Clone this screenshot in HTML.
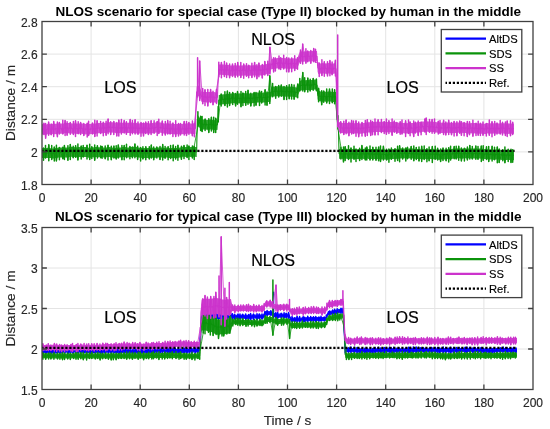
<!DOCTYPE html><html><head><meta charset="utf-8"><style>html,body{margin:0;padding:0;background:#fff;width:550px;height:429px;overflow:hidden}svg{display:block}text{font-family:"Liberation Sans", Arial, Helvetica, sans-serif}.s{stroke-width:0.2px;stroke:#000}.g{stroke-width:0.15px;stroke:#262626}.k{stroke-width:0.15px;stroke:#000}</style></head><body>
<svg width="550" height="429" viewBox="0 0 550 429">
<rect width="550" height="429" fill="#fff"/>
<path d="M91.10 21.50V184.50M140.20 21.50V184.50M189.30 21.50V184.50M238.40 21.50V184.50M287.50 21.50V184.50M336.60 21.50V184.50M385.70 21.50V184.50M434.80 21.50V184.50M483.90 21.50V184.50M42.00 151.90H533.00M42.00 119.30H533.00M42.00 86.70H533.00M42.00 54.10H533.00" stroke="#e4e4e4" stroke-width="1" fill="none"/>
<polygon points="42.0,147.9 42.6,148.0 43.2,148.2 43.8,148.2 44.5,148.1 45.1,148.1 45.7,148.0 46.3,148.0 46.9,148.0 47.5,148.1 48.1,147.9 48.8,148.1 49.4,147.9 50.0,148.1 50.6,148.2 51.2,148.2 51.8,148.4 52.4,148.5 53.0,148.4 53.7,148.5 54.3,148.4 54.9,148.3 55.5,148.1 56.1,148.1 56.7,147.9 57.3,147.8 58.0,147.7 58.6,147.6 59.2,147.6 59.8,147.5 60.4,147.5 61.0,147.5 61.6,147.5 62.3,147.5 62.9,147.5 63.5,147.6 64.1,147.5 64.7,147.6 65.3,147.6 65.9,147.7 66.5,147.5 67.2,147.5 67.8,147.5 68.4,147.6 69.0,147.3 69.6,147.1 70.2,147.1 70.8,146.9 71.5,146.8 72.1,146.9 72.7,146.9 73.3,146.9 73.9,147.1 74.5,147.2 75.1,147.1 75.8,147.3 76.4,147.2 77.0,147.4 77.6,147.4 78.2,147.1 78.8,147.0 79.4,147.1 80.1,147.2 80.7,147.1 81.3,147.0 81.9,147.0 82.5,146.9 83.1,147.0 83.7,147.0 84.3,147.0 85.0,147.1 85.6,147.1 86.2,147.2 86.8,147.1 87.4,147.2 88.0,147.5 88.6,147.7 89.3,147.4 89.9,147.5 90.5,147.7 91.1,147.6 91.7,147.4 92.3,147.3 92.9,147.2 93.6,147.3 94.2,147.6 94.8,147.3 95.4,147.0 96.0,147.0 96.6,147.1 97.2,147.1 97.9,147.4 98.5,147.3 99.1,147.3 99.7,147.3 100.3,147.4 100.9,147.4 101.5,147.2 102.1,147.3 102.8,147.3 103.4,147.5 104.0,147.5 104.6,147.5 105.2,147.6 105.8,147.5 106.4,147.4 107.1,147.2 107.7,147.1 108.3,147.1 108.9,147.1 109.5,147.0 110.1,147.2 110.7,147.3 111.4,147.6 112.0,147.7 112.6,147.6 113.2,147.5 113.8,147.6 114.4,148.1 115.0,148.0 115.7,147.9 116.3,147.9 116.9,147.7 117.5,147.8 118.1,147.8 118.7,147.6 119.3,147.7 119.9,147.5 120.6,147.4 121.2,147.4 121.8,147.4 122.4,147.1 123.0,146.9 123.6,147.0 124.2,146.9 124.9,146.9 125.5,147.1 126.1,147.3 126.7,147.4 127.3,147.5 127.9,147.6 128.5,147.4 129.2,147.3 129.8,147.2 130.4,147.0 131.0,147.0 131.6,147.0 132.2,147.1 132.8,147.1 133.4,146.8 134.1,146.8 134.7,146.8 135.3,147.0 135.9,147.0 136.5,147.0 137.1,147.0 137.7,147.2 138.4,147.4 139.0,147.5 139.6,147.8 140.2,147.8 140.8,147.9 141.4,147.9 142.0,147.9 142.7,148.1 143.3,148.1 143.9,148.3 144.5,147.9 145.1,148.1 145.7,147.9 146.3,147.9 147.0,148.0 147.6,148.0 148.2,148.0 148.8,148.0 149.4,148.0 150.0,147.9 150.6,147.9 151.2,147.8 151.9,147.8 152.5,147.8 153.1,147.8 153.7,147.8 154.3,147.7 154.9,147.9 155.5,147.8 156.2,147.6 156.8,147.5 157.4,147.5 158.0,147.4 158.6,147.4 159.2,147.3 159.8,147.2 160.5,147.6 161.1,147.6 161.7,147.6 162.3,147.6 162.9,147.6 163.5,148.0 164.1,147.9 164.8,147.9 165.4,147.7 166.0,147.6 166.6,147.5 167.2,147.7 167.8,147.9 168.4,147.9 169.0,147.9 169.7,148.0 170.3,148.0 170.9,147.9 171.5,148.1 172.1,148.1 172.7,148.2 173.3,148.2 174.0,148.1 174.6,148.1 175.2,148.1 175.8,148.2 176.4,148.1 177.0,148.1 177.6,148.0 178.3,147.8 178.9,147.9 179.5,147.6 180.1,147.4 180.7,147.2 181.3,147.2 181.9,147.0 182.5,146.7 183.2,146.6 183.8,146.7 184.4,146.8 185.0,146.9 185.6,146.9 186.2,146.9 186.8,146.8 187.5,146.7 188.1,146.7 188.7,146.8 189.3,146.8 189.9,146.9 190.5,147.0 191.1,146.9 191.8,146.9 192.4,146.8 193.0,146.7 193.6,146.8 194.2,146.9 194.8,146.9 195.4,146.9 196.1,147.0 196.7,147.0 197.3,114.2 197.9,115.1 198.5,116.2 199.1,117.1 199.7,118.1 200.3,119.0 201.0,119.0 201.6,119.2 202.2,119.2 202.8,119.3 203.4,119.4 204.0,119.5 204.6,119.4 205.3,119.5 205.9,119.6 206.5,119.8 207.1,119.9 207.7,119.8 208.3,120.0 208.9,119.9 209.6,119.4 210.2,119.5 210.8,119.5 211.4,119.6 212.0,119.7 212.6,119.9 213.2,120.1 213.8,120.0 214.5,120.2 215.1,120.0 215.7,120.2 216.3,120.2 216.9,119.9 217.5,119.9 218.1,110.7 218.8,94.9 219.4,94.9 220.0,94.8 220.6,94.7 221.2,94.8 221.8,94.7 222.4,94.4 223.1,94.1 223.7,94.5 224.3,94.4 224.9,94.3 225.5,94.2 226.1,94.2 226.7,94.0 227.4,93.8 228.0,93.7 228.6,94.0 229.2,93.9 229.8,93.8 230.4,93.6 231.0,93.6 231.6,93.4 232.3,93.1 232.9,93.2 233.5,93.1 234.1,93.3 234.7,93.3 235.3,93.4 235.9,93.9 236.6,93.7 237.2,93.5 237.8,93.5 238.4,93.4 239.0,93.4 239.6,93.3 240.2,93.5 240.9,93.5 241.5,93.7 242.1,93.6 242.7,93.1 243.3,92.9 243.9,92.9 244.5,93.2 245.2,93.1 245.8,93.2 246.4,93.2 247.0,93.3 247.6,93.2 248.2,93.3 248.8,93.3 249.4,93.4 250.1,93.4 250.7,93.3 251.3,93.4 251.9,93.4 252.5,93.3 253.1,93.1 253.7,93.0 254.4,93.0 255.0,92.7 255.6,92.6 256.2,92.7 256.8,92.5 257.4,92.5 258.0,92.6 258.7,92.7 259.3,92.4 259.9,92.3 260.5,92.3 261.1,92.5 261.7,92.7 262.3,92.9 262.9,92.6 263.6,92.5 264.2,92.5 264.8,92.5 265.4,92.6 266.0,92.6 266.6,92.5 267.2,92.2 267.9,92.2 268.5,92.0 269.1,92.0 269.7,92.1 270.3,92.0 270.9,88.5 271.5,86.4 272.2,86.5 272.8,86.6 273.4,86.5 274.0,86.4 274.6,86.6 275.2,86.5 275.8,86.5 276.5,86.4 277.1,86.3 277.7,86.2 278.3,86.3 278.9,86.3 279.5,86.3 280.1,86.1 280.7,86.2 281.4,86.2 282.0,86.5 282.6,86.3 283.2,86.4 283.8,86.5 284.4,86.5 285.0,86.5 285.7,86.7 286.3,86.8 286.9,86.6 287.5,86.8 288.1,86.6 288.7,86.6 289.3,86.7 290.0,86.7 290.6,86.8 291.2,86.7 291.8,86.6 292.4,86.7 293.0,86.8 293.6,86.9 294.3,87.0 294.9,87.0 295.5,87.3 296.1,87.4 296.7,87.4 297.3,87.3 297.9,85.5 298.5,84.0 299.2,82.4 299.8,80.6 300.4,80.7 301.0,80.5 301.6,80.5 302.2,80.2 302.8,80.0 303.5,80.1 304.1,80.0 304.7,80.0 305.3,80.1 305.9,80.4 306.5,80.0 307.1,80.1 307.8,80.1 308.4,80.0 309.0,80.3 309.6,80.0 310.2,80.0 310.8,80.1 311.4,80.0 312.1,79.9 312.7,79.9 313.3,79.8 313.9,79.7 314.5,79.5 315.1,79.5 315.7,79.4 316.3,79.7 317.0,79.8 317.6,89.2 318.2,91.1 318.8,91.1 319.4,91.1 320.0,91.2 320.6,91.4 321.3,91.6 321.9,91.6 322.5,91.7 323.1,91.7 323.7,91.6 324.3,91.5 324.9,91.5 325.6,91.7 326.2,91.7 326.8,91.7 327.4,91.7 328.0,91.6 328.6,91.5 329.2,91.6 329.8,91.6 330.5,91.6 331.1,91.8 331.7,91.8 332.3,91.9 332.9,92.0 333.5,92.0 334.1,92.1 334.8,92.1 335.4,91.9 336.0,91.9 336.6,107.1 337.2,115.0 337.8,115.8 338.4,121.7 339.1,149.0 339.7,148.9 340.3,148.9 340.9,148.8 341.5,148.8 342.1,148.9 342.7,148.9 343.4,148.9 344.0,148.7 344.6,148.6 345.2,148.6 345.8,148.8 346.4,148.8 347.0,148.8 347.6,149.0 348.3,148.9 348.9,148.9 349.5,148.9 350.1,148.8 350.7,148.8 351.3,148.8 351.9,148.9 352.6,148.9 353.2,148.8 353.8,148.8 354.4,148.8 355.0,148.9 355.6,149.1 356.2,149.0 356.9,149.2 357.5,149.3 358.1,149.2 358.7,149.1 359.3,148.9 359.9,149.0 360.5,149.0 361.1,148.9 361.8,148.8 362.4,148.8 363.0,148.8 363.6,148.9 364.2,149.1 364.8,148.9 365.4,148.8 366.1,148.7 366.7,148.6 367.3,148.6 367.9,148.8 368.5,148.9 369.1,148.9 369.7,148.9 370.4,149.0 371.0,149.0 371.6,149.1 372.2,149.2 372.8,149.4 373.4,149.4 374.0,149.1 374.7,149.1 375.3,149.0 375.9,148.8 376.5,148.9 377.1,149.0 377.7,149.2 378.3,149.3 378.9,149.4 379.6,149.2 380.2,149.3 380.8,149.4 381.4,149.4 382.0,149.4 382.6,149.4 383.2,149.3 383.9,149.4 384.5,149.5 385.1,149.7 385.7,149.7 386.3,149.9 386.9,150.0 387.5,149.9 388.2,149.7 388.8,149.6 389.4,149.4 390.0,149.3 390.6,149.2 391.2,149.2 391.8,148.9 392.5,149.0 393.1,149.2 393.7,149.1 394.3,149.4 394.9,149.2 395.5,148.9 396.1,149.0 396.7,148.7 397.4,148.8 398.0,148.7 398.6,148.7 399.2,148.7 399.8,148.5 400.4,148.4 401.0,148.5 401.7,148.3 402.3,148.5 402.9,148.5 403.5,148.4 404.1,148.4 404.7,148.4 405.3,148.3 406.0,148.1 406.6,148.2 407.2,148.3 407.8,148.4 408.4,148.5 409.0,148.5 409.6,148.3 410.2,148.5 410.9,148.7 411.5,148.6 412.1,148.6 412.7,148.6 413.3,148.5 413.9,148.6 414.5,148.9 415.2,148.7 415.8,148.9 416.4,149.0 417.0,149.0 417.6,149.1 418.2,148.9 418.8,149.0 419.5,149.1 420.1,149.1 420.7,149.4 421.3,149.4 421.9,149.4 422.5,149.5 423.1,149.2 423.8,149.1 424.4,148.9 425.0,148.9 425.6,149.0 426.2,149.4 426.8,149.2 427.4,149.2 428.0,149.3 428.7,149.3 429.3,149.3 429.9,149.2 430.5,149.0 431.1,149.2 431.7,149.3 432.3,149.2 433.0,149.3 433.6,149.2 434.2,149.4 434.8,149.3 435.4,149.2 436.0,149.3 436.6,149.4 437.3,149.6 437.9,149.7 438.5,149.8 439.1,150.0 439.7,149.7 440.3,149.7 440.9,149.4 441.6,149.4 442.2,149.7 442.8,149.6 443.4,149.6 444.0,149.6 444.6,149.4 445.2,149.2 445.8,149.4 446.5,149.4 447.1,149.2 447.7,149.2 448.3,149.1 448.9,149.1 449.5,149.3 450.1,149.1 450.8,148.9 451.4,149.1 452.0,148.9 452.6,148.8 453.2,148.6 453.8,148.7 454.4,148.5 455.1,148.5 455.7,148.5 456.3,148.5 456.9,148.4 457.5,148.4 458.1,148.3 458.7,148.4 459.4,148.4 460.0,148.6 460.6,148.6 461.2,148.4 461.8,148.6 462.4,148.8 463.0,148.6 463.6,148.6 464.3,148.4 464.9,148.2 465.5,148.2 466.1,148.5 466.7,148.5 467.3,148.5 467.9,148.4 468.6,148.4 469.2,148.4 469.8,148.3 470.4,148.4 471.0,148.2 471.6,148.5 472.2,148.6 472.9,148.6 473.5,148.6 474.1,148.5 474.7,148.6 475.3,148.6 475.9,148.6 476.5,148.5 477.1,148.6 477.8,148.7 478.4,148.6 479.0,148.6 479.6,148.6 480.2,148.8 480.8,148.8 481.4,148.7 482.1,148.8 482.7,148.8 483.3,149.1 483.9,149.2 484.5,149.1 485.1,149.0 485.7,149.0 486.4,149.1 487.0,149.2 487.6,149.2 488.2,149.5 488.8,149.5 489.4,149.5 490.0,149.7 490.7,149.6 491.3,149.5 491.9,149.4 492.5,149.7 493.1,149.9 493.7,149.7 494.3,149.6 494.9,149.7 495.6,149.6 496.2,149.6 496.8,149.6 497.4,149.6 498.0,149.5 498.6,149.4 499.2,149.4 499.9,149.4 500.5,149.7 501.1,149.9 501.7,149.9 502.3,149.9 502.9,149.9 503.5,150.0 504.2,150.2 504.8,150.0 505.4,150.1 506.0,150.2 506.6,150.1 507.2,149.8 507.8,150.1 508.4,150.1 509.1,150.2 509.7,150.2 510.3,150.2 510.9,150.3 511.5,150.3 512.1,150.0 512.7,150.2 513.4,150.3 514.0,150.4 514.0,160.3 513.4,160.3 512.7,160.1 512.1,160.0 511.5,160.2 510.9,160.3 510.3,160.2 509.7,160.1 509.1,160.1 508.4,160.1 507.8,160.0 507.2,159.7 506.6,160.0 506.0,160.1 505.4,160.0 504.8,160.0 504.2,160.2 503.5,160.0 502.9,159.8 502.3,159.9 501.7,159.9 501.1,159.8 500.5,159.7 499.9,159.4 499.2,159.4 498.6,159.4 498.0,159.5 497.4,159.6 496.8,159.5 496.2,159.6 495.6,159.5 494.9,159.7 494.3,159.6 493.7,159.7 493.1,159.9 492.5,159.6 491.9,159.4 491.3,159.4 490.7,159.5 490.0,159.6 489.4,159.4 488.8,159.5 488.2,159.5 487.6,159.2 487.0,159.2 486.4,159.1 485.7,159.0 485.1,158.9 484.5,159.1 483.9,159.2 483.3,159.0 482.7,158.8 482.1,158.8 481.4,158.6 480.8,158.7 480.2,158.7 479.6,158.6 479.0,158.6 478.4,158.5 477.8,158.7 477.1,158.6 476.5,158.5 475.9,158.5 475.3,158.6 474.7,158.5 474.1,158.5 473.5,158.6 472.9,158.5 472.2,158.5 471.6,158.4 471.0,158.2 470.4,158.3 469.8,158.3 469.2,158.3 468.6,158.3 467.9,158.4 467.3,158.4 466.7,158.5 466.1,158.5 465.5,158.2 464.9,158.2 464.3,158.4 463.6,158.5 463.0,158.6 462.4,158.8 461.8,158.6 461.2,158.4 460.6,158.6 460.0,158.6 459.4,158.3 458.7,158.4 458.1,158.3 457.5,158.4 456.9,158.3 456.3,158.4 455.7,158.5 455.1,158.5 454.4,158.5 453.8,158.7 453.2,158.6 452.6,158.8 452.0,158.9 451.4,159.0 450.8,158.9 450.1,159.1 449.5,159.3 448.9,159.1 448.3,159.0 447.7,159.2 447.1,159.1 446.5,159.4 445.8,159.3 445.2,159.2 444.6,159.4 444.0,159.6 443.4,159.6 442.8,159.6 442.2,159.7 441.6,159.3 440.9,159.3 440.3,159.6 439.7,159.7 439.1,159.9 438.5,159.7 437.9,159.7 437.3,159.5 436.6,159.3 436.0,159.2 435.4,159.2 434.8,159.3 434.2,159.3 433.6,159.2 433.0,159.3 432.3,159.2 431.7,159.3 431.1,159.1 430.5,159.0 429.9,159.2 429.3,159.3 428.7,159.3 428.0,159.3 427.4,159.2 426.8,159.2 426.2,159.4 425.6,159.0 425.0,158.9 424.4,158.9 423.8,159.1 423.1,159.1 422.5,159.4 421.9,159.3 421.3,159.4 420.7,159.3 420.1,159.0 419.5,159.0 418.8,158.9 418.2,158.8 417.6,159.0 417.0,158.9 416.4,158.9 415.8,158.9 415.2,158.7 414.5,158.8 413.9,158.6 413.3,158.5 412.7,158.6 412.1,158.6 411.5,158.6 410.9,158.7 410.2,158.5 409.6,158.3 409.0,158.4 408.4,158.4 407.8,158.3 407.2,158.3 406.6,158.2 406.0,158.0 405.3,158.3 404.7,158.4 404.1,158.3 403.5,158.4 402.9,158.5 402.3,158.5 401.7,158.3 401.0,158.4 400.4,158.4 399.8,158.5 399.2,158.7 398.6,158.7 398.0,158.7 397.4,158.8 396.7,158.7 396.1,159.0 395.5,158.9 394.9,159.2 394.3,159.3 393.7,159.1 393.1,159.1 392.5,159.0 391.8,158.9 391.2,159.1 390.6,159.2 390.0,159.2 389.4,159.4 388.8,159.6 388.2,159.6 387.5,159.8 386.9,160.0 386.3,159.8 385.7,159.6 385.1,159.6 384.5,159.4 383.9,159.4 383.2,159.2 382.6,159.4 382.0,159.3 381.4,159.4 380.8,159.4 380.2,159.2 379.6,159.2 378.9,159.3 378.3,159.2 377.7,159.2 377.1,159.0 376.5,158.9 375.9,158.8 375.3,159.0 374.7,159.1 374.0,159.1 373.4,159.4 372.8,159.3 372.2,159.2 371.6,159.1 371.0,159.0 370.4,158.9 369.7,158.9 369.1,158.9 368.5,158.9 367.9,158.8 367.3,158.6 366.7,158.5 366.1,158.6 365.4,158.7 364.8,158.9 364.2,159.0 363.6,158.9 363.0,158.7 362.4,158.7 361.8,158.7 361.1,158.8 360.5,158.9 359.9,159.0 359.3,158.9 358.7,159.1 358.1,159.1 357.5,159.2 356.9,159.1 356.2,159.0 355.6,159.0 355.0,158.9 354.4,158.7 353.8,158.7 353.2,158.7 352.6,158.8 351.9,158.9 351.3,158.7 350.7,158.7 350.1,158.7 349.5,158.9 348.9,158.9 348.3,158.9 347.6,158.9 347.0,158.7 346.4,158.8 345.8,158.8 345.2,158.6 344.6,158.6 344.0,158.7 343.4,158.9 342.7,158.9 342.1,158.8 341.5,158.7 340.9,158.7 340.3,158.9 339.7,158.8 339.1,158.9 338.4,131.7 337.8,125.7 337.2,124.9 336.6,117.0 336.0,101.8 335.4,101.8 334.8,102.0 334.1,102.0 333.5,102.0 332.9,102.0 332.3,101.9 331.7,101.7 331.1,101.8 330.5,101.6 329.8,101.5 329.2,101.6 328.6,101.5 328.0,101.5 327.4,101.7 326.8,101.6 326.2,101.7 325.6,101.7 324.9,101.4 324.3,101.5 323.7,101.5 323.1,101.6 322.5,101.7 321.9,101.6 321.3,101.6 320.6,101.3 320.0,101.2 319.4,101.0 318.8,101.0 318.2,101.1 317.6,99.1 317.0,89.8 316.3,89.6 315.7,89.4 315.1,89.5 314.5,89.5 313.9,89.7 313.3,89.7 312.7,89.9 312.1,89.8 311.4,89.9 310.8,90.1 310.2,90.0 309.6,90.0 309.0,90.2 308.4,90.0 307.8,90.0 307.1,90.1 306.5,90.0 305.9,90.4 305.3,90.0 304.7,90.0 304.1,90.0 303.5,90.0 302.8,90.0 302.2,90.1 301.6,90.4 301.0,90.5 300.4,90.6 299.8,90.6 299.2,92.4 298.5,94.0 297.9,95.4 297.3,97.2 296.7,97.4 296.1,97.4 295.5,97.3 294.9,97.0 294.3,97.0 293.6,96.8 293.0,96.7 292.4,96.7 291.8,96.6 291.2,96.6 290.6,96.8 290.0,96.7 289.3,96.7 288.7,96.6 288.1,96.6 287.5,96.7 286.9,96.6 286.3,96.7 285.7,96.7 285.0,96.5 284.4,96.5 283.8,96.5 283.2,96.4 282.6,96.2 282.0,96.5 281.4,96.2 280.7,96.2 280.1,96.1 279.5,96.2 278.9,96.3 278.3,96.2 277.7,96.2 277.1,96.2 276.5,96.3 275.8,96.4 275.2,96.4 274.6,96.6 274.0,96.4 273.4,96.4 272.8,96.5 272.2,96.5 271.5,96.4 270.9,98.5 270.3,102.0 269.7,102.1 269.1,102.0 268.5,102.0 267.9,102.1 267.2,102.1 266.6,102.5 266.0,102.5 265.4,102.5 264.8,102.5 264.2,102.5 263.6,102.5 262.9,102.5 262.3,102.8 261.7,102.7 261.1,102.5 260.5,102.2 259.9,102.3 259.3,102.4 258.7,102.6 258.0,102.6 257.4,102.5 256.8,102.5 256.2,102.6 255.6,102.6 255.0,102.7 254.4,102.9 253.7,103.0 253.1,103.1 252.5,103.3 251.9,103.3 251.3,103.4 250.7,103.3 250.1,103.4 249.4,103.4 248.8,103.2 248.2,103.3 247.6,103.2 247.0,103.2 246.4,103.1 245.8,103.2 245.2,103.0 244.5,103.1 243.9,102.9 243.3,102.9 242.7,103.1 242.1,103.6 241.5,103.6 240.9,103.4 240.2,103.4 239.6,103.3 239.0,103.4 238.4,103.3 237.8,103.5 237.2,103.5 236.6,103.7 235.9,103.9 235.3,103.3 234.7,103.3 234.1,103.3 233.5,103.1 232.9,103.1 232.3,103.1 231.6,103.4 231.0,103.5 230.4,103.6 229.8,103.8 229.2,103.8 228.6,104.0 228.0,103.6 227.4,103.7 226.7,103.9 226.1,104.2 225.5,104.2 224.9,104.3 224.3,104.4 223.7,104.5 223.1,104.1 222.4,104.4 221.8,104.6 221.2,104.8 220.6,104.7 220.0,104.8 219.4,104.8 218.8,104.9 218.1,120.6 217.5,129.9 216.9,129.8 216.3,130.2 215.7,130.1 215.1,130.0 214.5,130.1 213.8,130.0 213.2,130.0 212.6,129.8 212.0,129.6 211.4,129.6 210.8,129.5 210.2,129.4 209.6,129.4 208.9,129.9 208.3,129.9 207.7,129.7 207.1,129.8 206.5,129.7 205.9,129.6 205.3,129.5 204.6,129.4 204.0,129.5 203.4,129.4 202.8,129.2 202.2,129.2 201.6,129.2 201.0,129.0 200.3,128.9 199.7,128.0 199.1,127.1 198.5,126.1 197.9,125.1 197.3,124.1 196.7,157.0 196.1,156.9 195.4,156.8 194.8,156.9 194.2,156.9 193.6,156.8 193.0,156.7 192.4,156.7 191.8,156.8 191.1,156.9 190.5,156.9 189.9,156.8 189.3,156.7 188.7,156.8 188.1,156.7 187.5,156.7 186.8,156.8 186.2,156.9 185.6,156.9 185.0,156.8 184.4,156.7 183.8,156.7 183.2,156.6 182.5,156.7 181.9,157.0 181.3,157.2 180.7,157.2 180.1,157.4 179.5,157.5 178.9,157.8 178.3,157.8 177.6,157.9 177.0,158.0 176.4,158.1 175.8,158.2 175.2,158.0 174.6,158.0 174.0,158.1 173.3,158.2 172.7,158.2 172.1,158.1 171.5,158.0 170.9,157.9 170.3,158.0 169.7,158.0 169.0,157.9 168.4,157.9 167.8,157.8 167.2,157.6 166.6,157.5 166.0,157.6 165.4,157.7 164.8,157.8 164.1,157.9 163.5,157.9 162.9,157.6 162.3,157.6 161.7,157.5 161.1,157.5 160.5,157.6 159.8,157.2 159.2,157.3 158.6,157.4 158.0,157.4 157.4,157.4 156.8,157.4 156.2,157.6 155.5,157.8 154.9,157.9 154.3,157.7 153.7,157.8 153.1,157.8 152.5,157.7 151.9,157.7 151.2,157.8 150.6,157.8 150.0,157.9 149.4,158.0 148.8,158.0 148.2,158.0 147.6,158.0 147.0,158.0 146.3,157.9 145.7,157.9 145.1,158.0 144.5,157.9 143.9,158.2 143.3,158.0 142.7,158.0 142.0,157.9 141.4,157.8 140.8,157.9 140.2,157.8 139.6,157.7 139.0,157.5 138.4,157.3 137.7,157.2 137.1,157.0 136.5,157.0 135.9,157.0 135.3,157.0 134.7,156.8 134.1,156.8 133.4,156.8 132.8,157.0 132.2,157.0 131.6,157.0 131.0,156.9 130.4,157.0 129.8,157.1 129.2,157.2 128.5,157.4 127.9,157.5 127.3,157.5 126.7,157.4 126.1,157.2 125.5,157.1 124.9,156.9 124.2,156.8 123.6,156.9 123.0,156.9 122.4,157.1 121.8,157.4 121.2,157.4 120.6,157.3 119.9,157.4 119.3,157.6 118.7,157.6 118.1,157.8 117.5,157.7 116.9,157.7 116.3,157.8 115.7,157.9 115.0,158.0 114.4,158.0 113.8,157.6 113.2,157.4 112.6,157.6 112.0,157.6 111.4,157.6 110.7,157.3 110.1,157.2 109.5,157.0 108.9,157.0 108.3,157.0 107.7,157.0 107.1,157.1 106.4,157.4 105.8,157.5 105.2,157.5 104.6,157.4 104.0,157.5 103.4,157.4 102.8,157.2 102.1,157.3 101.5,157.2 100.9,157.4 100.3,157.3 99.7,157.3 99.1,157.2 98.5,157.2 97.9,157.4 97.2,157.1 96.6,157.0 96.0,156.9 95.4,157.0 94.8,157.3 94.2,157.5 93.6,157.3 92.9,157.2 92.3,157.3 91.7,157.4 91.1,157.5 90.5,157.7 89.9,157.5 89.3,157.4 88.6,157.7 88.0,157.4 87.4,157.2 86.8,157.1 86.2,157.1 85.6,157.1 85.0,157.0 84.3,157.0 83.7,156.9 83.1,156.9 82.5,156.9 81.9,156.9 81.3,156.9 80.7,157.1 80.1,157.2 79.4,157.1 78.8,156.9 78.2,157.1 77.6,157.4 77.0,157.4 76.4,157.2 75.8,157.3 75.1,157.0 74.5,157.1 73.9,157.1 73.3,156.9 72.7,156.9 72.1,156.9 71.5,156.8 70.8,156.8 70.2,157.1 69.6,157.0 69.0,157.3 68.4,157.5 67.8,157.5 67.2,157.4 66.5,157.4 65.9,157.6 65.3,157.6 64.7,157.6 64.1,157.5 63.5,157.6 62.9,157.4 62.3,157.4 61.6,157.5 61.0,157.5 60.4,157.5 59.8,157.4 59.2,157.6 58.6,157.6 58.0,157.7 57.3,157.8 56.7,157.9 56.1,158.0 55.5,158.0 54.9,158.2 54.3,158.4 53.7,158.5 53.0,158.4 52.4,158.5 51.8,158.4 51.2,158.2 50.6,158.1 50.0,158.1 49.4,157.9 48.8,158.0 48.1,157.9 47.5,158.1 46.9,158.0 46.3,157.9 45.7,158.0 45.1,158.1 44.5,158.1 43.8,158.2 43.2,158.1 42.6,157.9 42.0,157.9" fill="#30a330"/><path d="M43.5 148.1V160.3M45.5 145.5V158.1M48.8 144.8V160.7M51.7 145.4V159.4M54.3 147.0V160.9M56.4 145.2V161.0M59.4 147.5V159.8M62.8 147.3V158.8M64.4 145.6V159.6M67.9 145.8V160.3M70.3 144.4V159.4M73.2 146.2V157.7M75.6 145.7V157.2M77.9 144.0V160.1M81.2 146.0V159.0M83.2 145.6V157.1M87.0 145.2V159.0M89.7 144.2V159.4M91.8 146.8V158.4M94.7 145.0V160.2M97.4 145.8V158.0M100.7 146.1V157.8M102.1 146.4V158.3M105.2 146.0V158.7M108.0 145.2V160.0M111.3 146.3V159.7M113.9 146.0V158.0M116.2 145.8V159.1M118.3 144.9V158.0M121.9 145.5V159.7M124.2 145.6V159.7M126.5 144.2V157.7M129.9 146.6V158.8M132.4 146.9V157.8M134.9 143.9V157.8M137.6 146.3V159.6M140.6 147.4V161.1M142.9 146.8V159.0M145.8 146.8V159.7M149.3 146.8V159.0M151.3 145.0V158.0M153.7 146.9V159.8M156.8 147.0V158.0M160.0 146.6V159.6M162.7 144.5V160.1M165.1 146.4V158.2M168.1 146.7V159.8M170.6 145.4V158.6M173.2 145.1V160.7M175.6 146.5V159.1M177.9 145.2V160.2M181.4 146.3V159.3M184.0 145.6V158.6M187.1 144.9V157.5M188.9 146.0V159.5M192.4 145.9V157.9M194.2 146.3V159.5M197.9 111.8V126.6M200.6 116.2V130.4M202.1 116.6V131.6M205.1 119.1V130.6M208.8 118.8V132.4M211.4 117.2V131.1M213.7 117.2V132.4M215.7 118.3V132.4M218.2 106.5V122.0M221.2 94.0V106.1M224.9 91.8V105.5M227.4 91.0V107.0M229.6 92.5V105.5M232.7 92.4V104.5M235.6 93.5V105.9M237.5 91.4V104.3M241.0 91.4V106.7M242.9 93.1V105.5M245.7 91.5V105.3M248.0 90.2V104.2M250.8 93.2V106.0M254.1 92.5V106.0M256.0 92.5V105.2M259.5 90.9V105.4M261.6 91.4V103.0M265.1 89.7V105.0M267.0 92.1V105.2M269.8 75.8V103.6M272.6 83.4V96.8M275.7 86.4V98.2M278.7 85.4V97.1M281.3 84.9V96.3M284.0 86.5V99.6M286.6 85.7V99.4M289.2 84.7V98.8M291.6 84.6V99.1M294.1 85.0V99.2M297.7 84.0V97.7M299.8 78.6V91.0M302.8 72.5V91.0M304.7 77.8V91.7M307.8 78.1V91.9M310.2 79.3V91.0M313.2 78.4V90.2M316.4 78.9V90.8M318.6 88.2V101.7M321.7 90.7V104.7M323.7 91.0V102.3M326.7 89.0V103.0M329.5 89.1V103.4M332.3 89.1V102.7M334.6 89.8V103.7M338.0 115.8V129.0M340.9 147.2V158.9M343.5 147.0V162.0M345.2 146.7V160.4M348.5 145.8V159.4M351.0 147.9V162.0M354.0 146.2V159.3M356.0 149.0V161.4M359.6 148.3V160.5M361.9 145.6V159.6M365.3 148.0V160.0M366.8 146.9V160.1M370.0 145.9V160.1M372.8 147.2V160.1M376.0 147.2V160.2M378.6 147.0V160.7M380.5 146.1V161.6M383.4 146.2V159.9M386.6 149.3V160.1M388.9 149.1V162.3M391.4 148.1V159.3M395.0 148.7V161.3M397.6 146.2V160.6M399.6 145.8V161.8M402.6 148.1V159.1M405.8 147.9V161.1M407.5 147.3V158.7M411.2 146.4V159.2M413.8 146.1V160.7M416.3 147.4V159.5M419.0 146.9V160.9M421.7 146.3V161.6M424.2 146.1V159.4M426.9 148.8V161.8M429.1 147.0V160.7M432.3 146.6V162.4M435.2 146.2V159.2M437.6 148.3V159.9M440.6 149.0V161.6M443.0 148.1V160.4M446.1 148.2V160.7M448.7 147.8V162.1M450.6 146.3V160.1M454.2 146.5V158.8M456.2 146.2V158.9M458.7 146.2V160.2M461.4 148.0V161.0M464.4 148.2V160.9M467.4 147.1V160.0M469.8 145.5V159.1M472.3 146.4V159.0M475.8 145.9V159.3M478.0 146.6V159.3M481.3 146.1V161.6M483.2 145.7V160.3M486.5 146.8V159.5M488.7 146.6V161.6M492.1 146.3V161.0M494.5 147.2V159.7M497.3 146.9V162.8M499.2 149.1V162.5M502.8 149.8V160.7M504.9 147.0V162.8M508.2 149.3V161.6M511.0 149.3V162.5M512.7 149.7V162.3" stroke="#0b930b" stroke-width="1.50" stroke-linecap="round" fill="none"/><polyline points="43.5,148.1 45.5,158.1 48.8,144.8 51.7,159.4 54.3,147.0 56.4,161.0 59.4,147.5 62.8,158.8 64.4,145.6 67.9,160.3 70.3,144.4 73.2,157.7 75.6,145.7 77.9,160.1 81.2,146.0 83.2,157.1 87.0,145.2 89.7,159.4 91.8,146.8 94.7,160.2 97.4,145.8 100.7,157.8 102.1,146.4 105.2,158.7 108.0,145.2 111.3,159.7 113.9,146.0 116.2,159.1 118.3,144.9 121.9,159.7 124.2,145.6 126.5,157.7 129.9,146.6 132.4,157.8 134.9,143.9 137.6,159.6 140.6,147.4 142.9,159.0 145.8,146.8 149.3,159.0 151.3,145.0 153.7,159.8 156.8,147.0 160.0,159.6 162.7,144.5 165.1,158.2 168.1,146.7 170.6,158.6 173.2,145.1 175.6,159.1 177.9,145.2 181.4,159.3 184.0,145.6 187.1,157.5 188.9,146.0 192.4,157.9 194.2,146.3 197.9,126.6 200.6,116.2 202.1,131.6 205.1,119.1 208.8,132.4 211.4,117.2 213.7,132.4 215.7,118.3 218.2,122.0 221.2,94.0 224.9,105.5 227.4,91.0 229.6,105.5 232.7,92.4 235.6,105.9 237.5,91.4 241.0,106.7 242.9,93.1 245.7,105.3 248.0,90.2 250.8,106.0 254.1,92.5 256.0,105.2 259.5,90.9 261.6,103.0 265.1,89.7 267.0,105.2 269.8,75.8 272.6,96.8 275.7,86.4 278.7,97.1 281.3,84.9 284.0,99.6 286.6,85.7 289.2,98.8 291.6,84.6 294.1,99.2 297.7,84.0 299.8,91.0 302.8,72.5 304.7,91.7 307.8,78.1 310.2,91.0 313.2,78.4 316.4,90.8 318.6,88.2 321.7,104.7 323.7,91.0 326.7,103.0 329.5,89.1 332.3,102.7 334.6,89.8 338.0,129.0 340.9,147.2 343.5,162.0 345.2,146.7 348.5,159.4 351.0,147.9 354.0,159.3 356.0,149.0 359.6,160.5 361.9,145.6 365.3,160.0 366.8,146.9 370.0,160.1 372.8,147.2 376.0,160.2 378.6,147.0 380.5,161.6 383.4,146.2 386.6,160.1 388.9,149.1 391.4,159.3 395.0,148.7 397.6,160.6 399.6,145.8 402.6,159.1 405.8,147.9 407.5,158.7 411.2,146.4 413.8,160.7 416.3,147.4 419.0,160.9 421.7,146.3 424.2,159.4 426.9,148.8 429.1,160.7 432.3,146.6 435.2,159.2 437.6,148.3 440.6,161.6 443.0,148.1 446.1,160.7 448.7,147.8 450.6,160.1 454.2,146.5 456.2,158.9 458.7,146.2 461.4,161.0 464.4,148.2 467.4,160.0 469.8,145.5 472.3,159.0 475.8,145.9 478.0,159.3 481.3,146.1 483.2,160.3 486.5,146.8 488.7,161.6 492.1,146.3 494.5,159.7 497.3,146.9 499.2,162.5 502.8,149.8 504.9,162.8 508.2,149.3 511.0,162.5 512.7,149.7" fill="none" stroke="#0b930b" stroke-width="0.80" stroke-linejoin="round"/><polyline points="42.0,152.9 42.6,152.9 43.2,153.1 43.8,153.2 44.5,153.1 45.1,153.1 45.7,153.0 46.3,153.0 46.9,153.0 47.5,153.1 48.1,152.9 48.8,153.0 49.4,152.9 50.0,153.1 50.6,153.2 51.2,153.2 51.8,153.4 52.4,153.5 53.0,153.4 53.7,153.5 54.3,153.4 54.9,153.2 55.5,153.0 56.1,153.0 56.7,152.9 57.3,152.8 58.0,152.7 58.6,152.6 59.2,152.6 59.8,152.4 60.4,152.5 61.0,152.5 61.6,152.5 62.3,152.4 62.9,152.4 63.5,152.6 64.1,152.5 64.7,152.6 65.3,152.6 65.9,152.7 66.5,152.5 67.2,152.4 67.8,152.5 68.4,152.5 69.0,152.3 69.6,152.0 70.2,152.1 70.8,151.9 71.5,151.8 72.1,151.9 72.7,151.9 73.3,151.9 73.9,152.1 74.5,152.1 75.1,152.0 75.8,152.3 76.4,152.2 77.0,152.4 77.6,152.4 78.2,152.1 78.8,151.9 79.4,152.1 80.1,152.2 80.7,152.1 81.3,151.9 81.9,151.9 82.5,151.9 83.1,152.0 83.7,151.9 84.3,152.0 85.0,152.0 85.6,152.1 86.2,152.1 86.8,152.1 87.4,152.2 88.0,152.5 88.6,152.7 89.3,152.4 89.9,152.5 90.5,152.7 91.1,152.6 91.7,152.4 92.3,152.3 92.9,152.2 93.6,152.3 94.2,152.6 94.8,152.3 95.4,152.0 96.0,152.0 96.6,152.0 97.2,152.1 97.9,152.4 98.5,152.3 99.1,152.2 99.7,152.3 100.3,152.3 100.9,152.4 101.5,152.2 102.1,152.3 102.8,152.2 103.4,152.4 104.0,152.5 104.6,152.5 105.2,152.6 105.8,152.5 106.4,152.4 107.1,152.2 107.7,152.0 108.3,152.1 108.9,152.0 109.5,152.0 110.1,152.2 110.7,152.3 111.4,152.6 112.0,152.7 112.6,152.6 113.2,152.4 113.8,152.6 114.4,153.1 115.0,153.0 115.7,152.9 116.3,152.8 116.9,152.7 117.5,152.7 118.1,152.8 118.7,152.6 119.3,152.6 119.9,152.5 120.6,152.3 121.2,152.4 121.8,152.4 122.4,152.1 123.0,151.9 123.6,151.9 124.2,151.9 124.9,151.9 125.5,152.1 126.1,152.3 126.7,152.4 127.3,152.5 127.9,152.5 128.5,152.4 129.2,152.2 129.8,152.2 130.4,152.0 131.0,152.0 131.6,152.0 132.2,152.0 132.8,152.1 133.4,151.8 134.1,151.8 134.7,151.8 135.3,152.0 135.9,152.0 136.5,152.0 137.1,152.0 137.7,152.2 138.4,152.4 139.0,152.5 139.6,152.8 140.2,152.8 140.8,152.9 141.4,152.8 142.0,152.9 142.7,153.0 143.3,153.1 143.9,153.2 144.5,152.9 145.1,153.0 145.7,152.9 146.3,152.9 147.0,153.0 147.6,153.0 148.2,153.0 148.8,153.0 149.4,153.0 150.0,152.9 150.6,152.8 151.2,152.8 151.9,152.8 152.5,152.7 153.1,152.8 153.7,152.8 154.3,152.7 154.9,152.9 155.5,152.8 156.2,152.6 156.8,152.5 157.4,152.5 158.0,152.4 158.6,152.4 159.2,152.3 159.8,152.2 160.5,152.6 161.1,152.6 161.7,152.5 162.3,152.6 162.9,152.6 163.5,152.9 164.1,152.9 164.8,152.8 165.4,152.7 166.0,152.6 166.6,152.5 167.2,152.6 167.8,152.9 168.4,152.9 169.0,152.9 169.7,153.0 170.3,153.0 170.9,152.9 171.5,153.1 172.1,153.1 172.7,153.2 173.3,153.2 174.0,153.1 174.6,153.1 175.2,153.1 175.8,153.2 176.4,153.1 177.0,153.0 177.6,152.9 178.3,152.8 178.9,152.9 179.5,152.6 180.1,152.4 180.7,152.2 181.3,152.2 181.9,152.0 182.5,151.7 183.2,151.6 183.8,151.7 184.4,151.7 185.0,151.9 185.6,151.9 186.2,151.9 186.8,151.8 187.5,151.7 188.1,151.7 188.7,151.8 189.3,151.8 189.9,151.9 190.5,152.0 191.1,151.9 191.8,151.8 192.4,151.8 193.0,151.7 193.6,151.8 194.2,151.9 194.8,151.9 195.4,151.9 196.1,151.9 196.7,152.0 197.3,119.1 197.9,120.1 198.5,121.2 199.1,122.1 199.7,123.1 200.3,123.9 201.0,124.0 201.6,124.2 202.2,124.2 202.8,124.3 203.4,124.4 204.0,124.5 204.6,124.4 205.3,124.5 205.9,124.6 206.5,124.7 207.1,124.8 207.7,124.7 208.3,124.9 208.9,124.9 209.6,124.4 210.2,124.5 210.8,124.5 211.4,124.6 212.0,124.6 212.6,124.8 213.2,125.0 213.8,125.0 214.5,125.1 215.1,125.0 215.7,125.2 216.3,125.2 216.9,124.9 217.5,124.9 218.1,115.7 218.8,99.9 219.4,99.9 220.0,99.8 220.6,99.7 221.2,99.8 221.8,99.7 222.4,99.4 223.1,99.1 223.7,99.5 224.3,99.4 224.9,99.3 225.5,99.2 226.1,99.2 226.7,99.0 227.4,98.7 228.0,98.7 228.6,99.0 229.2,98.8 229.8,98.8 230.4,98.6 231.0,98.6 231.6,98.4 232.3,98.1 232.9,98.1 233.5,98.1 234.1,98.3 234.7,98.3 235.3,98.3 235.9,98.9 236.6,98.7 237.2,98.5 237.8,98.5 238.4,98.4 239.0,98.4 239.6,98.3 240.2,98.5 240.9,98.5 241.5,98.6 242.1,98.6 242.7,98.1 243.3,97.9 243.9,97.9 244.5,98.1 245.2,98.0 245.8,98.2 246.4,98.2 247.0,98.2 247.6,98.2 248.2,98.3 248.8,98.3 249.4,98.4 250.1,98.4 250.7,98.3 251.3,98.4 251.9,98.3 252.5,98.3 253.1,98.1 253.7,98.0 254.4,97.9 255.0,97.7 255.6,97.6 256.2,97.6 256.8,97.5 257.4,97.5 258.0,97.6 258.7,97.7 259.3,97.4 259.9,97.3 260.5,97.3 261.1,97.5 261.7,97.7 262.3,97.8 262.9,97.5 263.6,97.5 264.2,97.5 264.8,97.5 265.4,97.5 266.0,97.5 266.6,97.5 267.2,97.2 267.9,97.1 268.5,97.0 269.1,97.0 269.7,97.1 270.3,97.0 270.9,93.5 271.5,91.4 272.2,91.5 272.8,91.6 273.4,91.4 274.0,91.4 274.6,91.6 275.2,91.5 275.8,91.5 276.5,91.4 277.1,91.2 277.7,91.2 278.3,91.2 278.9,91.3 279.5,91.3 280.1,91.1 280.7,91.2 281.4,91.2 282.0,91.5 282.6,91.3 283.2,91.4 283.8,91.5 284.4,91.5 285.0,91.5 285.7,91.7 286.3,91.8 286.9,91.6 287.5,91.8 288.1,91.6 288.7,91.6 289.3,91.7 290.0,91.7 290.6,91.8 291.2,91.6 291.8,91.6 292.4,91.7 293.0,91.7 293.6,91.8 294.3,92.0 294.9,92.0 295.5,92.3 296.1,92.4 296.7,92.4 297.3,92.3 297.9,90.5 298.5,89.0 299.2,87.4 299.8,85.6 300.4,85.6 301.0,85.5 301.6,85.4 302.2,85.2 302.8,85.0 303.5,85.0 304.1,85.0 304.7,85.0 305.3,85.1 305.9,85.4 306.5,85.0 307.1,85.1 307.8,85.0 308.4,85.0 309.0,85.2 309.6,85.0 310.2,85.0 310.8,85.1 311.4,85.0 312.1,84.9 312.7,84.9 313.3,84.7 313.9,84.7 314.5,84.5 315.1,84.5 315.7,84.4 316.3,84.7 317.0,84.8 317.6,94.2 318.2,96.1 318.8,96.0 319.4,96.1 320.0,96.2 320.6,96.3 321.3,96.6 321.9,96.6 322.5,96.7 323.1,96.7 323.7,96.5 324.3,96.5 324.9,96.5 325.6,96.7 326.2,96.7 326.8,96.7 327.4,96.7 328.0,96.6 328.6,96.5 329.2,96.6 329.8,96.6 330.5,96.6 331.1,96.8 331.7,96.7 332.3,96.9 332.9,97.0 333.5,97.0 334.1,97.1 334.8,97.1 335.4,96.8 336.0,96.8 336.6,112.0 337.2,120.0 337.8,120.8 338.4,126.7 339.1,153.9 339.7,153.8 340.3,153.9 340.9,153.8 341.5,153.7 342.1,153.9 342.7,153.9 343.4,153.9 344.0,153.7 344.6,153.6 345.2,153.6 345.8,153.8 346.4,153.8 347.0,153.7 347.6,154.0 348.3,153.9 348.9,153.9 349.5,153.9 350.1,153.7 350.7,153.7 351.3,153.8 351.9,153.9 352.6,153.9 353.2,153.8 353.8,153.8 354.4,153.7 355.0,153.9 355.6,154.1 356.2,154.0 356.9,154.1 357.5,154.2 358.1,154.1 358.7,154.1 359.3,153.9 359.9,154.0 360.5,154.0 361.1,153.8 361.8,153.7 362.4,153.8 363.0,153.8 363.6,153.9 364.2,154.0 364.8,153.9 365.4,153.8 366.1,153.7 366.7,153.6 367.3,153.6 367.9,153.8 368.5,153.9 369.1,153.9 369.7,153.9 370.4,154.0 371.0,154.0 371.6,154.1 372.2,154.2 372.8,154.3 373.4,154.4 374.0,154.1 374.7,154.1 375.3,154.0 375.9,153.8 376.5,153.9 377.1,154.0 377.7,154.2 378.3,154.2 378.9,154.4 379.6,154.2 380.2,154.3 380.8,154.4 381.4,154.4 382.0,154.4 382.6,154.4 383.2,154.2 383.9,154.4 384.5,154.5 385.1,154.7 385.7,154.6 386.3,154.9 386.9,155.0 387.5,154.8 388.2,154.6 388.8,154.6 389.4,154.4 390.0,154.3 390.6,154.2 391.2,154.1 391.8,153.9 392.5,154.0 393.1,154.1 393.7,154.1 394.3,154.3 394.9,154.2 395.5,153.9 396.1,154.0 396.7,153.7 397.4,153.8 398.0,153.7 398.6,153.7 399.2,153.7 399.8,153.5 400.4,153.4 401.0,153.4 401.7,153.3 402.3,153.5 402.9,153.5 403.5,153.4 404.1,153.3 404.7,153.4 405.3,153.3 406.0,153.1 406.6,153.2 407.2,153.3 407.8,153.3 408.4,153.4 409.0,153.5 409.6,153.3 410.2,153.5 410.9,153.7 411.5,153.6 412.1,153.6 412.7,153.6 413.3,153.5 413.9,153.6 414.5,153.8 415.2,153.7 415.8,153.9 416.4,154.0 417.0,153.9 417.6,154.1 418.2,153.9 418.8,153.9 419.5,154.1 420.1,154.0 420.7,154.3 421.3,154.4 421.9,154.3 422.5,154.5 423.1,154.1 423.8,154.1 424.4,153.9 425.0,153.9 425.6,154.0 426.2,154.4 426.8,154.2 427.4,154.2 428.0,154.3 428.7,154.3 429.3,154.3 429.9,154.2 430.5,154.0 431.1,154.2 431.7,154.3 432.3,154.2 433.0,154.3 433.6,154.2 434.2,154.4 434.8,154.3 435.4,154.2 436.0,154.2 436.6,154.4 437.3,154.6 437.9,154.7 438.5,154.8 439.1,154.9 439.7,154.7 440.3,154.6 440.9,154.3 441.6,154.4 442.2,154.7 442.8,154.6 443.4,154.6 444.0,154.6 444.6,154.4 445.2,154.2 445.8,154.4 446.5,154.4 447.1,154.1 447.7,154.2 448.3,154.0 448.9,154.1 449.5,154.3 450.1,154.1 450.8,153.9 451.4,154.0 452.0,153.9 452.6,153.8 453.2,153.6 453.8,153.7 454.4,153.5 455.1,153.5 455.7,153.5 456.3,153.5 456.9,153.4 457.5,153.4 458.1,153.3 458.7,153.4 459.4,153.4 460.0,153.6 460.6,153.6 461.2,153.4 461.8,153.6 462.4,153.8 463.0,153.6 463.6,153.6 464.3,153.4 464.9,153.2 465.5,153.2 466.1,153.5 466.7,153.5 467.3,153.4 467.9,153.4 468.6,153.4 469.2,153.3 469.8,153.3 470.4,153.4 471.0,153.2 471.6,153.4 472.2,153.5 472.9,153.6 473.5,153.6 474.1,153.5 474.7,153.6 475.3,153.6 475.9,153.5 476.5,153.5 477.1,153.6 477.8,153.7 478.4,153.6 479.0,153.6 479.6,153.6 480.2,153.8 480.8,153.8 481.4,153.6 482.1,153.8 482.7,153.8 483.3,154.0 483.9,154.2 484.5,154.1 485.1,154.0 485.7,154.0 486.4,154.1 487.0,154.2 487.6,154.2 488.2,154.5 488.8,154.5 489.4,154.5 490.0,154.6 490.7,154.5 491.3,154.5 491.9,154.4 492.5,154.7 493.1,154.9 493.7,154.7 494.3,154.6 494.9,154.7 495.6,154.5 496.2,154.6 496.8,154.5 497.4,154.6 498.0,154.5 498.6,154.4 499.2,154.4 499.9,154.4 500.5,154.7 501.1,154.8 501.7,154.9 502.3,154.9 502.9,154.9 503.5,155.0 504.2,155.2 504.8,155.0 505.4,155.1 506.0,155.2 506.6,155.1 507.2,154.8 507.8,155.0 508.4,155.1 509.1,155.1 509.7,155.2 510.3,155.2 510.9,155.3 511.5,155.3 512.1,155.0 512.7,155.1 513.4,155.3 514.0,155.3" fill="none" stroke="#0b930b" stroke-width="1.0" stroke-linejoin="round"/><polygon points="42.0,124.4 42.6,124.1 43.2,124.1 43.8,124.1 44.5,124.0 45.1,124.2 45.7,124.5 46.3,124.5 46.9,124.2 47.5,123.9 48.1,124.0 48.8,124.0 49.4,123.8 50.0,124.1 50.6,124.2 51.2,124.3 51.8,124.0 52.4,123.9 53.0,123.8 53.7,123.9 54.3,124.0 54.9,123.8 55.5,123.8 56.1,123.8 56.7,123.5 57.3,123.4 58.0,123.6 58.6,123.3 59.2,123.3 59.8,123.4 60.4,123.5 61.0,123.4 61.6,123.4 62.3,123.5 62.9,123.5 63.5,123.5 64.1,123.2 64.7,122.8 65.3,122.7 65.9,123.0 66.5,123.0 67.2,122.9 67.8,122.9 68.4,123.0 69.0,123.0 69.6,123.0 70.2,123.0 70.8,123.2 71.5,123.3 72.1,123.5 72.7,123.4 73.3,123.3 73.9,123.5 74.5,123.3 75.1,123.4 75.8,123.5 76.4,123.5 77.0,123.4 77.6,123.5 78.2,123.5 78.8,123.4 79.4,123.4 80.1,123.4 80.7,123.5 81.3,123.4 81.9,123.3 82.5,123.6 83.1,123.7 83.7,123.9 84.3,124.0 85.0,123.8 85.6,124.1 86.2,124.1 86.8,124.0 87.4,124.0 88.0,124.0 88.6,124.0 89.3,124.1 89.9,124.0 90.5,123.9 91.1,123.6 91.7,123.7 92.3,123.6 92.9,123.4 93.6,123.6 94.2,123.8 94.8,123.7 95.4,123.6 96.0,123.3 96.6,123.2 97.2,123.1 97.9,122.9 98.5,122.9 99.1,122.9 99.7,122.9 100.3,122.8 100.9,122.8 101.5,123.0 102.1,122.9 102.8,123.0 103.4,122.9 104.0,122.9 104.6,122.8 105.2,122.8 105.8,122.8 106.4,122.8 107.1,122.4 107.7,122.3 108.3,122.2 108.9,122.1 109.5,122.2 110.1,122.2 110.7,122.1 111.4,122.2 112.0,122.3 112.6,122.3 113.2,122.3 113.8,122.4 114.4,122.4 115.0,122.5 115.7,122.6 116.3,122.8 116.9,122.9 117.5,122.7 118.1,122.6 118.7,122.5 119.3,122.8 119.9,122.8 120.6,122.5 121.2,122.6 121.8,122.7 122.4,122.7 123.0,122.7 123.6,122.6 124.2,122.5 124.9,122.4 125.5,122.4 126.1,122.7 126.7,122.8 127.3,122.7 127.9,122.7 128.5,122.7 129.2,122.8 129.8,122.8 130.4,122.8 131.0,122.6 131.6,122.5 132.2,122.4 132.8,122.6 133.4,122.8 134.1,123.0 134.7,123.1 135.3,123.0 135.9,123.0 136.5,123.1 137.1,123.2 137.7,123.3 138.4,123.2 139.0,123.4 139.6,123.2 140.2,123.3 140.8,123.1 141.4,123.1 142.0,123.0 142.7,123.1 143.3,123.1 143.9,123.2 144.5,123.0 145.1,122.9 145.7,122.9 146.3,123.0 147.0,123.1 147.6,123.1 148.2,123.2 148.8,123.3 149.4,123.3 150.0,123.4 150.6,123.3 151.2,123.3 151.9,123.0 152.5,123.0 153.1,122.9 153.7,122.5 154.3,122.4 154.9,122.4 155.5,122.4 156.2,122.2 156.8,122.3 157.4,122.4 158.0,122.3 158.6,122.3 159.2,122.3 159.8,122.4 160.5,122.5 161.1,122.5 161.7,122.7 162.3,123.0 162.9,123.0 163.5,123.2 164.1,123.4 164.8,123.4 165.4,123.4 166.0,123.3 166.6,123.4 167.2,123.3 167.8,123.4 168.4,123.6 169.0,123.5 169.7,123.6 170.3,123.7 170.9,123.7 171.5,123.6 172.1,123.6 172.7,123.7 173.3,123.9 174.0,123.9 174.6,123.9 175.2,124.0 175.8,124.0 176.4,123.9 177.0,123.9 177.6,124.0 178.3,123.9 178.9,123.9 179.5,124.0 180.1,123.9 180.7,124.0 181.3,123.8 181.9,124.0 182.5,123.8 183.2,123.7 183.8,123.6 184.4,123.6 185.0,123.6 185.6,123.5 186.2,123.6 186.8,123.5 187.5,123.3 188.1,123.3 188.7,123.3 189.3,123.3 189.9,123.3 190.5,123.5 191.1,123.4 191.8,123.7 192.4,123.5 193.0,123.7 193.6,123.6 194.2,123.5 194.8,123.6 195.4,123.7 196.1,96.0 196.7,86.5 197.3,86.3 197.9,86.1 198.5,85.7 199.1,85.5 199.7,87.1 200.3,88.5 201.0,90.0 201.6,91.6 202.2,91.8 202.8,91.7 203.4,91.7 204.0,91.9 204.6,91.8 205.3,91.9 205.9,92.0 206.5,92.1 207.1,92.1 207.7,92.2 208.3,92.1 208.9,92.1 209.6,92.0 210.2,92.0 210.8,91.8 211.4,92.1 212.0,91.9 212.6,92.0 213.2,92.2 213.8,91.9 214.5,92.1 215.1,92.4 215.7,92.4 216.3,92.3 216.9,92.4 217.5,92.3 218.1,74.7 218.8,64.3 219.4,64.5 220.0,64.5 220.6,64.5 221.2,64.4 221.8,64.4 222.4,64.6 223.1,64.5 223.7,64.6 224.3,64.6 224.9,64.8 225.5,64.7 226.1,64.9 226.7,64.9 227.4,64.9 228.0,65.1 228.6,64.9 229.2,65.1 229.8,65.3 230.4,65.4 231.0,65.6 231.6,65.5 232.3,65.5 232.9,65.6 233.5,65.4 234.1,65.2 234.7,65.3 235.3,65.5 235.9,65.3 236.6,65.4 237.2,65.4 237.8,65.4 238.4,65.4 239.0,65.4 239.6,65.4 240.2,65.5 240.9,65.5 241.5,65.4 242.1,65.3 242.7,65.4 243.3,65.4 243.9,65.3 244.5,65.2 245.2,65.3 245.8,65.3 246.4,65.4 247.0,65.3 247.6,65.6 248.2,65.5 248.8,65.5 249.4,65.3 250.1,65.3 250.7,65.5 251.3,65.4 251.9,65.4 252.5,65.2 253.1,65.3 253.7,65.3 254.4,65.2 255.0,65.1 255.6,65.2 256.2,65.4 256.8,65.5 257.4,65.4 258.0,65.5 258.7,65.2 259.3,65.0 259.9,65.3 260.5,65.2 261.1,65.1 261.7,65.1 262.3,65.0 262.9,64.8 263.6,64.7 264.2,64.5 264.8,64.5 265.4,64.3 266.0,64.2 266.6,64.0 267.2,63.7 267.9,63.7 268.5,63.5 269.1,63.4 269.7,63.3 270.3,63.4 270.9,60.4 271.5,58.7 272.2,58.8 272.8,58.7 273.4,58.7 274.0,58.8 274.6,58.6 275.2,58.5 275.8,58.4 276.5,58.3 277.1,57.8 277.7,58.1 278.3,58.0 278.9,57.9 279.5,57.9 280.1,58.1 280.7,58.0 281.4,57.9 282.0,57.8 282.6,58.1 283.2,58.2 283.8,58.1 284.4,58.2 285.0,58.1 285.7,58.2 286.3,58.4 286.9,58.3 287.5,58.5 288.1,58.4 288.7,58.5 289.3,58.5 290.0,58.4 290.6,58.4 291.2,58.3 291.8,58.5 292.4,58.4 293.0,58.5 293.6,58.3 294.3,58.3 294.9,58.2 295.5,58.5 296.1,58.7 296.7,58.6 297.3,58.6 297.9,56.8 298.5,55.1 299.2,53.4 299.8,51.4 300.4,51.4 301.0,51.6 301.6,51.3 302.2,51.4 302.8,51.5 303.5,51.5 304.1,51.5 304.7,51.3 305.3,51.4 305.9,51.5 306.5,51.2 307.1,51.1 307.8,51.3 308.4,51.2 309.0,51.1 309.6,51.2 310.2,51.3 310.8,51.1 311.4,51.0 312.1,51.0 312.7,51.1 313.3,51.1 313.9,51.1 314.5,50.9 315.1,51.0 315.7,51.1 316.3,51.0 317.0,50.8 317.6,61.4 318.2,63.5 318.8,63.6 319.4,63.4 320.0,63.3 320.6,63.4 321.3,63.3 321.9,63.2 322.5,63.1 323.1,63.3 323.7,63.3 324.3,63.1 324.9,63.1 325.6,63.4 326.2,63.6 326.8,63.3 327.4,63.2 328.0,63.3 328.6,63.0 329.2,63.0 329.8,63.1 330.5,63.4 331.1,63.5 331.7,63.6 332.3,63.6 332.9,63.6 333.5,63.4 334.1,63.3 334.8,63.3 335.4,63.2 336.0,63.2 336.6,79.9 337.2,113.6 337.8,116.5 338.4,119.4 339.1,122.2 339.7,122.2 340.3,122.4 340.9,122.6 341.5,122.8 342.1,122.7 342.7,122.9 343.4,122.9 344.0,123.0 344.6,122.9 345.2,122.9 345.8,122.8 346.4,122.9 347.0,123.0 347.6,123.1 348.3,123.0 348.9,123.1 349.5,122.9 350.1,122.8 350.7,122.8 351.3,122.8 351.9,122.8 352.6,123.1 353.2,123.1 353.8,122.9 354.4,123.3 355.0,123.3 355.6,123.2 356.2,123.2 356.9,123.0 357.5,123.0 358.1,123.1 358.7,123.1 359.3,123.2 359.9,123.4 360.5,123.4 361.1,123.3 361.8,123.2 362.4,123.3 363.0,123.1 363.6,122.9 364.2,122.9 364.8,122.8 365.4,122.7 366.1,122.5 366.7,122.4 367.3,122.6 367.9,122.3 368.5,122.2 369.1,122.3 369.7,122.2 370.4,122.1 371.0,122.1 371.6,121.9 372.2,122.0 372.8,122.1 373.4,122.0 374.0,121.9 374.7,122.0 375.3,121.7 375.9,121.7 376.5,121.7 377.1,121.6 377.7,121.6 378.3,121.6 378.9,121.7 379.6,121.7 380.2,121.8 380.8,121.7 381.4,121.8 382.0,121.7 382.6,121.8 383.2,121.8 383.9,121.9 384.5,122.0 385.1,121.9 385.7,122.0 386.3,121.8 386.9,121.9 387.5,122.0 388.2,121.9 388.8,122.0 389.4,122.0 390.0,121.9 390.6,122.0 391.2,122.1 391.8,122.0 392.5,121.9 393.1,121.8 393.7,121.7 394.3,121.8 394.9,122.0 395.5,122.0 396.1,122.3 396.7,122.5 397.4,122.5 398.0,122.5 398.6,122.7 399.2,122.8 399.8,123.0 400.4,122.7 401.0,122.6 401.7,122.5 402.3,122.7 402.9,122.9 403.5,122.9 404.1,122.9 404.7,123.1 405.3,123.3 406.0,123.3 406.6,123.2 407.2,123.2 407.8,123.1 408.4,123.0 409.0,123.1 409.6,122.9 410.2,122.6 410.9,122.7 411.5,122.9 412.1,123.0 412.7,122.9 413.3,123.0 413.9,122.9 414.5,122.9 415.2,122.5 415.8,122.5 416.4,122.5 417.0,122.3 417.6,122.1 418.2,121.8 418.8,121.7 419.5,121.9 420.1,122.0 420.7,122.3 421.3,122.1 421.9,121.6 422.5,121.5 423.1,121.6 423.8,121.4 424.4,121.3 425.0,121.2 425.6,121.2 426.2,121.2 426.8,121.3 427.4,121.4 428.0,121.4 428.7,121.6 429.3,121.6 429.9,121.5 430.5,121.5 431.1,121.5 431.7,121.7 432.3,121.7 433.0,121.7 433.6,121.8 434.2,122.1 434.8,122.1 435.4,122.1 436.0,122.1 436.6,122.2 437.3,122.3 437.9,122.4 438.5,122.4 439.1,122.5 439.7,122.3 440.3,122.5 440.9,122.6 441.6,122.7 442.2,122.8 442.8,122.8 443.4,123.0 444.0,122.9 444.6,122.9 445.2,122.7 445.8,122.6 446.5,122.6 447.1,122.5 447.7,122.5 448.3,122.7 448.9,122.7 449.5,122.5 450.1,122.7 450.8,122.8 451.4,122.7 452.0,122.8 452.6,122.9 453.2,122.7 453.8,122.7 454.4,122.6 455.1,122.7 455.7,122.5 456.3,122.5 456.9,122.5 457.5,122.4 458.1,122.4 458.7,122.4 459.4,122.3 460.0,122.6 460.6,122.4 461.2,122.5 461.8,122.5 462.4,122.5 463.0,122.5 463.6,122.7 464.3,122.7 464.9,122.8 465.5,122.8 466.1,122.7 466.7,122.8 467.3,123.0 467.9,123.3 468.6,123.4 469.2,123.2 469.8,123.0 470.4,123.2 471.0,123.2 471.6,122.9 472.2,122.7 472.9,122.7 473.5,123.0 474.1,123.0 474.7,123.1 475.3,123.2 475.9,123.2 476.5,123.3 477.1,123.4 477.8,123.3 478.4,123.4 479.0,123.4 479.6,123.5 480.2,123.4 480.8,123.4 481.4,123.4 482.1,123.4 482.7,123.4 483.3,123.7 483.9,123.6 484.5,123.7 485.1,123.9 485.7,123.5 486.4,123.4 487.0,122.9 487.6,123.0 488.2,123.2 488.8,123.2 489.4,123.1 490.0,123.1 490.7,123.4 491.3,123.3 491.9,123.4 492.5,123.3 493.1,123.2 493.7,123.3 494.3,123.3 494.9,123.3 495.6,123.3 496.2,123.2 496.8,123.4 497.4,123.3 498.0,123.3 498.6,123.5 499.2,123.4 499.9,123.3 500.5,123.2 501.1,123.3 501.7,123.3 502.3,123.1 502.9,123.3 503.5,123.2 504.2,123.2 504.8,123.3 505.4,123.5 506.0,123.7 506.6,123.5 507.2,123.3 507.8,123.4 508.4,123.6 509.1,123.5 509.7,123.4 510.3,123.5 510.9,123.4 511.5,123.5 512.1,123.4 512.7,123.5 513.4,123.5 514.0,123.5 514.0,133.9 513.4,133.8 512.7,133.9 512.1,133.7 511.5,133.8 510.9,133.7 510.3,133.8 509.7,133.7 509.1,133.8 508.4,134.0 507.8,133.8 507.2,133.7 506.6,133.8 506.0,134.0 505.4,133.8 504.8,133.7 504.2,133.6 503.5,133.5 502.9,133.7 502.3,133.4 501.7,133.6 501.1,133.6 500.5,133.5 499.9,133.6 499.2,133.7 498.6,133.8 498.0,133.7 497.4,133.7 496.8,133.7 496.2,133.5 495.6,133.6 494.9,133.6 494.3,133.6 493.7,133.6 493.1,133.6 492.5,133.6 491.9,133.7 491.3,133.6 490.7,133.7 490.0,133.4 489.4,133.4 488.8,133.5 488.2,133.5 487.6,133.4 487.0,133.2 486.4,133.8 485.7,133.9 485.1,134.2 484.5,134.0 483.9,133.9 483.3,134.0 482.7,133.7 482.1,133.7 481.4,133.7 480.8,133.7 480.2,133.7 479.6,133.8 479.0,133.7 478.4,133.7 477.8,133.6 477.1,133.7 476.5,133.7 475.9,133.6 475.3,133.5 474.7,133.5 474.1,133.3 473.5,133.3 472.9,133.1 472.2,133.0 471.6,133.2 471.0,133.5 470.4,133.5 469.8,133.3 469.2,133.5 468.6,133.7 467.9,133.6 467.3,133.3 466.7,133.2 466.1,133.0 465.5,133.1 464.9,133.1 464.3,133.1 463.6,133.0 463.0,132.9 462.4,132.8 461.8,132.8 461.2,132.8 460.6,132.7 460.0,132.9 459.4,132.6 458.7,132.7 458.1,132.7 457.5,132.7 456.9,132.8 456.3,132.8 455.7,132.9 455.1,133.1 454.4,133.0 453.8,133.0 453.2,133.1 452.6,133.2 452.0,133.1 451.4,133.0 450.8,133.2 450.1,133.0 449.5,132.8 448.9,133.0 448.3,133.0 447.7,132.8 447.1,132.9 446.5,133.0 445.8,132.9 445.2,133.0 444.6,133.2 444.0,133.2 443.4,133.3 442.8,133.2 442.2,133.1 441.6,133.1 440.9,132.9 440.3,132.8 439.7,132.6 439.1,132.8 438.5,132.7 437.9,132.7 437.3,132.7 436.6,132.5 436.0,132.4 435.4,132.4 434.8,132.4 434.2,132.5 433.6,132.1 433.0,132.0 432.3,132.0 431.7,132.0 431.1,131.8 430.5,131.9 429.9,131.8 429.3,131.9 428.7,131.9 428.0,131.7 427.4,131.7 426.8,131.6 426.2,131.5 425.6,131.5 425.0,131.6 424.4,131.6 423.8,131.7 423.1,131.9 422.5,131.8 421.9,131.9 421.3,132.4 420.7,132.7 420.1,132.4 419.5,132.2 418.8,132.0 418.2,132.1 417.6,132.4 417.0,132.6 416.4,132.8 415.8,132.8 415.2,132.8 414.5,133.2 413.9,133.2 413.3,133.4 412.7,133.3 412.1,133.3 411.5,133.3 410.9,133.0 410.2,132.9 409.6,133.3 409.0,133.5 408.4,133.3 407.8,133.5 407.2,133.6 406.6,133.6 406.0,133.6 405.3,133.6 404.7,133.4 404.1,133.2 403.5,133.2 402.9,133.2 402.3,133.0 401.7,132.8 401.0,132.9 400.4,133.1 399.8,133.4 399.2,133.2 398.6,133.0 398.0,132.8 397.4,132.8 396.7,132.9 396.1,132.7 395.5,132.3 394.9,132.3 394.3,132.2 393.7,132.0 393.1,132.1 392.5,132.2 391.8,132.3 391.2,132.4 390.6,132.4 390.0,132.2 389.4,132.3 388.8,132.3 388.2,132.2 387.5,132.3 386.9,132.3 386.3,132.1 385.7,132.3 385.1,132.2 384.5,132.3 383.9,132.2 383.2,132.1 382.6,132.1 382.0,132.0 381.4,132.1 380.8,132.0 380.2,132.1 379.6,132.0 378.9,132.0 378.3,131.9 377.7,131.9 377.1,132.0 376.5,132.1 375.9,132.0 375.3,132.1 374.7,132.3 374.0,132.2 373.4,132.3 372.8,132.5 372.2,132.4 371.6,132.2 371.0,132.4 370.4,132.4 369.7,132.5 369.1,132.6 368.5,132.6 367.9,132.6 367.3,132.9 366.7,132.7 366.1,132.8 365.4,133.0 364.8,133.1 364.2,133.2 363.6,133.3 363.0,133.4 362.4,133.6 361.8,133.5 361.1,133.7 360.5,133.8 359.9,133.7 359.3,133.5 358.7,133.4 358.1,133.4 357.5,133.3 356.9,133.3 356.2,133.5 355.6,133.5 355.0,133.6 354.4,133.6 353.8,133.2 353.2,133.4 352.6,133.4 351.9,133.2 351.3,133.1 350.7,133.1 350.1,133.1 349.5,133.2 348.9,133.4 348.3,133.3 347.6,133.5 347.0,133.4 346.4,133.2 345.8,133.1 345.2,133.2 344.6,133.2 344.0,133.4 343.4,133.3 342.7,133.2 342.1,133.0 341.5,133.1 340.9,132.9 340.3,132.7 339.7,132.6 339.1,132.5 338.4,129.7 337.8,126.8 337.2,123.9 336.6,90.2 336.0,73.6 335.4,73.5 334.8,73.6 334.1,73.7 333.5,73.7 332.9,73.9 332.3,73.9 331.7,74.0 331.1,73.8 330.5,73.8 329.8,73.4 329.2,73.4 328.6,73.4 328.0,73.6 327.4,73.6 326.8,73.7 326.2,73.9 325.6,73.7 324.9,73.5 324.3,73.4 323.7,73.6 323.1,73.6 322.5,73.4 321.9,73.5 321.3,73.6 320.6,73.7 320.0,73.6 319.4,73.8 318.8,73.9 318.2,73.8 317.6,71.7 317.0,61.2 316.3,61.3 315.7,61.5 315.1,61.3 314.5,61.3 313.9,61.4 313.3,61.4 312.7,61.5 312.1,61.3 311.4,61.3 310.8,61.4 310.2,61.6 309.6,61.5 309.0,61.4 308.4,61.5 307.8,61.6 307.1,61.4 306.5,61.5 305.9,61.8 305.3,61.7 304.7,61.6 304.1,61.8 303.5,61.8 302.8,61.8 302.2,61.7 301.6,61.6 301.0,61.9 300.4,61.7 299.8,61.7 299.2,63.8 298.5,65.4 297.9,67.1 297.3,68.9 296.7,68.9 296.1,69.1 295.5,68.8 294.9,68.5 294.3,68.6 293.6,68.6 293.0,68.8 292.4,68.7 291.8,68.8 291.2,68.6 290.6,68.8 290.0,68.7 289.3,68.8 288.7,68.8 288.1,68.7 287.5,68.8 286.9,68.6 286.3,68.8 285.7,68.5 285.0,68.5 284.4,68.5 283.8,68.4 283.2,68.5 282.6,68.4 282.0,68.1 281.4,68.2 280.7,68.4 280.1,68.4 279.5,68.2 278.9,68.2 278.3,68.3 277.7,68.4 277.1,68.2 276.5,68.6 275.8,68.7 275.2,68.8 274.6,69.0 274.0,69.1 273.4,69.0 272.8,69.0 272.2,69.1 271.5,69.0 270.9,70.7 270.3,73.7 269.7,73.6 269.1,73.7 268.5,73.8 267.9,74.0 267.2,74.0 266.6,74.3 266.0,74.5 265.4,74.6 264.8,74.8 264.2,74.8 263.6,75.1 262.9,75.1 262.3,75.3 261.7,75.4 261.1,75.4 260.5,75.6 259.9,75.6 259.3,75.4 258.7,75.5 258.0,75.8 257.4,75.7 256.8,75.8 256.2,75.7 255.6,75.5 255.0,75.5 254.4,75.5 253.7,75.6 253.1,75.6 252.5,75.5 251.9,75.8 251.3,75.7 250.7,75.8 250.1,75.7 249.4,75.7 248.8,75.8 248.2,75.8 247.6,76.0 247.0,75.7 246.4,75.7 245.8,75.6 245.2,75.6 244.5,75.6 243.9,75.7 243.3,75.7 242.7,75.7 242.1,75.6 241.5,75.7 240.9,75.8 240.2,75.8 239.6,75.7 239.0,75.7 238.4,75.7 237.8,75.7 237.2,75.8 236.6,75.7 235.9,75.6 235.3,75.8 234.7,75.6 234.1,75.5 233.5,75.8 232.9,75.9 232.3,75.8 231.6,75.8 231.0,75.9 230.4,75.8 229.8,75.6 229.2,75.4 228.6,75.2 228.0,75.5 227.4,75.2 226.7,75.2 226.1,75.2 225.5,75.1 224.9,75.1 224.3,74.9 223.7,74.9 223.1,74.8 222.4,74.9 221.8,74.7 221.2,74.8 220.6,74.8 220.0,74.8 219.4,74.8 218.8,74.7 218.1,85.1 217.5,102.6 216.9,102.7 216.3,102.6 215.7,102.8 215.1,102.7 214.5,102.4 213.8,102.2 213.2,102.5 212.6,102.3 212.0,102.2 211.4,102.4 210.8,102.2 210.2,102.3 209.6,102.3 208.9,102.5 208.3,102.5 207.7,102.5 207.1,102.4 206.5,102.4 205.9,102.3 205.3,102.2 204.6,102.1 204.0,102.2 203.4,102.0 202.8,102.0 202.2,102.1 201.6,101.9 201.0,100.3 200.3,98.8 199.7,97.4 199.1,95.9 198.5,96.1 197.9,96.4 197.3,96.7 196.7,96.8 196.1,106.4 195.4,134.0 194.8,133.9 194.2,133.8 193.6,133.9 193.0,134.0 192.4,133.8 191.8,134.0 191.1,133.8 190.5,133.8 189.9,133.6 189.3,133.7 188.7,133.6 188.1,133.6 187.5,133.6 186.8,133.8 186.2,133.9 185.6,133.9 185.0,133.9 184.4,133.9 183.8,134.0 183.2,134.0 182.5,134.2 181.9,134.3 181.3,134.2 180.7,134.3 180.1,134.2 179.5,134.3 178.9,134.2 178.3,134.3 177.6,134.3 177.0,134.2 176.4,134.2 175.8,134.4 175.2,134.3 174.6,134.2 174.0,134.3 173.3,134.2 172.7,134.1 172.1,134.0 171.5,134.0 170.9,134.0 170.3,134.0 169.7,133.9 169.0,133.8 168.4,133.9 167.8,133.7 167.2,133.6 166.6,133.7 166.0,133.6 165.4,133.8 164.8,133.7 164.1,133.7 163.5,133.6 162.9,133.3 162.3,133.3 161.7,133.0 161.1,132.8 160.5,132.8 159.8,132.7 159.2,132.7 158.6,132.6 158.0,132.6 157.4,132.7 156.8,132.6 156.2,132.6 155.5,132.7 154.9,132.8 154.3,132.8 153.7,132.8 153.1,133.2 152.5,133.3 151.9,133.4 151.2,133.6 150.6,133.6 150.0,133.8 149.4,133.6 148.8,133.6 148.2,133.5 147.6,133.4 147.0,133.4 146.3,133.3 145.7,133.2 145.1,133.2 144.5,133.3 143.9,133.5 143.3,133.4 142.7,133.4 142.0,133.3 141.4,133.4 140.8,133.4 140.2,133.6 139.6,133.6 139.0,133.7 138.4,133.5 137.7,133.6 137.1,133.6 136.5,133.4 135.9,133.3 135.3,133.3 134.7,133.5 134.1,133.3 133.4,133.1 132.8,132.9 132.2,132.7 131.6,132.9 131.0,132.9 130.4,133.1 129.8,133.1 129.2,133.1 128.5,133.0 127.9,133.1 127.3,133.0 126.7,133.1 126.1,133.0 125.5,132.7 124.9,132.7 124.2,132.8 123.6,132.9 123.0,133.0 122.4,133.0 121.8,133.0 121.2,132.9 120.6,132.8 119.9,133.1 119.3,133.2 118.7,132.9 118.1,132.9 117.5,133.0 116.9,133.2 116.3,133.1 115.7,132.9 115.0,132.8 114.4,132.7 113.8,132.7 113.2,132.6 112.6,132.7 112.0,132.6 111.4,132.5 110.7,132.4 110.1,132.5 109.5,132.5 108.9,132.4 108.3,132.5 107.7,132.7 107.1,132.8 106.4,133.1 105.8,133.1 105.2,133.1 104.6,133.1 104.0,133.2 103.4,133.3 102.8,133.3 102.1,133.2 101.5,133.3 100.9,133.1 100.3,133.1 99.7,133.2 99.1,133.2 98.5,133.2 97.9,133.2 97.2,133.5 96.6,133.5 96.0,133.7 95.4,133.9 94.8,134.0 94.2,134.1 93.6,133.9 92.9,133.8 92.3,133.9 91.7,134.1 91.1,134.0 90.5,134.2 89.9,134.3 89.3,134.4 88.6,134.3 88.0,134.4 87.4,134.3 86.8,134.3 86.2,134.4 85.6,134.4 85.0,134.2 84.3,134.3 83.7,134.2 83.1,134.0 82.5,133.9 81.9,133.7 81.3,133.7 80.7,133.8 80.1,133.7 79.4,133.7 78.8,133.7 78.2,133.8 77.6,133.8 77.0,133.7 76.4,133.9 75.8,133.8 75.1,133.7 74.5,133.6 73.9,133.8 73.3,133.6 72.7,133.7 72.1,133.8 71.5,133.6 70.8,133.6 70.2,133.3 69.6,133.4 69.0,133.3 68.4,133.3 67.8,133.2 67.2,133.2 66.5,133.3 65.9,133.3 65.3,133.0 64.7,133.1 64.1,133.6 63.5,133.8 62.9,133.8 62.3,133.8 61.6,133.7 61.0,133.7 60.4,133.8 59.8,133.7 59.2,133.6 58.6,133.6 58.0,133.9 57.3,133.7 56.7,133.9 56.1,134.1 55.5,134.2 54.9,134.1 54.3,134.4 53.7,134.2 53.0,134.1 52.4,134.2 51.8,134.3 51.2,134.6 50.6,134.5 50.0,134.4 49.4,134.2 48.8,134.3 48.1,134.3 47.5,134.2 46.9,134.6 46.3,134.8 45.7,134.8 45.1,134.6 44.5,134.4 43.8,134.4 43.2,134.4 42.6,134.4 42.0,134.7" fill="#d452d4"/><path d="M43.9 123.3V134.6M45.6 123.5V138.2M48.6 122.0V135.2M51.2 124.0V134.7M53.7 121.5V136.4M57.4 122.1V136.7M59.4 122.6V133.9M62.8 120.2V134.0M65.1 120.4V135.4M67.1 121.7V135.2M70.3 122.6V134.2M73.4 121.6V134.6M75.5 120.8V136.4M78.2 121.7V133.8M80.6 122.4V134.6M83.8 123.5V135.5M87.2 123.2V137.0M88.6 121.3V135.4M92.5 123.0V134.0M94.8 120.3V136.6M97.1 120.7V135.9M100.6 121.4V133.6M103.3 122.3V135.8M106.1 121.2V135.3M108.1 119.0V133.8M110.7 121.7V134.4M113.8 121.5V134.4M116.8 122.6V135.9M118.8 120.1V136.1M121.4 119.4V134.1M124.2 120.6V133.1M126.4 121.7V134.3M130.2 119.5V135.2M132.4 120.4V133.7M135.1 119.7V133.9M138.0 122.0V134.3M141.0 122.6V136.3M143.5 122.9V135.9M145.7 122.0V133.6M148.4 121.8V134.6M151.1 120.7V134.6M154.1 120.8V133.2M157.2 121.4V135.6M158.8 119.2V133.6M162.3 121.0V135.2M165.3 121.4V135.1M167.7 120.5V133.9M170.1 121.3V134.1M172.9 123.0V136.5M175.7 120.8V136.5M178.5 123.4V135.9M180.5 123.4V134.9M184.2 121.4V135.1M186.5 121.5V135.6M188.9 122.5V134.3M192.4 121.1V135.8M194.4 123.2V136.7M197.6 57.7V97.1M199.7 60.9V100.5M202.7 88.6V103.8M205.0 89.8V105.5M207.8 89.5V105.9M210.6 89.6V102.4M213.0 91.3V104.8M216.5 89.4V103.5M218.8 62.3V76.8M221.4 62.4V77.8M224.4 61.4V76.5M226.6 63.0V77.5M229.6 64.1V77.8M232.5 64.1V76.5M235.2 63.5V77.2M237.7 62.4V76.7M240.8 62.6V77.5M243.7 64.0V78.3M246.5 63.7V76.2M248.7 65.3V77.7M251.9 63.2V77.5M254.6 62.4V76.8M256.9 64.8V78.7M258.9 63.0V76.7M262.3 64.5V78.1M264.8 61.6V75.0M267.8 61.2V75.5M269.9 47.3V74.0M273.6 57.7V71.9M275.4 57.9V71.1M279.0 55.9V68.9M280.7 57.8V69.6M283.7 55.3V68.9M286.6 57.6V71.7M288.8 58.0V71.9M291.7 57.9V71.8M294.7 55.8V70.6M297.5 57.8V69.2M300.5 49.9V63.3M302.7 44.0V64.1M305.9 48.8V63.2M307.7 51.1V61.8M310.8 50.4V63.2M313.7 48.5V61.7M315.5 49.3V62.2M319.2 63.1V76.6M321.9 59.8V75.6M324.3 61.8V76.2M327.5 61.8V75.9M329.9 60.6V75.7M332.1 61.9V74.8M335.4 60.3V75.9M337.7 34.9V126.8M340.7 121.7V132.9M343.8 121.2V134.5M346.1 119.9V133.7M348.9 122.2V135.8M351.6 120.6V134.1M353.5 121.0V133.4M356.0 120.8V136.2M358.7 121.9V136.7M362.0 122.4V136.0M365.3 120.4V136.3M367.3 119.7V135.6M370.7 120.5V135.6M372.5 121.6V134.7M375.0 119.1V134.9M378.1 119.8V134.7M381.4 119.4V132.5M384.2 121.6V133.4M386.4 119.1V134.3M388.9 120.7V133.4M392.1 118.9V135.3M394.3 121.0V132.3M396.8 122.5V133.3M400.2 121.8V134.3M402.0 120.1V134.1M405.6 120.8V136.5M408.5 120.1V133.4M410.1 121.9V135.8M413.7 120.9V136.6M415.4 122.3V133.0M418.2 121.0V135.4M421.1 122.0V134.7M424.8 119.1V132.0M426.2 118.1V134.4M429.5 119.5V132.3M432.1 119.6V133.3M434.5 119.0V133.3M438.3 121.2V134.0M440.0 120.5V133.2M443.6 120.2V134.6M445.8 121.9V134.9M448.7 120.3V134.6M451.5 122.4V134.8M454.1 121.4V136.1M456.9 121.8V135.7M459.7 121.0V133.2M461.4 121.8V135.3M464.1 122.5V135.8M467.3 121.4V136.4M469.5 121.8V134.8M472.9 120.2V136.2M476.0 123.2V135.5M478.2 121.2V135.3M480.4 123.2V135.5M483.0 121.9V135.3M486.3 123.4V136.1M489.3 120.0V135.3M492.0 121.7V136.7M494.7 121.6V135.2M497.0 123.1V133.9M500.2 120.5V134.1M502.5 122.3V134.9M505.4 121.9V135.4M507.2 120.9V136.5M510.5 120.7V135.8M512.7 122.2V134.4" stroke="#cc33cc" stroke-width="1.50" stroke-linecap="round" fill="none"/><polyline points="43.9,123.3 45.6,138.2 48.6,122.0 51.2,134.7 53.7,121.5 57.4,136.7 59.4,122.6 62.8,134.0 65.1,120.4 67.1,135.2 70.3,122.6 73.4,134.6 75.5,120.8 78.2,133.8 80.6,122.4 83.8,135.5 87.2,123.2 88.6,135.4 92.5,123.0 94.8,136.6 97.1,120.7 100.6,133.6 103.3,122.3 106.1,135.3 108.1,119.0 110.7,134.4 113.8,121.5 116.8,135.9 118.8,120.1 121.4,134.1 124.2,120.6 126.4,134.3 130.2,119.5 132.4,133.7 135.1,119.7 138.0,134.3 141.0,122.6 143.5,135.9 145.7,122.0 148.4,134.6 151.1,120.7 154.1,133.2 157.2,121.4 158.8,133.6 162.3,121.0 165.3,135.1 167.7,120.5 170.1,134.1 172.9,123.0 175.7,136.5 178.5,123.4 180.5,134.9 184.2,121.4 186.5,135.6 188.9,122.5 192.4,135.8 194.4,123.2 197.6,97.1 199.7,60.9 202.7,103.8 205.0,89.8 207.8,105.9 210.6,89.6 213.0,104.8 216.5,89.4 218.8,76.8 221.4,62.4 224.4,76.5 226.6,63.0 229.6,77.8 232.5,64.1 235.2,77.2 237.7,62.4 240.8,77.5 243.7,64.0 246.5,76.2 248.7,65.3 251.9,77.5 254.6,62.4 256.9,78.7 258.9,63.0 262.3,78.1 264.8,61.6 267.8,75.5 269.9,47.3 273.6,71.9 275.4,57.9 279.0,68.9 280.7,57.8 283.7,68.9 286.6,57.6 288.8,71.9 291.7,57.9 294.7,70.6 297.5,57.8 300.5,63.3 302.7,44.0 305.9,63.2 307.7,51.1 310.8,63.2 313.7,48.5 315.5,62.2 319.2,63.1 321.9,75.6 324.3,61.8 327.5,75.9 329.9,60.6 332.1,74.8 335.4,60.3 337.7,126.8 340.7,121.7 343.8,134.5 346.1,119.9 348.9,135.8 351.6,120.6 353.5,133.4 356.0,120.8 358.7,136.7 362.0,122.4 365.3,136.3 367.3,119.7 370.7,135.6 372.5,121.6 375.0,134.9 378.1,119.8 381.4,132.5 384.2,121.6 386.4,134.3 388.9,120.7 392.1,135.3 394.3,121.0 396.8,133.3 400.2,121.8 402.0,134.1 405.6,120.8 408.5,133.4 410.1,121.9 413.7,136.6 415.4,122.3 418.2,135.4 421.1,122.0 424.8,132.0 426.2,118.1 429.5,132.3 432.1,119.6 434.5,133.3 438.3,121.2 440.0,133.2 443.6,120.2 445.8,134.9 448.7,120.3 451.5,134.8 454.1,121.4 456.9,135.7 459.7,121.0 461.4,135.3 464.1,122.5 467.3,136.4 469.5,121.8 472.9,136.2 476.0,123.2 478.2,135.3 480.4,123.2 483.0,135.3 486.3,123.4 489.3,135.3 492.0,121.7 494.7,135.2 497.0,123.1 500.2,134.1 502.5,122.3 505.4,135.4 507.2,120.9 510.5,135.8 512.7,122.2" fill="none" stroke="#cc33cc" stroke-width="0.80" stroke-linejoin="round"/><polyline points="42.0,129.5 42.6,129.2 43.2,129.3 43.8,129.2 44.5,129.2 45.1,129.4 45.7,129.7 46.3,129.6 46.9,129.4 47.5,129.1 48.1,129.1 48.8,129.1 49.4,129.0 50.0,129.2 50.6,129.3 51.2,129.4 51.8,129.2 52.4,129.1 53.0,129.0 53.7,129.0 54.3,129.2 54.9,128.9 55.5,129.0 56.1,128.9 56.7,128.7 57.3,128.5 58.0,128.7 58.6,128.5 59.2,128.4 59.8,128.5 60.4,128.7 61.0,128.5 61.6,128.6 62.3,128.6 62.9,128.7 63.5,128.6 64.1,128.4 64.7,127.9 65.3,127.8 65.9,128.1 66.5,128.1 67.2,128.0 67.8,128.0 68.4,128.2 69.0,128.1 69.6,128.2 70.2,128.1 70.8,128.4 71.5,128.4 72.1,128.6 72.7,128.6 73.3,128.4 73.9,128.7 74.5,128.4 75.1,128.5 75.8,128.6 76.4,128.7 77.0,128.5 77.6,128.6 78.2,128.6 78.8,128.5 79.4,128.5 80.1,128.5 80.7,128.7 81.3,128.5 81.9,128.5 82.5,128.8 83.1,128.9 83.7,129.0 84.3,129.1 85.0,129.0 85.6,129.3 86.2,129.2 86.8,129.2 87.4,129.2 88.0,129.2 88.6,129.1 89.3,129.3 89.9,129.2 90.5,129.0 91.1,128.8 91.7,128.9 92.3,128.7 92.9,128.6 93.6,128.8 94.2,128.9 94.8,128.9 95.4,128.7 96.0,128.5 96.6,128.4 97.2,128.3 97.9,128.1 98.5,128.1 99.1,128.0 99.7,128.0 100.3,127.9 100.9,128.0 101.5,128.2 102.1,128.1 102.8,128.1 103.4,128.1 104.0,128.1 104.6,127.9 105.2,127.9 105.8,128.0 106.4,127.9 107.1,127.6 107.7,127.5 108.3,127.4 108.9,127.3 109.5,127.4 110.1,127.3 110.7,127.3 111.4,127.4 112.0,127.5 112.6,127.5 113.2,127.5 113.8,127.5 114.4,127.5 115.0,127.6 115.7,127.7 116.3,127.9 116.9,128.0 117.5,127.8 118.1,127.8 118.7,127.7 119.3,128.0 119.9,127.9 120.6,127.7 121.2,127.8 121.8,127.8 122.4,127.8 123.0,127.9 123.6,127.8 124.2,127.7 124.9,127.6 125.5,127.6 126.1,127.8 126.7,127.9 127.3,127.9 127.9,127.9 128.5,127.8 129.2,128.0 129.8,128.0 130.4,127.9 131.0,127.8 131.6,127.7 132.2,127.6 132.8,127.8 133.4,127.9 134.1,128.1 134.7,128.3 135.3,128.2 135.9,128.1 136.5,128.2 137.1,128.4 137.7,128.5 138.4,128.3 139.0,128.5 139.6,128.4 140.2,128.4 140.8,128.2 141.4,128.2 142.0,128.2 142.7,128.2 143.3,128.2 143.9,128.4 144.5,128.2 145.1,128.1 145.7,128.0 146.3,128.1 147.0,128.3 147.6,128.3 148.2,128.4 148.8,128.5 149.4,128.4 150.0,128.6 150.6,128.5 151.2,128.5 151.9,128.2 152.5,128.1 153.1,128.0 153.7,127.7 154.3,127.6 154.9,127.6 155.5,127.5 156.2,127.4 156.8,127.5 157.4,127.6 158.0,127.5 158.6,127.4 159.2,127.5 159.8,127.5 160.5,127.7 161.1,127.7 161.7,127.8 162.3,128.1 162.9,128.1 163.5,128.4 164.1,128.5 164.8,128.5 165.4,128.6 166.0,128.5 166.6,128.5 167.2,128.5 167.8,128.5 168.4,128.7 169.0,128.7 169.7,128.8 170.3,128.8 170.9,128.9 171.5,128.8 172.1,128.8 172.7,128.9 173.3,129.0 174.0,129.1 174.6,129.1 175.2,129.2 175.8,129.2 176.4,129.0 177.0,129.1 177.6,129.1 178.3,129.1 178.9,129.1 179.5,129.1 180.1,129.1 180.7,129.1 181.3,129.0 181.9,129.1 182.5,129.0 183.2,128.8 183.8,128.8 184.4,128.7 185.0,128.7 185.6,128.7 186.2,128.7 186.8,128.7 187.5,128.4 188.1,128.4 188.7,128.4 189.3,128.5 189.9,128.5 190.5,128.6 191.1,128.6 191.8,128.9 192.4,128.6 193.0,128.9 193.6,128.8 194.2,128.7 194.8,128.7 195.4,128.8 196.1,101.2 196.7,91.7 197.3,91.5 197.9,91.2 198.5,90.9 199.1,90.7 199.7,92.2 200.3,93.7 201.0,95.1 201.6,96.7 202.2,96.9 202.8,96.9 203.4,96.8 204.0,97.0 204.6,96.9 205.3,97.1 205.9,97.1 206.5,97.3 207.1,97.2 207.7,97.4 208.3,97.3 208.9,97.3 209.6,97.2 210.2,97.2 210.8,97.0 211.4,97.2 212.0,97.1 212.6,97.2 213.2,97.3 213.8,97.0 214.5,97.3 215.1,97.6 215.7,97.6 216.3,97.5 216.9,97.5 217.5,97.4 218.1,79.9 218.8,69.5 219.4,69.6 220.0,69.6 220.6,69.6 221.2,69.6 221.8,69.6 222.4,69.7 223.1,69.7 223.7,69.8 224.3,69.8 224.9,69.9 225.5,69.9 226.1,70.1 226.7,70.1 227.4,70.1 228.0,70.3 228.6,70.1 229.2,70.3 229.8,70.4 230.4,70.6 231.0,70.7 231.6,70.7 232.3,70.6 232.9,70.7 233.5,70.6 234.1,70.3 234.7,70.4 235.3,70.6 235.9,70.5 236.6,70.5 237.2,70.6 237.8,70.5 238.4,70.6 239.0,70.5 239.6,70.6 240.2,70.7 240.9,70.7 241.5,70.5 242.1,70.4 242.7,70.5 243.3,70.6 243.9,70.5 244.5,70.4 245.2,70.4 245.8,70.4 246.4,70.6 247.0,70.5 247.6,70.8 248.2,70.7 248.8,70.6 249.4,70.5 250.1,70.5 250.7,70.6 251.3,70.6 251.9,70.6 252.5,70.3 253.1,70.5 253.7,70.4 254.4,70.4 255.0,70.3 255.6,70.3 256.2,70.5 256.8,70.6 257.4,70.5 258.0,70.6 258.7,70.4 259.3,70.2 259.9,70.4 260.5,70.4 261.1,70.2 261.7,70.2 262.3,70.1 262.9,69.9 263.6,69.9 264.2,69.7 264.8,69.6 265.4,69.4 266.0,69.3 266.6,69.1 267.2,68.9 267.9,68.8 268.5,68.6 269.1,68.6 269.7,68.5 270.3,68.6 270.9,65.6 271.5,63.9 272.2,64.0 272.8,63.9 273.4,63.8 274.0,63.9 274.6,63.8 275.2,63.7 275.8,63.5 276.5,63.5 277.1,63.0 277.7,63.2 278.3,63.2 278.9,63.0 279.5,63.1 280.1,63.2 280.7,63.2 281.4,63.1 282.0,63.0 282.6,63.3 283.2,63.3 283.8,63.2 284.4,63.3 285.0,63.3 285.7,63.4 286.3,63.6 286.9,63.4 287.5,63.7 288.1,63.6 288.7,63.6 289.3,63.6 290.0,63.5 290.6,63.6 291.2,63.4 291.8,63.6 292.4,63.6 293.0,63.6 293.6,63.4 294.3,63.5 294.9,63.4 295.5,63.6 296.1,63.9 296.7,63.8 297.3,63.8 297.9,62.0 298.5,60.2 299.2,58.6 299.8,56.5 300.4,56.5 301.0,56.7 301.6,56.4 302.2,56.5 302.8,56.7 303.5,56.7 304.1,56.6 304.7,56.5 305.3,56.5 305.9,56.6 306.5,56.4 307.1,56.2 307.8,56.5 308.4,56.3 309.0,56.3 309.6,56.4 310.2,56.4 310.8,56.2 311.4,56.2 312.1,56.2 312.7,56.3 313.3,56.2 313.9,56.3 314.5,56.1 315.1,56.2 315.7,56.3 316.3,56.2 317.0,56.0 317.6,66.6 318.2,68.6 318.8,68.8 319.4,68.6 320.0,68.4 320.6,68.6 321.3,68.5 321.9,68.4 322.5,68.2 323.1,68.4 323.7,68.5 324.3,68.3 324.9,68.3 325.6,68.5 326.2,68.8 326.8,68.5 327.4,68.4 328.0,68.5 328.6,68.2 329.2,68.2 329.8,68.3 330.5,68.6 331.1,68.6 331.7,68.8 332.3,68.7 332.9,68.7 333.5,68.6 334.1,68.5 334.8,68.4 335.4,68.3 336.0,68.4 336.6,85.1 337.2,118.7 337.8,121.6 338.4,124.5 339.1,127.4 339.7,127.4 340.3,127.6 340.9,127.8 341.5,127.9 342.1,127.9 342.7,128.0 343.4,128.1 344.0,128.2 344.6,128.1 345.2,128.0 345.8,128.0 346.4,128.0 347.0,128.2 347.6,128.3 348.3,128.2 348.9,128.3 349.5,128.1 350.1,128.0 350.7,127.9 351.3,128.0 351.9,128.0 352.6,128.3 353.2,128.3 353.8,128.1 354.4,128.5 355.0,128.5 355.6,128.3 356.2,128.3 356.9,128.2 357.5,128.2 358.1,128.2 358.7,128.3 359.3,128.3 359.9,128.5 360.5,128.6 361.1,128.5 361.8,128.4 362.4,128.4 363.0,128.2 363.6,128.1 364.2,128.0 364.8,128.0 365.4,127.8 366.1,127.7 366.7,127.6 367.3,127.8 367.9,127.5 368.5,127.4 369.1,127.4 369.7,127.3 370.4,127.3 371.0,127.2 371.6,127.0 372.2,127.2 372.8,127.3 373.4,127.1 374.0,127.1 374.7,127.2 375.3,126.9 375.9,126.8 376.5,126.9 377.1,126.8 377.7,126.8 378.3,126.8 378.9,126.8 379.6,126.9 380.2,127.0 380.8,126.8 381.4,126.9 382.0,126.8 382.6,127.0 383.2,126.9 383.9,127.1 384.5,127.2 385.1,127.1 385.7,127.1 386.3,127.0 386.9,127.1 387.5,127.1 388.2,127.1 388.8,127.1 389.4,127.1 390.0,127.0 390.6,127.2 391.2,127.2 391.8,127.2 392.5,127.0 393.1,127.0 393.7,126.9 394.3,127.0 394.9,127.2 395.5,127.2 396.1,127.5 396.7,127.7 397.4,127.7 398.0,127.7 398.6,127.9 399.2,128.0 399.8,128.2 400.4,127.9 401.0,127.8 401.7,127.6 402.3,127.9 402.9,128.1 403.5,128.1 404.1,128.1 404.7,128.3 405.3,128.4 406.0,128.5 406.6,128.4 407.2,128.4 407.8,128.3 408.4,128.2 409.0,128.3 409.6,128.1 410.2,127.7 410.9,127.8 411.5,128.1 412.1,128.2 412.7,128.1 413.3,128.2 413.9,128.0 414.5,128.1 415.2,127.7 415.8,127.7 416.4,127.7 417.0,127.5 417.6,127.2 418.2,126.9 418.8,126.8 419.5,127.0 420.1,127.2 420.7,127.5 421.3,127.2 421.9,126.7 422.5,126.7 423.1,126.7 423.8,126.6 424.4,126.4 425.0,126.4 425.6,126.3 426.2,126.3 426.8,126.4 427.4,126.5 428.0,126.5 428.7,126.8 429.3,126.8 429.9,126.6 430.5,126.7 431.1,126.6 431.7,126.8 432.3,126.8 433.0,126.9 433.6,126.9 434.2,127.3 434.8,127.2 435.4,127.3 436.0,127.2 436.6,127.3 437.3,127.5 437.9,127.6 438.5,127.5 439.1,127.6 439.7,127.4 440.3,127.6 440.9,127.8 441.6,127.9 442.2,128.0 442.8,128.0 443.4,128.2 444.0,128.1 444.6,128.0 445.2,127.8 445.8,127.7 446.5,127.8 447.1,127.7 447.7,127.7 448.3,127.9 448.9,127.8 449.5,127.6 450.1,127.8 450.8,128.0 451.4,127.9 452.0,128.0 452.6,128.1 453.2,127.9 453.8,127.9 454.4,127.8 455.1,127.9 455.7,127.7 456.3,127.7 456.9,127.7 457.5,127.5 458.1,127.5 458.7,127.5 459.4,127.5 460.0,127.7 460.6,127.6 461.2,127.7 461.8,127.6 462.4,127.6 463.0,127.7 463.6,127.9 464.3,127.9 464.9,128.0 465.5,127.9 466.1,127.8 466.7,128.0 467.3,128.1 467.9,128.5 468.6,128.5 469.2,128.4 469.8,128.2 470.4,128.3 471.0,128.4 471.6,128.0 472.2,127.9 472.9,127.9 473.5,128.2 474.1,128.1 474.7,128.3 475.3,128.4 475.9,128.4 476.5,128.5 477.1,128.5 477.8,128.5 478.4,128.5 479.0,128.6 479.6,128.6 480.2,128.5 480.8,128.5 481.4,128.5 482.1,128.5 482.7,128.5 483.3,128.8 483.9,128.8 484.5,128.9 485.1,129.1 485.7,128.7 486.4,128.6 487.0,128.0 487.6,128.2 488.2,128.3 488.8,128.4 489.4,128.3 490.0,128.2 490.7,128.5 491.3,128.5 491.9,128.5 492.5,128.5 493.1,128.4 493.7,128.4 494.3,128.4 494.9,128.4 495.6,128.5 496.2,128.3 496.8,128.6 497.4,128.5 498.0,128.5 498.6,128.7 499.2,128.5 499.9,128.5 500.5,128.4 501.1,128.5 501.7,128.4 502.3,128.3 502.9,128.5 503.5,128.3 504.2,128.4 504.8,128.5 505.4,128.7 506.0,128.8 506.6,128.6 507.2,128.5 507.8,128.6 508.4,128.8 509.1,128.7 509.7,128.5 510.3,128.6 510.9,128.5 511.5,128.6 512.1,128.6 512.7,128.7 513.4,128.6 514.0,128.7" fill="none" stroke="#cc33cc" stroke-width="1.0" stroke-linejoin="round"/><line x1="42.00" y1="150.80" x2="514.59" y2="150.80" stroke="#000" stroke-width="2.2" stroke-dasharray="2.2 1.8" stroke-dashoffset="0.7"/>
<rect x="42.00" y="21.50" width="491.00" height="163.00" fill="none" stroke="#404040" stroke-width="1.3"/>
<path d="M91.10 184.50v-4.90M91.10 21.50v4.90M140.20 184.50v-4.90M140.20 21.50v4.90M189.30 184.50v-4.90M189.30 21.50v4.90M238.40 184.50v-4.90M238.40 21.50v4.90M287.50 184.50v-4.90M287.50 21.50v4.90M336.60 184.50v-4.90M336.60 21.50v4.90M385.70 184.50v-4.90M385.70 21.50v4.90M434.80 184.50v-4.90M434.80 21.50v4.90M483.90 184.50v-4.90M483.90 21.50v4.90M42.00 151.90h4.90M533.00 151.90h-4.90M42.00 119.30h4.90M533.00 119.30h-4.90M42.00 86.70h4.90M533.00 86.70h-4.90M42.00 54.10h4.90M533.00 54.10h-4.90" stroke="#404040" stroke-width="1.3" fill="none"/>
<text class="g" x="42.00" y="201.50" font-size="12" text-anchor="middle" fill="#262626">0</text>
<text class="g" x="91.10" y="201.50" font-size="12" text-anchor="middle" fill="#262626">20</text>
<text class="g" x="140.20" y="201.50" font-size="12" text-anchor="middle" fill="#262626">40</text>
<text class="g" x="189.30" y="201.50" font-size="12" text-anchor="middle" fill="#262626">60</text>
<text class="g" x="238.40" y="201.50" font-size="12" text-anchor="middle" fill="#262626">80</text>
<text class="g" x="287.50" y="201.50" font-size="12" text-anchor="middle" fill="#262626">100</text>
<text class="g" x="336.60" y="201.50" font-size="12" text-anchor="middle" fill="#262626">120</text>
<text class="g" x="385.70" y="201.50" font-size="12" text-anchor="middle" fill="#262626">140</text>
<text class="g" x="434.80" y="201.50" font-size="12" text-anchor="middle" fill="#262626">160</text>
<text class="g" x="483.90" y="201.50" font-size="12" text-anchor="middle" fill="#262626">180</text>
<text class="g" x="533.00" y="201.50" font-size="12" text-anchor="middle" fill="#262626">200</text>
<text class="g" x="37.60" y="189.50" font-size="12" text-anchor="end" fill="#262626">1.8</text>
<text class="g" x="37.60" y="156.90" font-size="12" text-anchor="end" fill="#262626">2</text>
<text class="g" x="37.60" y="124.30" font-size="12" text-anchor="end" fill="#262626">2.2</text>
<text class="g" x="37.60" y="91.70" font-size="12" text-anchor="end" fill="#262626">2.4</text>
<text class="g" x="37.60" y="59.10" font-size="12" text-anchor="end" fill="#262626">2.6</text>
<text class="g" x="37.60" y="26.50" font-size="12" text-anchor="end" fill="#262626">2.8</text>
<text class="g" transform="translate(15.3 103.00) rotate(-90)" font-size="13.7" text-anchor="middle" fill="#262626">Distance / m</text>
<text x="288.30" y="15.50" font-size="13.5" font-weight="bold" text-anchor="middle" fill="#000">NLOS scenario for special case (Type II) blocked by human in the middle</text>
<rect x="441.3" y="29.50" width="80.5" height="62.5" fill="#fff" stroke="#404040" stroke-width="1.3"/>
<line x1="445.5" y1="38.70" x2="486" y2="38.70" stroke="#0000ff" stroke-width="2.2"/>
<text class="k" x="489" y="42.90" font-size="11.2" fill="#000">AltDS</text>
<line x1="445.5" y1="53.45" x2="486" y2="53.45" stroke="#0b930b" stroke-width="2.2"/>
<text class="k" x="489" y="57.65" font-size="11.2" fill="#000">SDS</text>
<line x1="445.5" y1="68.20" x2="486" y2="68.20" stroke="#cc33cc" stroke-width="2.2"/>
<text class="k" x="489" y="72.40" font-size="11.2" fill="#000">SS</text>
<line x1="445.5" y1="82.95" x2="486" y2="82.95" stroke="#000" stroke-width="2.2" stroke-dasharray="2.2 1.8" stroke-dashoffset="0.7"/>
<text class="k" x="489" y="87.15" font-size="11.2" fill="#000">Ref.</text>
<path d="M91.10 227.50V389.50M140.20 227.50V389.50M189.30 227.50V389.50M238.40 227.50V389.50M287.50 227.50V389.50M336.60 227.50V389.50M385.70 227.50V389.50M434.80 227.50V389.50M483.90 227.50V389.50M42.00 349.00H533.00M42.00 308.50H533.00M42.00 268.00H533.00" stroke="#e4e4e4" stroke-width="1" fill="none"/>
<polygon points="42.0,349.2 42.6,349.2 43.2,349.2 43.8,349.1 44.5,349.2 45.1,349.2 45.7,349.1 46.3,349.1 46.9,349.2 47.5,349.1 48.1,349.2 48.8,349.2 49.4,349.2 50.0,349.2 50.6,349.2 51.2,349.3 51.8,349.3 52.4,349.3 53.0,349.3 53.7,349.4 54.3,349.3 54.9,349.1 55.5,349.1 56.1,349.1 56.7,349.1 57.3,349.0 58.0,348.9 58.6,348.9 59.2,348.7 59.8,348.8 60.4,348.8 61.0,348.6 61.6,348.6 62.3,348.6 62.9,348.6 63.5,348.6 64.1,348.6 64.7,348.6 65.3,348.7 65.9,348.6 66.5,348.6 67.2,348.6 67.8,348.6 68.4,348.6 69.0,348.6 69.6,348.6 70.2,348.6 70.8,348.6 71.5,348.6 72.1,348.5 72.7,348.5 73.3,348.6 73.9,348.5 74.5,348.5 75.1,348.4 75.8,348.5 76.4,348.5 77.0,348.6 77.6,348.6 78.2,348.6 78.8,348.6 79.4,348.5 80.1,348.6 80.7,348.6 81.3,348.6 81.9,348.8 82.5,348.8 83.1,348.8 83.7,348.7 84.3,348.7 85.0,348.8 85.6,348.7 86.2,348.8 86.8,348.7 87.4,348.8 88.0,348.8 88.6,348.8 89.3,348.8 89.9,348.8 90.5,348.8 91.1,348.8 91.7,348.8 92.3,348.8 92.9,348.9 93.6,348.9 94.2,348.9 94.8,348.9 95.4,348.9 96.0,348.8 96.6,348.8 97.2,348.8 97.9,348.8 98.5,348.8 99.1,348.8 99.7,348.7 100.3,348.7 100.9,348.6 101.5,348.6 102.1,348.7 102.8,348.7 103.4,348.7 104.0,348.7 104.6,348.7 105.2,348.6 105.8,348.6 106.4,348.7 107.1,348.7 107.7,348.6 108.3,348.6 108.9,348.6 109.5,348.5 110.1,348.5 110.7,348.5 111.4,348.5 112.0,348.5 112.6,348.6 113.2,348.6 113.8,348.7 114.4,348.7 115.0,348.7 115.7,348.8 116.3,348.7 116.9,348.8 117.5,348.8 118.1,348.8 118.7,348.9 119.3,348.8 119.9,348.9 120.6,348.9 121.2,348.8 121.8,348.8 122.4,348.8 123.0,348.8 123.6,348.8 124.2,348.9 124.9,348.9 125.5,348.9 126.1,349.0 126.7,349.1 127.3,349.2 127.9,349.2 128.5,349.1 129.2,349.2 129.8,349.2 130.4,349.3 131.0,349.3 131.6,349.4 132.2,349.3 132.8,349.2 133.4,349.3 134.1,349.3 134.7,349.3 135.3,349.3 135.9,349.3 136.5,349.3 137.1,349.4 137.7,349.4 138.4,349.5 139.0,349.4 139.6,349.5 140.2,349.6 140.8,349.6 141.4,349.6 142.0,349.6 142.7,349.5 143.3,349.5 143.9,349.5 144.5,349.5 145.1,349.4 145.7,349.4 146.3,349.3 147.0,349.3 147.6,349.3 148.2,349.3 148.8,349.2 149.4,349.2 150.0,349.1 150.6,348.9 151.2,349.0 151.9,349.1 152.5,348.9 153.1,348.9 153.7,348.8 154.3,348.8 154.9,348.7 155.5,348.7 156.2,348.6 156.8,348.6 157.4,348.5 158.0,348.5 158.6,348.5 159.2,348.5 159.8,348.5 160.5,348.5 161.1,348.4 161.7,348.4 162.3,348.4 162.9,348.4 163.5,348.4 164.1,348.4 164.8,348.5 165.4,348.4 166.0,348.5 166.6,348.6 167.2,348.6 167.8,348.6 168.4,348.6 169.0,348.7 169.7,348.7 170.3,348.7 170.9,348.6 171.5,348.8 172.1,348.8 172.7,348.8 173.3,348.8 174.0,348.9 174.6,348.9 175.2,348.9 175.8,348.9 176.4,349.0 177.0,349.0 177.6,348.9 178.3,348.9 178.9,348.9 179.5,348.9 180.1,349.0 180.7,349.0 181.3,348.9 181.9,348.9 182.5,349.0 183.2,349.0 183.8,348.8 184.4,348.8 185.0,348.7 185.6,348.5 186.2,348.6 186.8,348.6 187.5,348.6 188.1,348.5 188.7,348.5 189.3,348.5 189.9,348.5 190.5,348.4 191.1,348.4 191.8,348.4 192.4,348.5 193.0,348.4 193.6,348.4 194.2,348.4 194.8,348.3 195.4,348.3 196.1,348.3 196.7,348.3 197.3,348.4 197.9,348.3 198.5,348.3 199.1,348.3 199.7,348.4 200.3,339.6 201.0,316.7 201.6,311.9 202.2,311.9 202.8,312.0 203.4,311.9 204.0,312.0 204.6,312.1 205.3,312.1 205.9,312.2 206.5,312.3 207.1,312.3 207.7,312.4 208.3,312.4 208.9,312.4 209.6,312.5 210.2,312.4 210.8,312.5 211.4,312.5 212.0,312.5 212.6,312.5 213.2,312.5 213.8,312.6 214.5,312.6 215.1,312.6 215.7,312.6 216.3,312.6 216.9,312.5 217.5,312.6 218.1,312.5 218.8,312.5 219.4,312.6 220.0,312.7 220.6,312.8 221.2,312.8 221.8,312.8 222.4,312.9 223.1,313.0 223.7,312.9 224.3,312.8 224.9,312.8 225.5,312.7 226.1,312.8 226.7,312.7 227.4,312.7 228.0,312.6 228.6,312.5 229.2,312.7 229.8,312.7 230.4,312.8 231.0,312.8 231.6,313.6 232.3,314.3 232.9,314.4 233.5,314.6 234.1,314.7 234.7,314.7 235.3,314.7 235.9,314.7 236.6,314.7 237.2,314.7 237.8,314.7 238.4,314.7 239.0,314.7 239.6,314.6 240.2,314.7 240.9,314.7 241.5,314.6 242.1,314.6 242.7,314.7 243.3,314.7 243.9,314.6 244.5,314.7 245.2,314.7 245.8,314.7 246.4,314.8 247.0,314.8 247.6,314.8 248.2,314.7 248.8,314.6 249.4,314.5 250.1,314.6 250.7,314.5 251.3,314.5 251.9,314.6 252.5,314.5 253.1,314.5 253.7,314.5 254.4,314.5 255.0,314.4 255.6,314.5 256.2,314.5 256.8,314.6 257.4,314.6 258.0,314.6 258.7,314.6 259.3,314.5 259.9,314.5 260.5,314.5 261.1,314.5 261.7,314.6 262.3,314.5 262.9,314.6 263.6,314.3 264.2,313.2 264.8,312.1 265.4,310.9 266.0,310.9 266.6,311.0 267.2,311.0 267.9,311.0 268.5,311.1 269.1,311.2 269.7,311.1 270.3,311.2 270.9,311.2 271.5,311.2 272.2,311.8 272.8,312.3 273.4,312.9 274.0,313.1 274.6,313.1 275.2,313.2 275.8,313.2 276.5,313.3 277.1,313.4 277.7,313.5 278.3,313.5 278.9,313.6 279.5,313.6 280.1,313.6 280.7,313.5 281.4,313.5 282.0,313.5 282.6,313.5 283.2,313.5 283.8,313.5 284.4,313.6 285.0,313.6 285.7,313.6 286.3,313.5 286.9,313.5 287.5,313.4 288.1,313.4 288.7,313.3 289.3,313.3 290.0,315.5 290.6,317.7 291.2,317.7 291.8,317.7 292.4,317.7 293.0,317.6 293.6,317.6 294.3,317.7 294.9,317.6 295.5,317.5 296.1,317.5 296.7,317.4 297.3,317.4 297.9,317.4 298.5,317.4 299.2,317.4 299.8,317.4 300.4,317.4 301.0,317.4 301.6,317.4 302.2,317.4 302.8,317.4 303.5,317.4 304.1,317.3 304.7,317.3 305.3,317.3 305.9,317.3 306.5,317.2 307.1,317.2 307.8,317.2 308.4,317.2 309.0,317.2 309.6,317.1 310.2,317.1 310.8,317.0 311.4,317.0 312.1,317.0 312.7,316.9 313.3,316.9 313.9,316.9 314.5,317.0 315.1,317.0 315.7,317.0 316.3,317.0 317.0,317.0 317.6,316.9 318.2,316.9 318.8,316.9 319.4,317.0 320.0,317.0 320.6,316.9 321.3,317.0 321.9,317.0 322.5,317.0 323.1,317.0 323.7,317.0 324.3,317.0 324.9,316.9 325.6,316.9 326.2,315.6 326.8,314.1 327.4,312.6 328.0,311.1 328.6,311.0 329.2,310.9 329.8,310.8 330.5,310.8 331.1,310.7 331.7,310.6 332.3,310.4 332.9,310.3 333.5,310.2 334.1,310.1 334.8,309.9 335.4,309.8 336.0,309.7 336.6,309.6 337.2,309.4 337.8,309.3 338.4,309.1 339.1,309.0 339.7,308.9 340.3,308.8 340.9,308.7 341.5,308.6 342.1,308.5 342.7,308.5 343.4,308.4 344.0,323.4 344.6,341.9 345.2,347.7 345.8,347.7 346.4,347.7 347.0,347.8 347.6,347.9 348.3,347.9 348.9,348.0 349.5,347.9 350.1,347.9 350.7,347.9 351.3,347.9 351.9,347.9 352.6,348.0 353.2,348.0 353.8,348.2 354.4,348.2 355.0,348.3 355.6,348.4 356.2,348.4 356.9,348.4 357.5,348.4 358.1,348.5 358.7,348.5 359.3,348.4 359.9,348.5 360.5,348.5 361.1,348.5 361.8,348.5 362.4,348.5 363.0,348.6 363.6,348.5 364.2,348.6 364.8,348.6 365.4,348.6 366.1,348.6 366.7,348.5 367.3,348.5 367.9,348.5 368.5,348.6 369.1,348.7 369.7,348.7 370.4,348.8 371.0,348.8 371.6,348.6 372.2,348.6 372.8,348.5 373.4,348.5 374.0,348.5 374.7,348.4 375.3,348.4 375.9,348.3 376.5,348.3 377.1,348.3 377.7,348.3 378.3,348.4 378.9,348.3 379.6,348.3 380.2,348.4 380.8,348.3 381.4,348.4 382.0,348.3 382.6,348.2 383.2,348.2 383.9,348.2 384.5,348.3 385.1,348.2 385.7,348.2 386.3,348.3 386.9,348.2 387.5,348.2 388.2,348.2 388.8,348.1 389.4,348.1 390.0,348.1 390.6,348.1 391.2,348.1 391.8,348.2 392.5,348.1 393.1,348.2 393.7,348.3 394.3,348.3 394.9,348.3 395.5,348.3 396.1,348.2 396.7,348.2 397.4,348.1 398.0,348.2 398.6,348.2 399.2,348.2 399.8,348.2 400.4,348.3 401.0,348.4 401.7,348.5 402.3,348.4 402.9,348.4 403.5,348.4 404.1,348.4 404.7,348.4 405.3,348.4 406.0,348.4 406.6,348.4 407.2,348.4 407.8,348.3 408.4,348.2 409.0,348.2 409.6,348.2 410.2,348.2 410.9,348.2 411.5,348.2 412.1,348.1 412.7,348.0 413.3,348.0 413.9,348.1 414.5,348.0 415.2,348.0 415.8,348.0 416.4,348.0 417.0,348.0 417.6,347.9 418.2,347.9 418.8,347.8 419.5,347.7 420.1,347.7 420.7,347.8 421.3,348.0 421.9,348.0 422.5,347.9 423.1,348.0 423.8,348.0 424.4,347.9 425.0,347.9 425.6,348.0 426.2,348.0 426.8,348.0 427.4,348.2 428.0,348.3 428.7,348.2 429.3,348.2 429.9,348.3 430.5,348.2 431.1,348.2 431.7,348.2 432.3,348.2 433.0,348.2 433.6,348.2 434.2,348.2 434.8,348.2 435.4,348.1 436.0,348.2 436.6,348.3 437.3,348.3 437.9,348.3 438.5,348.3 439.1,348.3 439.7,348.2 440.3,348.2 440.9,348.1 441.6,348.1 442.2,348.1 442.8,348.1 443.4,348.2 444.0,348.2 444.6,348.1 445.2,348.1 445.8,348.1 446.5,348.0 447.1,348.0 447.7,348.1 448.3,348.2 448.9,348.2 449.5,348.2 450.1,348.3 450.8,348.2 451.4,348.2 452.0,348.2 452.6,348.3 453.2,348.3 453.8,348.3 454.4,348.3 455.1,348.2 455.7,348.2 456.3,348.2 456.9,348.1 457.5,348.2 458.1,348.2 458.7,348.1 459.4,348.1 460.0,348.1 460.6,348.0 461.2,348.0 461.8,348.0 462.4,348.0 463.0,347.9 463.6,347.9 464.3,347.8 464.9,347.8 465.5,347.9 466.1,347.9 466.7,347.9 467.3,347.8 467.9,347.7 468.6,347.7 469.2,347.8 469.8,348.0 470.4,348.1 471.0,348.0 471.6,348.0 472.2,348.0 472.9,348.0 473.5,348.0 474.1,348.1 474.7,348.1 475.3,348.2 475.9,348.2 476.5,348.2 477.1,348.2 477.8,348.3 478.4,348.3 479.0,348.3 479.6,348.4 480.2,348.4 480.8,348.4 481.4,348.4 482.1,348.5 482.7,348.5 483.3,348.6 483.9,348.6 484.5,348.6 485.1,348.5 485.7,348.6 486.4,348.6 487.0,348.6 487.6,348.6 488.2,348.6 488.8,348.5 489.4,348.5 490.0,348.5 490.7,348.5 491.3,348.5 491.9,348.5 492.5,348.5 493.1,348.4 493.7,348.4 494.3,348.3 494.9,348.3 495.6,348.3 496.2,348.3 496.8,348.3 497.4,348.2 498.0,348.2 498.6,348.2 499.2,348.1 499.9,348.1 500.5,348.1 501.1,348.1 501.7,348.0 502.3,348.0 502.9,348.0 503.5,348.0 504.2,348.1 504.8,348.0 505.4,348.0 506.0,348.1 506.6,348.1 507.2,348.2 507.8,348.1 508.4,348.1 509.1,348.1 509.7,348.1 510.3,348.1 510.9,348.1 511.5,348.1 512.1,348.1 512.7,348.1 513.4,348.2 514.0,348.2 514.6,348.3 515.2,348.3 515.8,348.3 516.4,348.4 517.0,348.4 517.0,352.5 516.4,352.5 515.8,352.4 515.2,352.5 514.6,352.4 514.0,352.4 513.4,352.3 512.7,352.2 512.1,352.2 511.5,352.3 510.9,352.3 510.3,352.3 509.7,352.3 509.1,352.3 508.4,352.2 507.8,352.2 507.2,352.3 506.6,352.3 506.0,352.3 505.4,352.2 504.8,352.1 504.2,352.2 503.5,352.2 502.9,352.2 502.3,352.2 501.7,352.2 501.1,352.2 500.5,352.3 499.9,352.3 499.2,352.3 498.6,352.3 498.0,352.4 497.4,352.3 496.8,352.4 496.2,352.4 495.6,352.5 494.9,352.4 494.3,352.4 493.7,352.5 493.1,352.6 492.5,352.7 491.9,352.6 491.3,352.7 490.7,352.7 490.0,352.7 489.4,352.7 488.8,352.7 488.2,352.8 487.6,352.8 487.0,352.8 486.4,352.7 485.7,352.8 485.1,352.7 484.5,352.8 483.9,352.8 483.3,352.8 482.7,352.7 482.1,352.6 481.4,352.6 480.8,352.5 480.2,352.5 479.6,352.5 479.0,352.5 478.4,352.5 477.8,352.4 477.1,352.3 476.5,352.3 475.9,352.4 475.3,352.4 474.7,352.3 474.1,352.3 473.5,352.2 472.9,352.2 472.2,352.1 471.6,352.1 471.0,352.2 470.4,352.2 469.8,352.1 469.2,352.0 468.6,351.9 467.9,351.9 467.3,351.9 466.7,352.0 466.1,352.1 465.5,352.0 464.9,352.0 464.3,352.0 463.6,352.1 463.0,352.1 462.4,352.1 461.8,352.2 461.2,352.2 460.6,352.2 460.0,352.2 459.4,352.2 458.7,352.3 458.1,352.3 457.5,352.3 456.9,352.3 456.3,352.4 455.7,352.4 455.1,352.3 454.4,352.5 453.8,352.5 453.2,352.5 452.6,352.5 452.0,352.4 451.4,352.4 450.8,352.4 450.1,352.4 449.5,352.4 448.9,352.3 448.3,352.4 447.7,352.2 447.1,352.1 446.5,352.2 445.8,352.3 445.2,352.3 444.6,352.2 444.0,352.3 443.4,352.3 442.8,352.2 442.2,352.2 441.6,352.3 440.9,352.3 440.3,352.3 439.7,352.4 439.1,352.5 438.5,352.5 437.9,352.5 437.3,352.5 436.6,352.4 436.0,352.4 435.4,352.3 434.8,352.3 434.2,352.3 433.6,352.3 433.0,352.3 432.3,352.4 431.7,352.3 431.1,352.4 430.5,352.3 429.9,352.4 429.3,352.4 428.7,352.4 428.0,352.4 427.4,352.3 426.8,352.2 426.2,352.2 425.6,352.1 425.0,352.1 424.4,352.1 423.8,352.1 423.1,352.2 422.5,352.1 421.9,352.1 421.3,352.1 420.7,352.0 420.1,351.9 419.5,351.9 418.8,352.0 418.2,352.0 417.6,352.1 417.0,352.1 416.4,352.2 415.8,352.2 415.2,352.2 414.5,352.2 413.9,352.2 413.3,352.2 412.7,352.2 412.1,352.2 411.5,352.4 410.9,352.3 410.2,352.4 409.6,352.4 409.0,352.3 408.4,352.4 407.8,352.5 407.2,352.5 406.6,352.6 406.0,352.6 405.3,352.6 404.7,352.6 404.1,352.6 403.5,352.5 402.9,352.5 402.3,352.5 401.7,352.6 401.0,352.6 400.4,352.5 399.8,352.4 399.2,352.4 398.6,352.4 398.0,352.4 397.4,352.3 396.7,352.4 396.1,352.4 395.5,352.4 394.9,352.4 394.3,352.5 393.7,352.4 393.1,352.4 392.5,352.3 391.8,352.3 391.2,352.3 390.6,352.3 390.0,352.3 389.4,352.3 388.8,352.3 388.2,352.3 387.5,352.4 386.9,352.3 386.3,352.4 385.7,352.4 385.1,352.4 384.5,352.5 383.9,352.4 383.2,352.4 382.6,352.4 382.0,352.4 381.4,352.5 380.8,352.5 380.2,352.5 379.6,352.5 378.9,352.5 378.3,352.5 377.7,352.5 377.1,352.5 376.5,352.5 375.9,352.5 375.3,352.5 374.7,352.5 374.0,352.6 373.4,352.7 372.8,352.7 372.2,352.8 371.6,352.8 371.0,352.9 370.4,352.9 369.7,352.9 369.1,352.9 368.5,352.8 367.9,352.7 367.3,352.7 366.7,352.7 366.1,352.7 365.4,352.8 364.8,352.8 364.2,352.7 363.6,352.7 363.0,352.7 362.4,352.7 361.8,352.7 361.1,352.7 360.5,352.7 359.9,352.6 359.3,352.6 358.7,352.7 358.1,352.6 357.5,352.6 356.9,352.6 356.2,352.6 355.6,352.5 355.0,352.5 354.4,352.4 353.8,352.3 353.2,352.2 352.6,352.2 351.9,352.1 351.3,352.0 350.7,352.1 350.1,352.0 349.5,352.0 348.9,352.2 348.3,352.1 347.6,352.0 347.0,351.9 346.4,351.9 345.8,351.8 345.2,351.8 344.6,346.0 344.0,327.5 343.4,312.6 342.7,312.7 342.1,312.7 341.5,312.8 340.9,312.9 340.3,313.0 339.7,313.1 339.1,313.2 338.4,313.3 337.8,313.4 337.2,313.6 336.6,313.7 336.0,313.8 335.4,314.0 334.8,314.1 334.1,314.2 333.5,314.3 332.9,314.5 332.3,314.6 331.7,314.7 331.1,314.8 330.5,314.9 329.8,315.0 329.2,315.0 328.6,315.1 328.0,315.3 327.4,316.8 326.8,318.3 326.2,319.8 325.6,321.1 324.9,321.0 324.3,321.1 323.7,321.1 323.1,321.2 322.5,321.2 321.9,321.1 321.3,321.1 320.6,321.1 320.0,321.1 319.4,321.1 318.8,321.1 318.2,321.0 317.6,321.1 317.0,321.1 316.3,321.1 315.7,321.2 315.1,321.2 314.5,321.2 313.9,321.1 313.3,321.1 312.7,321.1 312.1,321.1 311.4,321.2 310.8,321.2 310.2,321.3 309.6,321.3 309.0,321.3 308.4,321.4 307.8,321.3 307.1,321.3 306.5,321.4 305.9,321.5 305.3,321.4 304.7,321.4 304.1,321.5 303.5,321.5 302.8,321.6 302.2,321.6 301.6,321.5 301.0,321.5 300.4,321.6 299.8,321.6 299.2,321.6 298.5,321.6 297.9,321.5 297.3,321.6 296.7,321.6 296.1,321.6 295.5,321.7 294.9,321.8 294.3,321.8 293.6,321.8 293.0,321.8 292.4,321.8 291.8,321.8 291.2,321.9 290.6,321.9 290.0,319.7 289.3,317.5 288.7,317.5 288.1,317.5 287.5,317.6 286.9,317.7 286.3,317.7 285.7,317.7 285.0,317.7 284.4,317.7 283.8,317.6 283.2,317.7 282.6,317.7 282.0,317.7 281.4,317.7 280.7,317.7 280.1,317.8 279.5,317.8 278.9,317.8 278.3,317.7 277.7,317.6 277.1,317.6 276.5,317.5 275.8,317.4 275.2,317.3 274.6,317.3 274.0,317.2 273.4,317.0 272.8,316.5 272.2,315.9 271.5,315.4 270.9,315.3 270.3,315.3 269.7,315.3 269.1,315.3 268.5,315.3 267.9,315.2 267.2,315.1 266.6,315.1 266.0,315.1 265.4,315.0 264.8,316.2 264.2,317.4 263.6,318.5 262.9,318.8 262.3,318.7 261.7,318.7 261.1,318.6 260.5,318.6 259.9,318.6 259.3,318.7 258.7,318.8 258.0,318.8 257.4,318.7 256.8,318.7 256.2,318.7 255.6,318.6 255.0,318.6 254.4,318.6 253.7,318.6 253.1,318.7 252.5,318.7 251.9,318.7 251.3,318.7 250.7,318.7 250.1,318.7 249.4,318.7 248.8,318.8 248.2,318.9 247.6,319.0 247.0,318.9 246.4,318.9 245.8,318.9 245.2,318.9 244.5,318.8 243.9,318.8 243.3,318.8 242.7,318.8 242.1,318.8 241.5,318.8 240.9,318.8 240.2,318.8 239.6,318.8 239.0,318.9 238.4,318.9 237.8,318.9 237.2,318.9 236.6,318.9 235.9,318.9 235.3,318.8 234.7,318.9 234.1,318.8 233.5,318.8 232.9,318.6 232.3,318.4 231.6,318.8 231.0,319.1 230.4,319.0 229.8,319.0 229.2,318.9 228.6,318.8 228.0,318.9 227.4,318.9 226.7,318.9 226.1,319.0 225.5,319.0 224.9,319.0 224.3,319.1 223.7,319.2 223.1,319.2 222.4,319.2 221.8,319.1 221.2,319.1 220.6,319.1 220.0,318.9 219.4,318.9 218.8,318.8 218.1,318.7 217.5,318.9 216.9,318.8 216.3,318.8 215.7,318.8 215.1,318.9 214.5,318.9 213.8,318.8 213.2,318.8 212.6,318.7 212.0,318.7 211.4,318.7 210.8,318.7 210.2,318.7 209.6,318.7 208.9,318.7 208.3,318.7 207.7,318.6 207.1,318.5 206.5,318.6 205.9,318.4 205.3,318.3 204.6,318.3 204.0,318.2 203.4,318.2 202.8,318.2 202.2,318.1 201.6,318.1 201.0,322.5 200.3,343.7 199.7,352.5 199.1,352.5 198.5,352.5 197.9,352.5 197.3,352.5 196.7,352.5 196.1,352.4 195.4,352.5 194.8,352.5 194.2,352.5 193.6,352.6 193.0,352.5 192.4,352.6 191.8,352.5 191.1,352.5 190.5,352.6 189.9,352.6 189.3,352.7 188.7,352.6 188.1,352.7 187.5,352.7 186.8,352.8 186.2,352.8 185.6,352.7 185.0,352.8 184.4,353.0 183.8,353.0 183.2,353.1 182.5,353.1 181.9,353.0 181.3,353.1 180.7,353.1 180.1,353.1 179.5,353.0 178.9,353.1 178.3,353.1 177.6,353.1 177.0,353.2 176.4,353.1 175.8,353.1 175.2,353.1 174.6,353.0 174.0,353.1 173.3,353.0 172.7,353.0 172.1,353.0 171.5,352.9 170.9,352.8 170.3,352.8 169.7,352.9 169.0,352.9 168.4,352.8 167.8,352.8 167.2,352.8 166.6,352.8 166.0,352.7 165.4,352.6 164.8,352.6 164.1,352.5 163.5,352.6 162.9,352.5 162.3,352.6 161.7,352.6 161.1,352.6 160.5,352.7 159.8,352.7 159.2,352.6 158.6,352.7 158.0,352.6 157.4,352.7 156.8,352.7 156.2,352.8 155.5,352.8 154.9,352.9 154.3,352.9 153.7,353.0 153.1,353.0 152.5,353.0 151.9,353.2 151.2,353.2 150.6,353.1 150.0,353.2 149.4,353.3 148.8,353.3 148.2,353.4 147.6,353.5 147.0,353.5 146.3,353.5 145.7,353.5 145.1,353.6 144.5,353.6 143.9,353.7 143.3,353.6 142.7,353.7 142.0,353.7 141.4,353.7 140.8,353.7 140.2,353.7 139.6,353.6 139.0,353.6 138.4,353.6 137.7,353.6 137.1,353.5 136.5,353.5 135.9,353.4 135.3,353.5 134.7,353.5 134.1,353.4 133.4,353.4 132.8,353.4 132.2,353.4 131.6,353.5 131.0,353.4 130.4,353.5 129.8,353.4 129.2,353.4 128.5,353.3 127.9,353.3 127.3,353.3 126.7,353.2 126.1,353.1 125.5,353.1 124.9,353.1 124.2,353.0 123.6,353.0 123.0,353.0 122.4,352.9 121.8,352.9 121.2,352.9 120.6,353.1 119.9,353.1 119.3,353.0 118.7,353.0 118.1,352.9 117.5,352.9 116.9,352.9 116.3,352.9 115.7,352.9 115.0,352.9 114.4,352.9 113.8,352.8 113.2,352.8 112.6,352.7 112.0,352.7 111.4,352.7 110.7,352.7 110.1,352.7 109.5,352.7 108.9,352.7 108.3,352.7 107.7,352.7 107.1,352.8 106.4,352.8 105.8,352.8 105.2,352.8 104.6,352.8 104.0,352.8 103.4,352.9 102.8,352.8 102.1,352.8 101.5,352.8 100.9,352.8 100.3,352.9 99.7,352.9 99.1,352.9 98.5,353.0 97.9,352.9 97.2,353.0 96.6,353.0 96.0,353.0 95.4,353.0 94.8,353.0 94.2,353.1 93.6,353.0 92.9,353.1 92.3,353.0 91.7,353.0 91.1,353.0 90.5,353.0 89.9,353.0 89.3,353.0 88.6,353.0 88.0,352.9 87.4,352.9 86.8,352.9 86.2,353.0 85.6,352.9 85.0,353.0 84.3,352.9 83.7,352.9 83.1,352.9 82.5,352.9 81.9,352.9 81.3,352.8 80.7,352.8 80.1,352.8 79.4,352.7 78.8,352.8 78.2,352.8 77.6,352.7 77.0,352.8 76.4,352.6 75.8,352.7 75.1,352.6 74.5,352.7 73.9,352.7 73.3,352.7 72.7,352.7 72.1,352.7 71.5,352.7 70.8,352.7 70.2,352.7 69.6,352.8 69.0,352.8 68.4,352.7 67.8,352.8 67.2,352.7 66.5,352.8 65.9,352.8 65.3,352.8 64.7,352.8 64.1,352.7 63.5,352.7 62.9,352.8 62.3,352.8 61.6,352.8 61.0,352.8 60.4,352.9 59.8,352.9 59.2,352.8 58.6,353.0 58.0,353.0 57.3,353.2 56.7,353.3 56.1,353.3 55.5,353.2 54.9,353.3 54.3,353.4 53.7,353.5 53.0,353.5 52.4,353.5 51.8,353.5 51.2,353.4 50.6,353.4 50.0,353.4 49.4,353.4 48.8,353.3 48.1,353.3 47.5,353.3 46.9,353.4 46.3,353.3 45.7,353.3 45.1,353.3 44.5,353.3 43.8,353.3 43.2,353.4 42.6,353.4 42.0,353.4" fill="#1919ff"/><path d="M43.1 349.2V354.0M46.0 349.1V353.7M48.8 348.2V353.8M51.6 349.1V353.8M54.7 348.7V353.5M57.0 348.7V353.1M60.0 348.4V353.1M62.2 348.3V353.6M64.9 348.4V353.1M68.2 347.6V353.6M70.1 348.1V352.6M72.8 348.3V353.4M75.8 348.4V353.6M77.9 347.7V352.9M80.7 347.8V353.1M83.9 347.8V353.1M86.7 348.1V353.3M89.9 348.5V354.0M91.4 348.7V353.7M94.0 348.6V353.0M97.6 348.8V354.1M100.6 348.5V353.5M102.2 348.4V353.7M105.2 348.6V353.7M108.4 348.5V353.7M111.1 348.5V353.5M114.1 348.4V353.0M116.5 347.7V353.7M119.6 347.8V353.7M121.4 348.8V353.3M124.7 348.3V354.0M127.2 349.3V353.2M129.6 348.5V353.9M132.8 348.6V354.4M135.6 348.8V354.0M138.0 349.2V353.9M140.9 349.1V353.7M143.1 349.6V353.7M146.5 348.6V353.7M148.5 348.4V354.5M151.5 349.1V353.7M154.2 347.6V353.2M156.8 348.5V353.7M160.0 347.5V353.3M162.4 347.3V352.8M165.0 348.1V353.3M167.9 347.7V352.7M170.6 348.1V353.3M172.7 348.6V353.5M175.4 348.2V353.0M178.5 348.6V353.8M180.6 348.9V353.0M184.2 348.0V353.1M186.8 348.5V353.6M189.4 347.5V353.0M191.7 348.3V353.3M195.2 348.1V353.0M197.6 347.5V352.9M200.5 334.1V340.2M203.0 311.4V318.0M205.5 311.2V318.1M207.8 310.8V320.2M210.3 312.1V319.8M213.9 312.3V318.9M216.3 312.6V319.9M218.5 311.4V320.3M221.2 300.4V320.4M224.3 312.8V324.7M227.2 311.5V319.7M230.0 312.4V319.9M232.4 313.8V318.5M234.7 314.2V319.3M238.0 314.1V319.8M240.0 314.1V319.1M242.7 314.3V319.0M245.7 314.0V319.4M248.7 314.5V319.7M250.6 313.6V319.7M253.5 314.1V319.8M257.0 313.7V319.8M259.3 313.9V318.7M262.0 314.1V319.1M264.8 311.7V316.9M267.1 310.5V315.8M270.8 310.8V315.3M273.5 292.3V317.4M275.8 312.7V317.7M277.7 312.6V318.3M281.2 313.3V318.0M284.1 312.7V317.9M286.2 313.2V317.8M288.6 312.4V318.2M292.1 316.8V322.1M294.7 317.7V321.9M297.1 316.4V322.6M299.6 316.5V321.9M303.2 316.7V321.8M304.7 317.2V321.4M307.7 316.3V321.8M310.7 316.4V321.5M313.5 316.8V321.7M315.8 316.4V321.4M318.9 316.9V321.5M321.0 316.2V321.1M324.2 316.9V321.1M326.3 314.9V320.4M329.5 311.0V315.8M332.6 310.1V314.9M334.6 309.3V314.2M337.2 308.8V314.3M341.0 308.3V313.5M343.0 308.3V313.3M345.2 347.7V352.9M348.4 347.7V352.4M350.9 347.1V353.1M354.3 347.2V352.8M357.1 347.4V353.7M359.7 348.5V353.7M362.2 348.5V353.1M364.8 348.3V353.2M366.8 348.0V353.7M370.3 348.9V353.9M372.7 348.6V352.7M375.2 347.5V353.0M378.3 347.2V352.5M380.6 347.9V353.4M384.3 347.4V352.6M386.4 347.5V352.7M389.4 347.3V352.5M391.2 347.8V353.1M393.8 347.3V352.7M396.7 348.2V352.8M399.4 348.0V353.3M402.6 347.7V352.9M405.4 348.2V353.6M408.5 347.3V353.4M410.1 347.3V352.8M413.3 347.1V352.3M416.2 347.1V353.2M418.6 347.2V352.6M420.8 347.8V352.3M423.6 347.7V352.1M426.2 348.2V352.6M429.3 347.9V352.2M431.8 347.5V353.0M435.5 347.4V352.6M437.8 347.6V352.7M439.8 348.0V352.5M443.2 347.1V353.1M445.7 347.6V353.3M448.9 348.1V352.2M450.7 347.2V352.9M453.6 347.6V352.4M456.5 347.5V352.2M459.2 347.5V353.3M461.4 348.2V352.4M465.1 347.3V352.5M466.9 347.1V353.0M470.0 347.3V352.8M472.8 347.9V352.4M475.3 347.7V353.1M477.9 347.5V353.3M481.1 347.4V353.2M483.6 348.5V353.1M486.5 348.0V353.5M489.3 348.6V353.0M492.2 348.4V352.9M494.3 348.0V352.6M496.9 348.4V353.5M500.3 347.8V352.3M503.1 347.1V352.1M505.6 347.8V352.4M507.4 348.1V352.3M511.1 348.2V352.6M513.4 347.6V353.4M516.0 347.9V353.5" stroke="#0000ff" stroke-width="1.50" stroke-linecap="round" fill="none"/><polyline points="43.1,349.2 46.0,353.7 48.8,348.2 51.6,353.8 54.7,348.7 57.0,353.1 60.0,348.4 62.2,353.6 64.9,348.4 68.2,353.6 70.1,348.1 72.8,353.4 75.8,348.4 77.9,352.9 80.7,347.8 83.9,353.1 86.7,348.1 89.9,354.0 91.4,348.7 94.0,353.0 97.6,348.8 100.6,353.5 102.2,348.4 105.2,353.7 108.4,348.5 111.1,353.5 114.1,348.4 116.5,353.7 119.6,347.8 121.4,353.3 124.7,348.3 127.2,353.2 129.6,348.5 132.8,354.4 135.6,348.8 138.0,353.9 140.9,349.1 143.1,353.7 146.5,348.6 148.5,354.5 151.5,349.1 154.2,353.2 156.8,348.5 160.0,353.3 162.4,347.3 165.0,353.3 167.9,347.7 170.6,353.3 172.7,348.6 175.4,353.0 178.5,348.6 180.6,353.0 184.2,348.0 186.8,353.6 189.4,347.5 191.7,353.3 195.2,348.1 197.6,352.9 200.5,334.1 203.0,318.0 205.5,311.2 207.8,320.2 210.3,312.1 213.9,318.9 216.3,312.6 218.5,320.3 221.2,300.4 224.3,324.7 227.2,311.5 230.0,319.9 232.4,313.8 234.7,319.3 238.0,314.1 240.0,319.1 242.7,314.3 245.7,319.4 248.7,314.5 250.6,319.7 253.5,314.1 257.0,319.8 259.3,313.9 262.0,319.1 264.8,311.7 267.1,315.8 270.8,310.8 273.5,317.4 275.8,312.7 277.7,318.3 281.2,313.3 284.1,317.9 286.2,313.2 288.6,318.2 292.1,316.8 294.7,321.9 297.1,316.4 299.6,321.9 303.2,316.7 304.7,321.4 307.7,316.3 310.7,321.5 313.5,316.8 315.8,321.4 318.9,316.9 321.0,321.1 324.2,316.9 326.3,320.4 329.5,311.0 332.6,314.9 334.6,309.3 337.2,314.3 341.0,308.3 343.0,313.3 345.2,347.7 348.4,352.4 350.9,347.1 354.3,352.8 357.1,347.4 359.7,353.7 362.2,348.5 364.8,353.2 366.8,348.0 370.3,353.9 372.7,348.6 375.2,353.0 378.3,347.2 380.6,353.4 384.3,347.4 386.4,352.7 389.4,347.3 391.2,353.1 393.8,347.3 396.7,352.8 399.4,348.0 402.6,352.9 405.4,348.2 408.5,353.4 410.1,347.3 413.3,352.3 416.2,347.1 418.6,352.6 420.8,347.8 423.6,352.1 426.2,348.2 429.3,352.2 431.8,347.5 435.5,352.6 437.8,347.6 439.8,352.5 443.2,347.1 445.7,353.3 448.9,348.1 450.7,352.9 453.6,347.6 456.5,352.2 459.2,347.5 461.4,352.4 465.1,347.3 466.9,353.0 470.0,347.3 472.8,352.4 475.3,347.7 477.9,353.3 481.1,347.4 483.6,353.1 486.5,348.0 489.3,353.0 492.2,348.4 494.3,352.6 496.9,348.4 500.3,352.3 503.1,347.1 505.6,352.4 507.4,348.1 511.1,352.6 513.4,347.6 516.0,353.5" fill="none" stroke="#0000ff" stroke-width="0.80" stroke-linejoin="round"/><polyline points="42.0,351.3 42.6,351.3 43.2,351.3 43.8,351.2 44.5,351.2 45.1,351.2 45.7,351.2 46.3,351.2 46.9,351.3 47.5,351.2 48.1,351.3 48.8,351.2 49.4,351.3 50.0,351.3 50.6,351.3 51.2,351.3 51.8,351.4 52.4,351.4 53.0,351.4 53.7,351.4 54.3,351.4 54.9,351.2 55.5,351.1 56.1,351.2 56.7,351.2 57.3,351.1 58.0,350.9 58.6,350.9 59.2,350.8 59.8,350.8 60.4,350.9 61.0,350.7 61.6,350.7 62.3,350.7 62.9,350.7 63.5,350.7 64.1,350.7 64.7,350.7 65.3,350.7 65.9,350.7 66.5,350.7 67.2,350.7 67.8,350.7 68.4,350.7 69.0,350.7 69.6,350.7 70.2,350.7 70.8,350.7 71.5,350.7 72.1,350.6 72.7,350.6 73.3,350.7 73.9,350.6 74.5,350.6 75.1,350.5 75.8,350.6 76.4,350.6 77.0,350.7 77.6,350.6 78.2,350.7 78.8,350.7 79.4,350.6 80.1,350.7 80.7,350.7 81.3,350.7 81.9,350.8 82.5,350.8 83.1,350.8 83.7,350.8 84.3,350.8 85.0,350.9 85.6,350.8 86.2,350.9 86.8,350.8 87.4,350.8 88.0,350.8 88.6,350.9 89.3,350.9 89.9,350.9 90.5,350.9 91.1,350.9 91.7,350.9 92.3,350.9 92.9,351.0 93.6,351.0 94.2,351.0 94.8,350.9 95.4,351.0 96.0,350.9 96.6,350.9 97.2,350.9 97.9,350.9 98.5,350.9 99.1,350.9 99.7,350.8 100.3,350.8 100.9,350.7 101.5,350.7 102.1,350.7 102.8,350.8 103.4,350.8 104.0,350.7 104.6,350.8 105.2,350.7 105.8,350.7 106.4,350.7 107.1,350.7 107.7,350.7 108.3,350.6 108.9,350.6 109.5,350.6 110.1,350.6 110.7,350.6 111.4,350.6 112.0,350.6 112.6,350.7 113.2,350.7 113.8,350.8 114.4,350.8 115.0,350.8 115.7,350.8 116.3,350.8 116.9,350.8 117.5,350.8 118.1,350.9 118.7,351.0 119.3,350.9 119.9,351.0 120.6,351.0 121.2,350.9 121.8,350.9 122.4,350.8 123.0,350.9 123.6,350.9 124.2,351.0 124.9,351.0 125.5,351.0 126.1,351.1 126.7,351.1 127.3,351.2 127.9,351.2 128.5,351.2 129.2,351.3 129.8,351.3 130.4,351.4 131.0,351.3 131.6,351.4 132.2,351.4 132.8,351.3 133.4,351.4 134.1,351.4 134.7,351.4 135.3,351.4 135.9,351.3 136.5,351.4 137.1,351.5 137.7,351.5 138.4,351.6 139.0,351.5 139.6,351.5 140.2,351.7 140.8,351.7 141.4,351.7 142.0,351.6 142.7,351.6 143.3,351.6 143.9,351.6 144.5,351.5 145.1,351.5 145.7,351.4 146.3,351.4 147.0,351.4 147.6,351.4 148.2,351.3 148.8,351.2 149.4,351.2 150.0,351.1 150.6,351.0 151.2,351.1 151.9,351.1 152.5,351.0 153.1,350.9 153.7,350.9 154.3,350.8 154.9,350.8 155.5,350.8 156.2,350.7 156.8,350.7 157.4,350.6 158.0,350.6 158.6,350.6 159.2,350.5 159.8,350.6 160.5,350.6 161.1,350.5 161.7,350.5 162.3,350.5 162.9,350.5 163.5,350.5 164.1,350.4 164.8,350.5 165.4,350.5 166.0,350.6 166.6,350.7 167.2,350.7 167.8,350.7 168.4,350.7 169.0,350.8 169.7,350.8 170.3,350.7 170.9,350.7 171.5,350.8 172.1,350.9 172.7,350.9 173.3,350.9 174.0,351.0 174.6,351.0 175.2,351.0 175.8,351.0 176.4,351.0 177.0,351.1 177.6,351.0 178.3,351.0 178.9,351.0 179.5,351.0 180.1,351.0 180.7,351.0 181.3,351.0 181.9,351.0 182.5,351.0 183.2,351.0 183.8,350.9 184.4,350.9 185.0,350.7 185.6,350.6 186.2,350.7 186.8,350.7 187.5,350.7 188.1,350.6 188.7,350.6 189.3,350.6 189.9,350.5 190.5,350.5 191.1,350.5 191.8,350.5 192.4,350.5 193.0,350.5 193.6,350.5 194.2,350.4 194.8,350.4 195.4,350.4 196.1,350.3 196.7,350.4 197.3,350.4 197.9,350.4 198.5,350.4 199.1,350.4 199.7,350.4 200.3,341.6 201.0,319.6 201.6,315.0 202.2,315.0 202.8,315.1 203.4,315.1 204.0,315.1 204.6,315.2 205.3,315.2 205.9,315.3 206.5,315.4 207.1,315.4 207.7,315.5 208.3,315.6 208.9,315.5 209.6,315.6 210.2,315.5 210.8,315.6 211.4,315.6 212.0,315.6 212.6,315.6 213.2,315.6 213.8,315.7 214.5,315.8 215.1,315.8 215.7,315.7 216.3,315.7 216.9,315.6 217.5,315.8 218.1,315.6 218.8,315.6 219.4,315.8 220.0,315.8 220.6,316.0 221.2,316.0 221.8,316.0 222.4,316.1 223.1,316.1 223.7,316.0 224.3,315.9 224.9,315.9 225.5,315.9 226.1,315.9 226.7,315.8 227.4,315.8 228.0,315.7 228.6,315.7 229.2,315.8 229.8,315.8 230.4,315.9 231.0,315.9 231.6,316.2 232.3,316.3 232.9,316.5 233.5,316.7 234.1,316.8 234.7,316.8 235.3,316.7 235.9,316.8 236.6,316.8 237.2,316.8 237.8,316.8 238.4,316.8 239.0,316.8 239.6,316.7 240.2,316.7 240.9,316.8 241.5,316.7 242.1,316.7 242.7,316.8 243.3,316.8 243.9,316.7 244.5,316.7 245.2,316.8 245.8,316.8 246.4,316.8 247.0,316.8 247.6,316.9 248.2,316.8 248.8,316.7 249.4,316.6 250.1,316.7 250.7,316.6 251.3,316.6 251.9,316.7 252.5,316.6 253.1,316.6 253.7,316.5 254.4,316.5 255.0,316.5 255.6,316.5 256.2,316.6 256.8,316.7 257.4,316.6 258.0,316.7 258.7,316.7 259.3,316.6 259.9,316.6 260.5,316.6 261.1,316.6 261.7,316.6 262.3,316.6 262.9,316.7 263.6,316.4 264.2,315.3 264.8,314.2 265.4,313.0 266.0,313.0 266.6,313.0 267.2,313.1 267.9,313.1 268.5,313.2 269.1,313.2 269.7,313.2 270.3,313.2 270.9,313.2 271.5,313.3 272.2,313.8 272.8,314.4 273.4,315.0 274.0,315.1 274.6,315.2 275.2,315.3 275.8,315.3 276.5,315.4 277.1,315.5 277.7,315.6 278.3,315.6 278.9,315.7 279.5,315.7 280.1,315.7 280.7,315.6 281.4,315.6 282.0,315.6 282.6,315.6 283.2,315.6 283.8,315.5 284.4,315.6 285.0,315.7 285.7,315.7 286.3,315.6 286.9,315.6 287.5,315.5 288.1,315.5 288.7,315.4 289.3,315.4 290.0,317.6 290.6,319.8 291.2,319.8 291.8,319.8 292.4,319.7 293.0,319.7 293.6,319.7 294.3,319.7 294.9,319.7 295.5,319.6 296.1,319.5 296.7,319.5 297.3,319.5 297.9,319.5 298.5,319.5 299.2,319.5 299.8,319.5 300.4,319.5 301.0,319.5 301.6,319.4 302.2,319.5 302.8,319.5 303.5,319.5 304.1,319.4 304.7,319.3 305.3,319.4 305.9,319.4 306.5,319.3 307.1,319.3 307.8,319.2 308.4,319.3 309.0,319.2 309.6,319.2 310.2,319.2 310.8,319.1 311.4,319.1 312.1,319.0 312.7,319.0 313.3,319.0 313.9,319.0 314.5,319.1 315.1,319.1 315.7,319.1 316.3,319.1 317.0,319.1 317.6,319.0 318.2,319.0 318.8,319.0 319.4,319.1 320.0,319.0 320.6,319.0 321.3,319.0 321.9,319.0 322.5,319.1 323.1,319.1 323.7,319.0 324.3,319.1 324.9,319.0 325.6,319.0 326.2,317.7 326.8,316.2 327.4,314.7 328.0,313.2 328.6,313.1 329.2,312.9 329.8,312.9 330.5,312.8 331.1,312.8 331.7,312.6 332.3,312.5 332.9,312.4 333.5,312.3 334.1,312.2 334.8,312.0 335.4,311.9 336.0,311.7 336.6,311.6 337.2,311.5 337.8,311.3 338.4,311.2 339.1,311.1 339.7,311.0 340.3,310.9 340.9,310.8 341.5,310.7 342.1,310.6 342.7,310.6 343.4,310.5 344.0,325.5 344.6,344.0 345.2,349.7 345.8,349.8 346.4,349.8 347.0,349.9 347.6,350.0 348.3,350.0 348.9,350.1 349.5,349.9 350.1,349.9 350.7,350.0 351.3,350.0 351.9,350.0 352.6,350.1 353.2,350.1 353.8,350.2 354.4,350.3 355.0,350.4 355.6,350.4 356.2,350.5 356.9,350.5 357.5,350.5 358.1,350.5 358.7,350.6 359.3,350.5 359.9,350.5 360.5,350.6 361.1,350.6 361.8,350.6 362.4,350.6 363.0,350.7 363.6,350.6 364.2,350.6 364.8,350.7 365.4,350.7 366.1,350.6 366.7,350.6 367.3,350.6 367.9,350.6 368.5,350.7 369.1,350.8 369.7,350.8 370.4,350.9 371.0,350.9 371.6,350.7 372.2,350.7 372.8,350.6 373.4,350.6 374.0,350.5 374.7,350.5 375.3,350.4 375.9,350.4 376.5,350.4 377.1,350.4 377.7,350.4 378.3,350.4 378.9,350.4 379.6,350.4 380.2,350.4 380.8,350.4 381.4,350.4 382.0,350.4 382.6,350.3 383.2,350.3 383.9,350.3 384.5,350.4 385.1,350.3 385.7,350.3 386.3,350.4 386.9,350.3 387.5,350.3 388.2,350.3 388.8,350.2 389.4,350.2 390.0,350.2 390.6,350.2 391.2,350.2 391.8,350.2 392.5,350.2 393.1,350.3 393.7,350.4 394.3,350.4 394.9,350.4 395.5,350.4 396.1,350.3 396.7,350.3 397.4,350.2 398.0,350.3 398.6,350.3 399.2,350.3 399.8,350.3 400.4,350.4 401.0,350.5 401.7,350.5 402.3,350.5 402.9,350.5 403.5,350.4 404.1,350.5 404.7,350.5 405.3,350.5 406.0,350.5 406.6,350.5 407.2,350.4 407.8,350.4 408.4,350.3 409.0,350.2 409.6,350.3 410.2,350.3 410.9,350.3 411.5,350.3 412.1,350.2 412.7,350.1 413.3,350.1 413.9,350.1 414.5,350.1 415.2,350.1 415.8,350.1 416.4,350.1 417.0,350.1 417.6,350.0 418.2,349.9 418.8,349.9 419.5,349.8 420.1,349.8 420.7,349.9 421.3,350.0 421.9,350.0 422.5,350.0 423.1,350.1 423.8,350.1 424.4,350.0 425.0,350.0 425.6,350.1 426.2,350.1 426.8,350.1 427.4,350.2 428.0,350.3 428.7,350.3 429.3,350.3 429.9,350.3 430.5,350.2 431.1,350.3 431.7,350.3 432.3,350.3 433.0,350.3 433.6,350.2 434.2,350.2 434.8,350.2 435.4,350.2 436.0,350.3 436.6,350.3 437.3,350.4 437.9,350.4 438.5,350.4 439.1,350.4 439.7,350.3 440.3,350.2 440.9,350.2 441.6,350.2 442.2,350.2 442.8,350.2 443.4,350.2 444.0,350.2 444.6,350.2 445.2,350.2 445.8,350.2 446.5,350.1 447.1,350.0 447.7,350.1 448.3,350.3 448.9,350.3 449.5,350.3 450.1,350.3 450.8,350.3 451.4,350.3 452.0,350.3 452.6,350.4 453.2,350.4 453.8,350.4 454.4,350.4 455.1,350.2 455.7,350.3 456.3,350.3 456.9,350.2 457.5,350.3 458.1,350.2 458.7,350.2 459.4,350.2 460.0,350.1 460.6,350.1 461.2,350.1 461.8,350.1 462.4,350.1 463.0,350.0 463.6,350.0 464.3,349.9 464.9,349.9 465.5,350.0 466.1,350.0 466.7,349.9 467.3,349.9 467.9,349.8 468.6,349.8 469.2,349.9 469.8,350.1 470.4,350.1 471.0,350.1 471.6,350.1 472.2,350.1 472.9,350.1 473.5,350.1 474.1,350.2 474.7,350.2 475.3,350.3 475.9,350.3 476.5,350.3 477.1,350.3 477.8,350.3 478.4,350.4 479.0,350.4 479.6,350.5 480.2,350.5 480.8,350.5 481.4,350.5 482.1,350.5 482.7,350.6 483.3,350.7 483.9,350.7 484.5,350.7 485.1,350.6 485.7,350.7 486.4,350.6 487.0,350.7 487.6,350.7 488.2,350.7 488.8,350.6 489.4,350.6 490.0,350.6 490.7,350.6 491.3,350.6 491.9,350.5 492.5,350.6 493.1,350.5 493.7,350.5 494.3,350.4 494.9,350.4 495.6,350.4 496.2,350.4 496.8,350.4 497.4,350.2 498.0,350.3 498.6,350.2 499.2,350.2 499.9,350.2 500.5,350.2 501.1,350.1 501.7,350.1 502.3,350.1 502.9,350.1 503.5,350.1 504.2,350.2 504.8,350.0 505.4,350.1 506.0,350.2 506.6,350.2 507.2,350.2 507.8,350.2 508.4,350.1 509.1,350.2 509.7,350.2 510.3,350.2 510.9,350.2 511.5,350.2 512.1,350.2 512.7,350.1 513.4,350.3 514.0,350.3 514.6,350.3 515.2,350.4 515.8,350.3 516.4,350.5 517.0,350.4" fill="none" stroke="#0000ff" stroke-width="1.0" stroke-linejoin="round"/><polygon points="42.0,353.2 42.6,353.3 43.2,353.2 43.8,353.2 44.5,353.2 45.1,353.2 45.7,353.2 46.3,353.2 46.9,353.3 47.5,353.2 48.1,353.2 48.8,353.2 49.4,353.2 50.0,353.2 50.6,353.4 51.2,353.4 51.8,353.4 52.4,353.4 53.0,353.5 53.7,353.4 54.3,353.5 54.9,353.5 55.5,353.5 56.1,353.5 56.7,353.5 57.3,353.4 58.0,353.4 58.6,353.4 59.2,353.4 59.8,353.3 60.4,353.4 61.0,353.4 61.6,353.4 62.3,353.4 62.9,353.4 63.5,353.4 64.1,353.4 64.7,353.4 65.3,353.4 65.9,353.4 66.5,353.4 67.2,353.4 67.8,353.5 68.4,353.4 69.0,353.4 69.6,353.4 70.2,353.3 70.8,353.4 71.5,353.4 72.1,353.3 72.7,353.3 73.3,353.2 73.9,353.2 74.5,353.2 75.1,353.4 75.8,353.3 76.4,353.3 77.0,353.3 77.6,353.3 78.2,353.2 78.8,353.2 79.4,353.3 80.1,353.2 80.7,353.2 81.3,353.3 81.9,353.3 82.5,353.3 83.1,353.5 83.7,353.5 84.3,353.5 85.0,353.6 85.6,353.5 86.2,353.5 86.8,353.5 87.4,353.4 88.0,353.5 88.6,353.4 89.3,353.4 89.9,353.4 90.5,353.5 91.1,353.5 91.7,353.6 92.3,353.5 92.9,353.5 93.6,353.6 94.2,353.5 94.8,353.5 95.4,353.6 96.0,353.5 96.6,353.5 97.2,353.6 97.9,353.6 98.5,353.5 99.1,353.5 99.7,353.4 100.3,353.5 100.9,353.5 101.5,353.5 102.1,353.5 102.8,353.4 103.4,353.3 104.0,353.4 104.6,353.4 105.2,353.3 105.8,353.3 106.4,353.4 107.1,353.5 107.7,353.6 108.3,353.5 108.9,353.5 109.5,353.5 110.1,353.5 110.7,353.4 111.4,353.5 112.0,353.6 112.6,353.6 113.2,353.4 113.8,353.5 114.4,353.5 115.0,353.5 115.7,353.4 116.3,353.5 116.9,353.4 117.5,353.3 118.1,353.4 118.7,353.3 119.3,353.3 119.9,353.3 120.6,353.3 121.2,353.3 121.8,353.3 122.4,353.4 123.0,353.3 123.6,353.3 124.2,353.4 124.9,353.4 125.5,353.4 126.1,353.3 126.7,353.2 127.3,353.3 127.9,353.3 128.5,353.3 129.2,353.4 129.8,353.4 130.4,353.4 131.0,353.3 131.6,353.3 132.2,353.4 132.8,353.4 133.4,353.3 134.1,353.4 134.7,353.4 135.3,353.3 135.9,353.4 136.5,353.4 137.1,353.2 137.7,353.4 138.4,353.2 139.0,353.3 139.6,353.3 140.2,353.2 140.8,353.2 141.4,353.3 142.0,353.3 142.7,353.3 143.3,353.3 143.9,353.3 144.5,353.2 145.1,353.3 145.7,353.3 146.3,353.3 147.0,353.3 147.6,353.3 148.2,353.1 148.8,353.1 149.4,353.0 150.0,353.0 150.6,352.9 151.2,352.9 151.9,352.9 152.5,353.0 153.1,353.0 153.7,353.0 154.3,353.0 154.9,353.0 155.5,353.1 156.2,353.2 156.8,353.1 157.4,353.1 158.0,353.2 158.6,353.1 159.2,353.0 159.8,353.1 160.5,353.0 161.1,353.0 161.7,353.0 162.3,353.0 162.9,353.0 163.5,353.0 164.1,352.9 164.8,352.9 165.4,352.8 166.0,352.8 166.6,352.8 167.2,352.8 167.8,352.9 168.4,352.9 169.0,353.0 169.7,353.0 170.3,352.9 170.9,352.9 171.5,352.8 172.1,352.8 172.7,352.9 173.3,352.9 174.0,352.9 174.6,352.8 175.2,352.9 175.8,353.0 176.4,353.1 177.0,353.1 177.6,353.1 178.3,353.1 178.9,353.0 179.5,353.1 180.1,353.1 180.7,353.1 181.3,353.2 181.9,353.2 182.5,353.3 183.2,353.3 183.8,353.2 184.4,353.4 185.0,353.3 185.6,353.4 186.2,353.5 186.8,353.4 187.5,353.5 188.1,353.4 188.7,353.5 189.3,353.5 189.9,353.5 190.5,353.4 191.1,353.5 191.8,353.6 192.4,353.7 193.0,353.7 193.6,353.7 194.2,353.6 194.8,353.6 195.4,353.4 196.1,353.3 196.7,353.5 197.3,353.4 197.9,353.5 198.5,353.4 199.1,353.5 199.7,353.5 200.3,345.2 201.0,321.0 201.6,315.5 202.2,315.3 202.8,315.4 203.4,315.3 204.0,315.6 204.6,315.2 205.3,315.3 205.9,315.3 206.5,315.4 207.1,315.7 207.7,316.0 208.3,316.1 208.9,316.4 209.6,316.7 210.2,316.5 210.8,316.5 211.4,316.8 212.0,317.0 212.6,317.2 213.2,317.6 213.8,317.8 214.5,318.5 215.1,318.8 215.7,318.8 216.3,319.1 216.9,319.2 217.5,319.5 218.1,319.5 218.8,319.6 219.4,319.5 220.0,319.2 220.6,319.1 221.2,319.2 221.8,319.2 222.4,319.4 223.1,319.3 223.7,319.5 224.3,319.3 224.9,319.2 225.5,318.8 226.1,318.7 226.7,318.3 227.4,318.5 228.0,318.5 228.6,318.6 229.2,318.0 229.8,317.1 230.4,316.4 231.0,315.7 231.6,318.0 232.3,320.3 232.9,319.8 233.5,319.3 234.1,319.3 234.7,319.3 235.3,319.3 235.9,319.3 236.6,319.4 237.2,319.4 237.8,319.4 238.4,319.5 239.0,319.5 239.6,319.5 240.2,319.5 240.9,319.6 241.5,319.6 242.1,319.7 242.7,319.8 243.3,319.9 243.9,319.9 244.5,320.1 245.2,320.1 245.8,320.0 246.4,320.0 247.0,320.0 247.6,319.9 248.2,320.0 248.8,320.0 249.4,320.0 250.1,320.0 250.7,320.0 251.3,320.1 251.9,320.2 252.5,320.2 253.1,320.3 253.7,320.3 254.4,320.3 255.0,320.3 255.6,320.2 256.2,320.3 256.8,320.4 257.4,320.4 258.0,320.4 258.7,320.4 259.3,320.5 259.9,320.5 260.5,320.5 261.1,320.5 261.7,320.5 262.3,320.5 262.9,320.6 263.6,320.4 264.2,319.3 264.8,318.1 265.4,317.0 266.0,317.0 266.6,317.0 267.2,317.0 267.9,317.0 268.5,317.0 269.1,316.9 269.7,316.9 270.3,316.9 270.9,316.9 271.5,316.8 272.2,317.3 272.8,317.8 273.4,318.2 274.0,318.3 274.6,318.5 275.2,318.7 275.8,318.7 276.5,318.8 277.1,319.0 277.7,319.1 278.3,319.1 278.9,319.0 279.5,319.0 280.1,319.0 280.7,318.8 281.4,318.7 282.0,318.8 282.6,318.7 283.2,318.6 283.8,318.6 284.4,318.6 285.0,318.6 285.7,318.6 286.3,318.6 286.9,318.6 287.5,318.7 288.1,318.7 288.7,318.7 289.3,318.7 290.0,320.7 290.6,322.8 291.2,322.8 291.8,322.7 292.4,322.8 293.0,322.9 293.6,322.9 294.3,322.9 294.9,323.0 295.5,323.0 296.1,322.9 296.7,322.9 297.3,322.7 297.9,322.7 298.5,322.7 299.2,322.7 299.8,322.8 300.4,322.7 301.0,322.6 301.6,322.5 302.2,322.4 302.8,322.4 303.5,322.4 304.1,322.4 304.7,322.3 305.3,322.3 305.9,322.4 306.5,322.3 307.1,322.3 307.8,322.3 308.4,322.4 309.0,322.5 309.6,322.4 310.2,322.5 310.8,322.5 311.4,322.5 312.1,322.4 312.7,322.4 313.3,322.4 313.9,322.4 314.5,322.3 315.1,322.3 315.7,322.2 316.3,322.3 317.0,322.4 317.6,322.4 318.2,322.4 318.8,322.4 319.4,322.3 320.0,322.4 320.6,322.4 321.3,322.3 321.9,322.5 322.5,322.4 323.1,322.3 323.7,322.2 324.3,322.1 324.9,322.0 325.6,322.0 326.2,320.4 326.8,318.9 327.4,317.3 328.0,315.7 328.6,315.6 329.2,315.5 329.8,315.5 330.5,315.4 331.1,315.3 331.7,315.2 332.3,315.1 332.9,315.0 333.5,315.0 334.1,314.9 334.8,314.9 335.4,314.7 336.0,314.6 336.6,314.5 337.2,314.3 337.8,314.2 338.4,314.2 339.1,314.1 339.7,314.0 340.3,313.9 340.9,313.7 341.5,313.6 342.1,313.5 342.7,313.4 343.4,313.4 344.0,319.9 344.6,336.2 345.2,352.5 345.8,352.8 346.4,353.2 347.0,353.3 347.6,353.3 348.3,353.3 348.9,353.3 349.5,353.3 350.1,353.3 350.7,353.2 351.3,353.2 351.9,353.1 352.6,353.0 353.2,353.1 353.8,353.0 354.4,353.2 355.0,353.2 355.6,353.2 356.2,353.0 356.9,353.1 357.5,353.2 358.1,353.1 358.7,353.1 359.3,353.1 359.9,353.0 360.5,353.1 361.1,353.1 361.8,353.0 362.4,353.0 363.0,352.9 363.6,352.8 364.2,352.8 364.8,352.8 365.4,352.9 366.1,352.9 366.7,352.9 367.3,352.9 367.9,352.9 368.5,352.8 369.1,352.9 369.7,352.9 370.4,352.8 371.0,352.8 371.6,352.9 372.2,353.0 372.8,353.0 373.4,352.9 374.0,352.9 374.7,352.9 375.3,353.1 375.9,353.0 376.5,352.9 377.1,353.0 377.7,353.0 378.3,353.0 378.9,353.0 379.6,352.9 380.2,352.9 380.8,352.9 381.4,352.9 382.0,352.9 382.6,352.9 383.2,352.9 383.9,352.9 384.5,352.9 385.1,352.9 385.7,352.8 386.3,352.8 386.9,352.8 387.5,352.8 388.2,352.7 388.8,352.6 389.4,352.8 390.0,352.9 390.6,352.8 391.2,352.7 391.8,352.7 392.5,352.7 393.1,352.7 393.7,352.8 394.3,352.7 394.9,352.7 395.5,352.8 396.1,352.7 396.7,352.7 397.4,352.7 398.0,352.8 398.6,352.9 399.2,352.9 399.8,352.9 400.4,352.9 401.0,353.0 401.7,353.0 402.3,352.9 402.9,352.9 403.5,352.9 404.1,352.8 404.7,352.8 405.3,352.8 406.0,352.8 406.6,352.9 407.2,352.9 407.8,352.9 408.4,352.9 409.0,352.8 409.6,352.8 410.2,352.9 410.9,352.9 411.5,352.8 412.1,352.8 412.7,352.7 413.3,352.8 413.9,352.8 414.5,352.8 415.2,352.8 415.8,352.8 416.4,352.8 417.0,352.8 417.6,352.6 418.2,352.6 418.8,352.6 419.5,352.6 420.1,352.7 420.7,352.6 421.3,352.6 421.9,352.5 422.5,352.5 423.1,352.5 423.8,352.6 424.4,352.6 425.0,352.5 425.6,352.5 426.2,352.5 426.8,352.5 427.4,352.5 428.0,352.5 428.7,352.5 429.3,352.5 429.9,352.5 430.5,352.6 431.1,352.6 431.7,352.7 432.3,352.6 433.0,352.7 433.6,352.6 434.2,352.7 434.8,352.7 435.4,352.8 436.0,352.8 436.6,352.9 437.3,353.0 437.9,352.9 438.5,353.0 439.1,352.9 439.7,353.0 440.3,353.1 440.9,353.2 441.6,353.2 442.2,353.3 442.8,353.3 443.4,353.3 444.0,353.3 444.6,353.3 445.2,353.3 445.8,353.3 446.5,353.3 447.1,353.3 447.7,353.3 448.3,353.3 448.9,353.3 449.5,353.2 450.1,353.3 450.8,353.3 451.4,353.3 452.0,353.3 452.6,353.3 453.2,353.2 453.8,353.2 454.4,353.2 455.1,353.2 455.7,353.2 456.3,353.1 456.9,353.0 457.5,353.1 458.1,353.1 458.7,353.1 459.4,353.0 460.0,353.0 460.6,353.0 461.2,352.9 461.8,352.8 462.4,352.9 463.0,352.8 463.6,352.8 464.3,352.8 464.9,352.7 465.5,352.7 466.1,352.7 466.7,352.7 467.3,352.8 467.9,352.8 468.6,352.8 469.2,352.8 469.8,352.9 470.4,352.9 471.0,352.9 471.6,352.8 472.2,352.9 472.9,352.9 473.5,352.9 474.1,352.9 474.7,353.0 475.3,352.9 475.9,352.9 476.5,352.9 477.1,352.9 477.8,352.9 478.4,353.0 479.0,352.9 479.6,352.9 480.2,352.9 480.8,352.9 481.4,352.9 482.1,352.9 482.7,352.9 483.3,353.0 483.9,353.0 484.5,353.0 485.1,353.0 485.7,353.1 486.4,353.1 487.0,353.1 487.6,353.1 488.2,353.0 488.8,352.9 489.4,352.8 490.0,352.9 490.7,353.1 491.3,353.0 491.9,353.0 492.5,353.0 493.1,353.0 493.7,352.9 494.3,353.0 494.9,353.0 495.6,353.1 496.2,353.0 496.8,352.9 497.4,352.8 498.0,352.8 498.6,352.9 499.2,352.9 499.9,352.9 500.5,352.8 501.1,352.7 501.7,352.8 502.3,352.7 502.9,352.8 503.5,352.8 504.2,352.8 504.8,352.7 505.4,352.7 506.0,352.6 506.6,352.6 507.2,352.6 507.8,352.8 508.4,352.7 509.1,352.6 509.7,352.6 510.3,352.6 510.9,352.7 511.5,352.7 512.1,352.6 512.7,352.6 513.4,352.6 514.0,352.6 514.6,352.6 515.2,352.7 515.8,352.7 516.4,352.7 517.0,352.7 517.0,357.8 516.4,357.7 515.8,357.8 515.2,357.7 514.6,357.6 514.0,357.7 513.4,357.7 512.7,357.7 512.1,357.7 511.5,357.8 510.9,357.7 510.3,357.7 509.7,357.7 509.1,357.7 508.4,357.8 507.8,357.9 507.2,357.7 506.6,357.6 506.0,357.7 505.4,357.7 504.8,357.8 504.2,357.9 503.5,357.9 502.9,357.9 502.3,357.8 501.7,357.9 501.1,357.8 500.5,357.8 499.9,358.0 499.2,358.0 498.6,358.0 498.0,357.9 497.4,357.9 496.8,358.0 496.2,358.1 495.6,358.1 494.9,358.1 494.3,358.1 493.7,358.0 493.1,358.0 492.5,358.1 491.9,358.1 491.3,358.1 490.7,358.1 490.0,358.0 489.4,357.9 488.8,358.0 488.2,358.1 487.6,358.2 487.0,358.2 486.4,358.2 485.7,358.2 485.1,358.1 484.5,358.0 483.9,358.0 483.3,358.0 482.7,358.0 482.1,358.0 481.4,358.0 480.8,358.0 480.2,358.0 479.6,358.0 479.0,358.0 478.4,358.1 477.8,358.0 477.1,358.0 476.5,358.0 475.9,358.0 475.3,358.0 474.7,358.0 474.1,358.0 473.5,358.0 472.9,357.9 472.2,358.0 471.6,357.9 471.0,357.9 470.4,358.0 469.8,357.9 469.2,357.9 468.6,357.8 467.9,357.9 467.3,357.9 466.7,357.8 466.1,357.8 465.5,357.8 464.9,357.8 464.3,357.9 463.6,357.9 463.0,357.9 462.4,357.9 461.8,357.9 461.2,358.0 460.6,358.1 460.0,358.1 459.4,358.1 458.7,358.2 458.1,358.2 457.5,358.1 456.9,358.1 456.3,358.2 455.7,358.2 455.1,358.2 454.4,358.3 453.8,358.3 453.2,358.3 452.6,358.4 452.0,358.3 451.4,358.4 450.8,358.4 450.1,358.4 449.5,358.3 448.9,358.3 448.3,358.4 447.7,358.4 447.1,358.4 446.5,358.4 445.8,358.4 445.2,358.4 444.6,358.4 444.0,358.4 443.4,358.4 442.8,358.4 442.2,358.4 441.6,358.3 440.9,358.2 440.3,358.2 439.7,358.1 439.1,358.0 438.5,358.0 437.9,358.0 437.3,358.1 436.6,358.0 436.0,357.9 435.4,357.8 434.8,357.8 434.2,357.8 433.6,357.7 433.0,357.8 432.3,357.7 431.7,357.8 431.1,357.7 430.5,357.7 429.9,357.6 429.3,357.5 428.7,357.6 428.0,357.6 427.4,357.6 426.8,357.6 426.2,357.5 425.6,357.5 425.0,357.6 424.4,357.7 423.8,357.6 423.1,357.6 422.5,357.6 421.9,357.6 421.3,357.7 420.7,357.7 420.1,357.8 419.5,357.7 418.8,357.7 418.2,357.7 417.6,357.7 417.0,357.8 416.4,357.8 415.8,357.9 415.2,357.9 414.5,357.8 413.9,357.8 413.3,357.9 412.7,357.8 412.1,357.9 411.5,357.9 410.9,357.9 410.2,358.0 409.6,357.9 409.0,357.9 408.4,357.9 407.8,358.0 407.2,358.0 406.6,357.9 406.0,357.8 405.3,357.9 404.7,357.9 404.1,357.9 403.5,357.9 402.9,358.0 402.3,358.0 401.7,358.0 401.0,358.0 400.4,358.0 399.8,358.0 399.2,358.0 398.6,358.0 398.0,357.9 397.4,357.8 396.7,357.7 396.1,357.8 395.5,357.9 394.9,357.8 394.3,357.8 393.7,357.9 393.1,357.8 392.5,357.8 391.8,357.8 391.2,357.8 390.6,357.9 390.0,357.9 389.4,357.8 388.8,357.7 388.2,357.8 387.5,357.9 386.9,357.8 386.3,357.8 385.7,357.9 385.1,358.0 384.5,357.9 383.9,358.0 383.2,358.0 382.6,357.9 382.0,358.0 381.4,358.0 380.8,358.0 380.2,358.0 379.6,358.0 378.9,358.1 378.3,358.1 377.7,358.1 377.1,358.0 376.5,358.0 375.9,358.1 375.3,358.1 374.7,358.0 374.0,357.9 373.4,358.0 372.8,358.0 372.2,358.1 371.6,358.0 371.0,357.9 370.4,357.9 369.7,358.0 369.1,358.0 368.5,357.9 367.9,358.0 367.3,358.0 366.7,358.0 366.1,357.9 365.4,358.0 364.8,357.9 364.2,357.9 363.6,357.9 363.0,358.0 362.4,358.0 361.8,358.1 361.1,358.2 360.5,358.2 359.9,358.1 359.3,358.2 358.7,358.1 358.1,358.2 357.5,358.3 356.9,358.1 356.2,358.1 355.6,358.2 355.0,358.3 354.4,358.2 353.8,358.1 353.2,358.1 352.6,358.1 351.9,358.2 351.3,358.3 350.7,358.2 350.1,358.3 349.5,358.4 348.9,358.4 348.3,358.3 347.6,358.4 347.0,358.3 346.4,358.3 345.8,357.9 345.2,357.6 344.6,341.3 344.0,325.0 343.4,318.5 342.7,318.5 342.1,318.6 341.5,318.7 340.9,318.8 340.3,319.0 339.7,319.1 339.1,319.1 338.4,319.2 337.8,319.3 337.2,319.4 336.6,319.5 336.0,319.7 335.4,319.8 334.8,320.0 334.1,320.0 333.5,320.1 332.9,320.1 332.3,320.2 331.7,320.3 331.1,320.4 330.5,320.5 329.8,320.6 329.2,320.6 328.6,320.7 328.0,320.7 327.4,322.3 326.8,324.0 326.2,325.5 325.6,327.0 324.9,327.1 324.3,327.2 323.7,327.3 323.1,327.3 322.5,327.4 321.9,327.5 321.3,327.4 320.6,327.5 320.0,327.4 319.4,327.4 318.8,327.5 318.2,327.5 317.6,327.5 317.0,327.5 316.3,327.4 315.7,327.3 315.1,327.3 314.5,327.4 313.9,327.5 313.3,327.5 312.7,327.5 312.1,327.5 311.4,327.6 310.8,327.5 310.2,327.6 309.6,327.5 309.0,327.6 308.4,327.5 307.8,327.4 307.1,327.3 306.5,327.4 305.9,327.4 305.3,327.4 304.7,327.4 304.1,327.4 303.5,327.4 302.8,327.5 302.2,327.5 301.6,327.6 301.0,327.7 300.4,327.8 299.8,327.9 299.2,327.8 298.5,327.7 297.9,327.8 297.3,327.8 296.7,327.9 296.1,328.0 295.5,328.1 294.9,328.0 294.3,328.0 293.6,328.0 293.0,328.0 292.4,327.9 291.8,327.8 291.2,327.8 290.6,327.9 290.0,325.8 289.3,323.8 288.7,323.8 288.1,323.8 287.5,323.7 286.9,323.7 286.3,323.7 285.7,323.6 285.0,323.6 284.4,323.6 283.8,323.7 283.2,323.7 282.6,323.7 282.0,323.8 281.4,323.8 280.7,323.8 280.1,324.0 279.5,324.1 278.9,324.1 278.3,324.2 277.7,324.2 277.1,324.0 276.5,323.8 275.8,323.7 275.2,323.7 274.6,323.6 274.0,323.4 273.4,323.3 272.8,322.9 272.2,322.4 271.5,321.9 270.9,321.9 270.3,322.0 269.7,322.0 269.1,322.0 268.5,322.0 267.9,322.1 267.2,322.1 266.6,322.1 266.0,322.1 265.4,322.1 264.8,323.2 264.2,324.3 263.6,325.5 262.9,325.6 262.3,325.6 261.7,325.6 261.1,325.5 260.5,325.6 259.9,325.6 259.3,325.6 258.7,325.5 258.0,325.5 257.4,325.5 256.8,325.4 256.2,325.3 255.6,325.3 255.0,325.4 254.4,325.4 253.7,325.3 253.1,325.3 252.5,325.3 251.9,325.3 251.3,325.2 250.7,325.1 250.1,325.1 249.4,325.0 248.8,325.1 248.2,325.1 247.6,325.0 247.0,325.1 246.4,325.1 245.8,325.1 245.2,325.2 244.5,325.1 243.9,325.0 243.3,324.9 242.7,324.8 242.1,324.7 241.5,324.7 240.9,324.7 240.2,324.6 239.6,324.6 239.0,324.6 238.4,324.5 237.8,324.5 237.2,324.4 236.6,324.5 235.9,324.4 235.3,324.3 234.7,324.3 234.1,324.4 233.5,324.4 232.9,324.9 232.3,325.3 231.6,328.2 231.0,331.0 230.4,331.6 229.8,332.3 229.2,333.2 228.6,333.8 228.0,333.7 227.4,333.7 226.7,333.5 226.1,333.9 225.5,334.0 224.9,334.4 224.3,334.5 223.7,334.7 223.1,334.5 222.4,334.6 221.8,334.4 221.2,334.4 220.6,334.3 220.0,334.4 219.4,334.7 218.8,334.8 218.1,334.7 217.5,334.7 216.9,334.4 216.3,334.3 215.7,334.0 215.1,334.0 214.5,333.7 213.8,333.0 213.2,332.8 212.6,332.4 212.0,332.2 211.4,332.0 210.8,331.7 210.2,331.7 209.6,331.9 208.9,331.6 208.3,331.3 207.7,331.3 207.1,330.9 206.5,330.7 205.9,330.5 205.3,330.5 204.6,330.4 204.0,330.8 203.4,330.5 202.8,330.6 202.2,330.5 201.6,330.7 201.0,333.7 200.3,350.3 199.7,358.5 199.1,358.6 198.5,358.5 197.9,358.6 197.3,358.5 196.7,358.5 196.1,358.4 195.4,358.4 194.8,358.6 194.2,358.6 193.6,358.7 193.0,358.7 192.4,358.7 191.8,358.7 191.1,358.6 190.5,358.5 189.9,358.6 189.3,358.6 188.7,358.5 188.1,358.5 187.5,358.5 186.8,358.5 186.2,358.5 185.6,358.4 185.0,358.4 184.4,358.4 183.8,358.3 183.2,358.4 182.5,358.3 181.9,358.3 181.3,358.3 180.7,358.2 180.1,358.1 179.5,358.2 178.9,358.1 178.3,358.2 177.6,358.2 177.0,358.2 176.4,358.2 175.8,358.1 175.2,358.0 174.6,357.9 174.0,357.9 173.3,358.0 172.7,358.0 172.1,357.9 171.5,357.9 170.9,357.9 170.3,358.0 169.7,358.0 169.0,358.1 168.4,357.9 167.8,357.9 167.2,357.9 166.6,357.9 166.0,357.9 165.4,357.8 164.8,358.0 164.1,358.0 163.5,358.1 162.9,358.1 162.3,358.1 161.7,358.1 161.1,358.1 160.5,358.0 159.8,358.1 159.2,358.1 158.6,358.1 158.0,358.3 157.4,358.2 156.8,358.1 156.2,358.2 155.5,358.1 154.9,358.1 154.3,358.1 153.7,358.0 153.1,358.1 152.5,358.1 151.9,358.0 151.2,358.0 150.6,358.0 150.0,358.0 149.4,358.1 148.8,358.1 148.2,358.2 147.6,358.3 147.0,358.3 146.3,358.4 145.7,358.4 145.1,358.4 144.5,358.3 143.9,358.3 143.3,358.4 142.7,358.3 142.0,358.4 141.4,358.4 140.8,358.3 140.2,358.3 139.6,358.3 139.0,358.3 138.4,358.3 137.7,358.4 137.1,358.3 136.5,358.5 135.9,358.5 135.3,358.4 134.7,358.5 134.1,358.4 133.4,358.4 132.8,358.5 132.2,358.5 131.6,358.4 131.0,358.4 130.4,358.5 129.8,358.4 129.2,358.4 128.5,358.3 127.9,358.4 127.3,358.3 126.7,358.3 126.1,358.4 125.5,358.5 124.9,358.5 124.2,358.4 123.6,358.4 123.0,358.4 122.4,358.4 121.8,358.4 121.2,358.4 120.6,358.4 119.9,358.3 119.3,358.4 118.7,358.4 118.1,358.5 117.5,358.4 116.9,358.5 116.3,358.5 115.7,358.5 115.0,358.6 114.4,358.6 113.8,358.6 113.2,358.5 112.6,358.6 112.0,358.6 111.4,358.6 110.7,358.5 110.1,358.6 109.5,358.6 108.9,358.6 108.3,358.6 107.7,358.7 107.1,358.5 106.4,358.5 105.8,358.3 105.2,358.3 104.6,358.4 104.0,358.4 103.4,358.4 102.8,358.5 102.1,358.5 101.5,358.6 100.9,358.6 100.3,358.6 99.7,358.5 99.1,358.5 98.5,358.6 97.9,358.6 97.2,358.6 96.6,358.6 96.0,358.5 95.4,358.6 94.8,358.6 94.2,358.5 93.6,358.6 92.9,358.6 92.3,358.6 91.7,358.7 91.1,358.6 90.5,358.6 89.9,358.5 89.3,358.5 88.6,358.4 88.0,358.6 87.4,358.5 86.8,358.6 86.2,358.6 85.6,358.6 85.0,358.6 84.3,358.6 83.7,358.6 83.1,358.5 82.5,358.4 81.9,358.4 81.3,358.4 80.7,358.3 80.1,358.3 79.4,358.3 78.8,358.3 78.2,358.3 77.6,358.3 77.0,358.4 76.4,358.4 75.8,358.4 75.1,358.5 74.5,358.3 73.9,358.3 73.3,358.3 72.7,358.3 72.1,358.4 71.5,358.5 70.8,358.4 70.2,358.4 69.6,358.4 69.0,358.4 68.4,358.5 67.8,358.5 67.2,358.5 66.5,358.5 65.9,358.4 65.3,358.5 64.7,358.5 64.1,358.5 63.5,358.5 62.9,358.5 62.3,358.5 61.6,358.5 61.0,358.5 60.4,358.4 59.8,358.4 59.2,358.5 58.6,358.5 58.0,358.5 57.3,358.5 56.7,358.5 56.1,358.5 55.5,358.6 54.9,358.6 54.3,358.6 53.7,358.5 53.0,358.5 52.4,358.5 51.8,358.5 51.2,358.5 50.6,358.4 50.0,358.3 49.4,358.3 48.8,358.3 48.1,358.2 47.5,358.3 46.9,358.3 46.3,358.3 45.7,358.3 45.1,358.3 44.5,358.3 43.8,358.3 43.2,358.3 42.6,358.4 42.0,358.3" fill="#239e23"/><path d="M42.9 352.8V359.3M45.7 353.4V359.2M48.6 353.0V359.0M50.9 353.0V358.9M53.9 352.8V359.3M57.5 353.0V358.9M59.9 353.2V359.3M62.5 352.4V359.7M64.5 353.1V359.5M67.7 353.1V358.9M70.3 353.2V359.6M73.6 353.3V358.6M76.0 352.3V359.2M78.2 352.7V359.2M80.8 352.6V358.8M83.3 352.3V359.7M86.6 352.4V359.9M89.4 352.7V358.5M91.8 352.3V358.5M95.3 352.9V358.9M97.7 352.4V358.5M100.1 352.9V359.9M102.6 353.2V358.7M105.7 352.7V358.4M108.4 353.5V359.3M111.2 353.1V359.9M113.3 353.3V359.7M116.1 353.0V359.7M118.6 353.4V358.5M121.2 352.8V358.6M124.1 352.7V358.4M126.7 351.9V359.2M129.5 352.0V358.8M132.4 352.6V359.3M135.0 352.8V358.3M138.2 352.3V359.3M140.2 352.0V358.3M143.6 352.4V359.7M146.5 353.2V358.6M148.7 352.3V358.7M151.8 352.4V359.1M153.5 351.7V358.8M156.4 352.3V358.1M158.9 351.7V359.4M162.2 353.1V359.0M164.7 352.0V359.0M167.5 352.7V358.5M169.9 352.4V358.1M172.3 351.7V358.8M176.0 351.7V358.4M179.0 352.9V359.2M180.7 352.0V358.5M184.1 353.3V359.2M186.3 353.2V359.2M189.5 353.4V358.6M192.0 352.3V359.6M194.9 353.6V359.9M197.9 352.4V358.5M199.7 352.8V359.3M203.2 312.6V333.0M205.0 315.4V333.8M208.5 314.6V332.3M210.3 314.5V335.0M213.1 316.7V335.6M216.1 316.5V334.5M218.5 319.7V338.5M222.0 319.5V336.0M223.7 317.0V336.0M226.8 317.7V334.1M229.8 313.7V333.3M232.8 319.2V325.9M235.7 318.1V324.4M237.8 318.3V325.3M240.1 318.6V325.7M242.8 318.4V325.5M246.0 319.8V326.3M248.1 319.3V326.0M251.8 320.2V325.9M254.5 319.4V326.7M257.0 319.3V326.1M260.0 319.3V325.6M262.0 319.9V325.7M265.4 315.7V323.2M267.1 316.6V323.2M269.9 316.6V322.4M272.9 280.1V335.2M276.1 317.5V323.9M277.6 319.2V325.3M281.5 318.1V325.2M283.5 318.1V325.0M286.9 318.8V324.2M289.6 319.5V338.5M292.3 321.7V328.0M294.6 321.7V327.9M296.7 322.2V328.6M299.6 322.6V328.2M302.4 321.1V328.1M305.5 321.9V327.3M307.8 322.3V327.4M310.7 321.4V328.1M313.2 321.5V328.1M316.3 321.4V328.3M318.3 322.0V328.4M321.4 322.1V327.8M324.7 321.9V327.6M326.6 318.6V324.6M329.6 315.2V320.6M332.7 314.1V320.5M335.3 313.5V320.5M337.7 313.1V320.7M339.8 314.1V320.0M343.6 315.3V324.7M346.4 353.3V359.4M348.9 353.0V359.6M351.6 352.9V359.5M354.4 352.5V358.3M357.1 353.3V358.5M359.3 353.0V358.4M361.9 351.8V359.1M364.6 353.0V358.4M366.9 352.5V359.2M369.7 352.4V358.7M373.1 353.0V357.9M375.8 352.8V358.3M378.5 352.2V358.5M381.0 352.6V358.0M383.1 352.2V358.6M386.1 351.5V357.7M389.6 352.9V358.1M392.3 351.9V357.6M394.1 352.9V357.8M396.9 352.3V358.7M399.4 352.0V358.6M402.3 351.6V359.3M405.1 352.3V357.9M407.6 352.1V358.1M411.2 352.3V357.8M412.7 352.7V357.9M415.9 352.8V358.1M418.1 351.9V358.1M421.2 351.4V357.9M424.5 352.4V357.7M426.3 351.5V357.9M429.6 351.7V357.5M432.3 352.3V358.8M435.0 351.9V358.5M437.6 353.1V358.6M440.5 352.9V358.7M442.7 352.9V359.1M445.4 352.5V359.8M448.8 353.4V358.7M450.7 353.4V359.1M454.3 352.0V358.4M457.1 352.4V358.5M459.3 351.8V358.0M461.6 351.5V359.1M464.5 352.7V358.7M467.3 352.4V358.9M470.3 351.6V359.0M473.3 353.1V358.0M475.3 351.6V358.8M477.7 351.5V358.0M480.6 351.9V358.8M484.1 352.6V358.1M485.8 352.2V358.2M488.6 353.1V358.0M491.0 352.7V358.7M494.5 353.1V358.1M497.0 352.4V358.3M500.2 351.9V358.4M502.6 352.9V359.2M505.3 351.5V358.7M508.1 352.8V358.5M510.5 352.5V358.7M513.0 352.2V357.5M515.3 352.7V358.1" stroke="#0b930b" stroke-width="1.50" stroke-linecap="round" fill="none"/><polyline points="42.9,352.8 45.7,359.2 48.6,353.0 50.9,358.9 53.9,352.8 57.5,358.9 59.9,353.2 62.5,359.7 64.5,353.1 67.7,358.9 70.3,353.2 73.6,358.6 76.0,352.3 78.2,359.2 80.8,352.6 83.3,359.7 86.6,352.4 89.4,358.5 91.8,352.3 95.3,358.9 97.7,352.4 100.1,359.9 102.6,353.2 105.7,358.4 108.4,353.5 111.2,359.9 113.3,353.3 116.1,359.7 118.6,353.4 121.2,358.6 124.1,352.7 126.7,359.2 129.5,352.0 132.4,359.3 135.0,352.8 138.2,359.3 140.2,352.0 143.6,359.7 146.5,353.2 148.7,358.7 151.8,352.4 153.5,358.8 156.4,352.3 158.9,359.4 162.2,353.1 164.7,359.0 167.5,352.7 169.9,358.1 172.3,351.7 176.0,358.4 179.0,352.9 180.7,358.5 184.1,353.3 186.3,359.2 189.5,353.4 192.0,359.6 194.9,353.6 197.9,358.5 199.7,352.8 203.2,333.0 205.0,315.4 208.5,332.3 210.3,314.5 213.1,335.6 216.1,316.5 218.5,338.5 222.0,319.5 223.7,336.0 226.8,317.7 229.8,333.3 232.8,319.2 235.7,324.4 237.8,318.3 240.1,325.7 242.8,318.4 246.0,326.3 248.1,319.3 251.8,325.9 254.5,319.4 257.0,326.1 260.0,319.3 262.0,325.7 265.4,315.7 267.1,323.2 269.9,316.6 272.9,335.2 276.1,317.5 277.6,325.3 281.5,318.1 283.5,325.0 286.9,318.8 289.6,338.5 292.3,321.7 294.6,327.9 296.7,322.2 299.6,328.2 302.4,321.1 305.5,327.3 307.8,322.3 310.7,328.1 313.2,321.5 316.3,328.3 318.3,322.0 321.4,327.8 324.7,321.9 326.6,324.6 329.6,315.2 332.7,320.5 335.3,313.5 337.7,320.7 339.8,314.1 343.6,324.7 346.4,353.3 348.9,359.6 351.6,352.9 354.4,358.3 357.1,353.3 359.3,358.4 361.9,351.8 364.6,358.4 366.9,352.5 369.7,358.7 373.1,353.0 375.8,358.3 378.5,352.2 381.0,358.0 383.1,352.2 386.1,357.7 389.6,352.9 392.3,357.6 394.1,352.9 396.9,358.7 399.4,352.0 402.3,359.3 405.1,352.3 407.6,358.1 411.2,352.3 412.7,357.9 415.9,352.8 418.1,358.1 421.2,351.4 424.5,357.7 426.3,351.5 429.6,357.5 432.3,352.3 435.0,358.5 437.6,353.1 440.5,358.7 442.7,352.9 445.4,359.8 448.8,353.4 450.7,359.1 454.3,352.0 457.1,358.5 459.3,351.8 461.6,359.1 464.5,352.7 467.3,358.9 470.3,351.6 473.3,358.0 475.3,351.6 477.7,358.0 480.6,351.9 484.1,358.1 485.8,352.2 488.6,358.0 491.0,352.7 494.5,358.1 497.0,352.4 500.2,358.4 502.6,352.9 505.3,358.7 508.1,352.8 510.5,358.7 513.0,352.2 515.3,358.1" fill="none" stroke="#0b930b" stroke-width="0.80" stroke-linejoin="round"/><polyline points="42.0,355.8 42.6,355.8 43.2,355.8 43.8,355.8 44.5,355.8 45.1,355.8 45.7,355.8 46.3,355.7 46.9,355.8 47.5,355.7 48.1,355.7 48.8,355.7 49.4,355.8 50.0,355.8 50.6,355.9 51.2,356.0 51.8,356.0 52.4,356.0 53.0,356.0 53.7,356.0 54.3,356.0 54.9,356.1 55.5,356.0 56.1,356.0 56.7,356.0 57.3,356.0 58.0,356.0 58.6,355.9 59.2,355.9 59.8,355.9 60.4,355.9 61.0,355.9 61.6,355.9 62.3,355.9 62.9,355.9 63.5,355.9 64.1,356.0 64.7,355.9 65.3,356.0 65.9,355.9 66.5,356.0 67.2,356.0 67.8,356.0 68.4,356.0 69.0,355.9 69.6,355.9 70.2,355.9 70.8,355.9 71.5,355.9 72.1,355.9 72.7,355.8 73.3,355.8 73.9,355.8 74.5,355.7 75.1,355.9 75.8,355.8 76.4,355.8 77.0,355.8 77.6,355.8 78.2,355.7 78.8,355.7 79.4,355.8 80.1,355.8 80.7,355.8 81.3,355.8 81.9,355.8 82.5,355.9 83.1,356.0 83.7,356.0 84.3,356.1 85.0,356.1 85.6,356.1 86.2,356.1 86.8,356.1 87.4,356.0 88.0,356.0 88.6,355.9 89.3,356.0 89.9,356.0 90.5,356.0 91.1,356.0 91.7,356.1 92.3,356.1 92.9,356.0 93.6,356.1 94.2,356.0 94.8,356.0 95.4,356.1 96.0,356.0 96.6,356.1 97.2,356.1 97.9,356.1 98.5,356.1 99.1,356.0 99.7,356.0 100.3,356.0 100.9,356.0 101.5,356.0 102.1,356.0 102.8,355.9 103.4,355.9 104.0,355.9 104.6,355.9 105.2,355.8 105.8,355.8 106.4,355.9 107.1,356.0 107.7,356.1 108.3,356.1 108.9,356.0 109.5,356.0 110.1,356.0 110.7,356.0 111.4,356.1 112.0,356.1 112.6,356.1 113.2,356.0 113.8,356.0 114.4,356.1 115.0,356.0 115.7,356.0 116.3,356.0 116.9,355.9 117.5,355.8 118.1,355.9 118.7,355.9 119.3,355.9 119.9,355.8 120.6,355.8 121.2,355.8 121.8,355.9 122.4,355.9 123.0,355.8 123.6,355.8 124.2,355.9 124.9,355.9 125.5,355.9 126.1,355.8 126.7,355.7 127.3,355.8 127.9,355.9 128.5,355.8 129.2,355.9 129.8,355.9 130.4,355.9 131.0,355.8 131.6,355.9 132.2,356.0 132.8,355.9 133.4,355.9 134.1,355.9 134.7,356.0 135.3,355.8 135.9,355.9 136.5,356.0 137.1,355.8 137.7,355.9 138.4,355.8 139.0,355.8 139.6,355.8 140.2,355.7 140.8,355.7 141.4,355.8 142.0,355.8 142.7,355.8 143.3,355.8 143.9,355.8 144.5,355.8 145.1,355.8 145.7,355.9 146.3,355.9 147.0,355.8 147.6,355.8 148.2,355.6 148.8,355.6 149.4,355.5 150.0,355.5 150.6,355.5 151.2,355.5 151.9,355.5 152.5,355.6 153.1,355.6 153.7,355.5 154.3,355.6 154.9,355.6 155.5,355.6 156.2,355.7 156.8,355.6 157.4,355.7 158.0,355.7 158.6,355.6 159.2,355.6 159.8,355.6 160.5,355.5 161.1,355.5 161.7,355.6 162.3,355.5 162.9,355.5 163.5,355.5 164.1,355.5 164.8,355.4 165.4,355.3 166.0,355.4 166.6,355.4 167.2,355.4 167.8,355.4 168.4,355.4 169.0,355.6 169.7,355.5 170.3,355.4 170.9,355.4 171.5,355.4 172.1,355.4 172.7,355.4 173.3,355.4 174.0,355.4 174.6,355.4 175.2,355.4 175.8,355.5 176.4,355.6 177.0,355.6 177.6,355.6 178.3,355.7 178.9,355.6 179.5,355.6 180.1,355.6 180.7,355.6 181.3,355.7 181.9,355.7 182.5,355.8 183.2,355.9 183.8,355.8 184.4,355.9 185.0,355.8 185.6,355.9 186.2,356.0 186.8,356.0 187.5,356.0 188.1,356.0 188.7,356.0 189.3,356.0 189.9,356.0 190.5,356.0 191.1,356.1 191.8,356.2 192.4,356.2 193.0,356.2 193.6,356.2 194.2,356.1 194.8,356.1 195.4,355.9 196.1,355.9 196.7,356.0 197.3,355.9 197.9,356.0 198.5,356.0 199.1,356.0 199.7,356.0 200.3,347.8 201.0,327.4 201.6,323.1 202.2,322.9 202.8,323.0 203.4,322.9 204.0,323.2 204.6,322.8 205.3,322.9 205.9,322.9 206.5,323.0 207.1,323.3 207.7,323.7 208.3,323.7 208.9,324.0 209.6,324.3 210.2,324.1 210.8,324.1 211.4,324.4 212.0,324.6 212.6,324.8 213.2,325.2 213.8,325.4 214.5,326.1 215.1,326.4 215.7,326.4 216.3,326.7 216.9,326.8 217.5,327.1 218.1,327.1 218.8,327.2 219.4,327.1 220.0,326.8 220.6,326.7 221.2,326.8 221.8,326.8 222.4,327.0 223.1,326.9 223.7,327.1 224.3,326.9 224.9,326.8 225.5,326.4 226.1,326.3 226.7,325.9 227.4,326.1 228.0,326.1 228.6,326.2 229.2,325.6 229.8,324.7 230.4,324.0 231.0,323.3 231.6,323.1 232.3,322.8 232.9,322.3 233.5,321.8 234.1,321.8 234.7,321.8 235.3,321.8 235.9,321.9 236.6,321.9 237.2,321.9 237.8,321.9 238.4,322.0 239.0,322.0 239.6,322.1 240.2,322.1 240.9,322.2 241.5,322.1 242.1,322.2 242.7,322.3 243.3,322.4 243.9,322.5 244.5,322.6 245.2,322.6 245.8,322.6 246.4,322.6 247.0,322.5 247.6,322.5 248.2,322.5 248.8,322.6 249.4,322.5 250.1,322.5 250.7,322.5 251.3,322.6 251.9,322.7 252.5,322.7 253.1,322.8 253.7,322.8 254.4,322.8 255.0,322.8 255.6,322.8 256.2,322.8 256.8,322.9 257.4,322.9 258.0,323.0 258.7,322.9 259.3,323.0 259.9,323.0 260.5,323.1 261.1,323.0 261.7,323.0 262.3,323.1 262.9,323.1 263.6,323.0 264.2,321.8 264.8,320.7 265.4,319.5 266.0,319.5 266.6,319.6 267.2,319.5 267.9,319.5 268.5,319.5 269.1,319.5 269.7,319.5 270.3,319.4 270.9,319.4 271.5,319.4 272.2,319.8 272.8,320.4 273.4,320.7 274.0,320.9 274.6,321.1 275.2,321.2 275.8,321.2 276.5,321.3 277.1,321.5 277.7,321.6 278.3,321.7 278.9,321.6 279.5,321.5 280.1,321.5 280.7,321.3 281.4,321.3 282.0,321.3 282.6,321.2 283.2,321.2 283.8,321.1 284.4,321.1 285.0,321.1 285.7,321.1 286.3,321.1 286.9,321.2 287.5,321.2 288.1,321.2 288.7,321.3 289.3,321.2 290.0,323.2 290.6,325.4 291.2,325.3 291.8,325.3 292.4,325.4 293.0,325.5 293.6,325.5 294.3,325.5 294.9,325.5 295.5,325.5 296.1,325.4 296.7,325.4 297.3,325.3 297.9,325.2 298.5,325.2 299.2,325.3 299.8,325.3 300.4,325.2 301.0,325.2 301.6,325.0 302.2,325.0 302.8,324.9 303.5,324.9 304.1,324.9 304.7,324.9 305.3,324.8 305.9,324.9 306.5,324.9 307.1,324.8 307.8,324.8 308.4,324.9 309.0,325.1 309.6,325.0 310.2,325.0 310.8,325.0 311.4,325.0 312.1,325.0 312.7,325.0 313.3,325.0 313.9,324.9 314.5,324.8 315.1,324.8 315.7,324.8 316.3,324.9 317.0,324.9 317.6,325.0 318.2,324.9 318.8,325.0 319.4,324.9 320.0,324.9 320.6,324.9 321.3,324.9 321.9,325.0 322.5,324.9 323.1,324.8 323.7,324.7 324.3,324.7 324.9,324.6 325.6,324.5 326.2,322.9 326.8,321.4 327.4,319.8 328.0,318.2 328.6,318.1 329.2,318.1 329.8,318.1 330.5,318.0 331.1,317.8 331.7,317.8 332.3,317.6 332.9,317.5 333.5,317.5 334.1,317.5 334.8,317.4 335.4,317.2 336.0,317.1 336.6,317.0 337.2,316.9 337.8,316.8 338.4,316.7 339.1,316.6 339.7,316.6 340.3,316.4 340.9,316.3 341.5,316.1 342.1,316.1 342.7,316.0 343.4,316.0 344.0,322.4 344.6,338.8 345.2,355.0 345.8,355.4 346.4,355.8 347.0,355.8 347.6,355.8 348.3,355.8 348.9,355.8 349.5,355.8 350.1,355.8 350.7,355.7 351.3,355.7 351.9,355.7 352.6,355.5 353.2,355.6 353.8,355.6 354.4,355.7 355.0,355.8 355.6,355.7 356.2,355.5 356.9,355.6 357.5,355.7 358.1,355.6 358.7,355.6 359.3,355.7 359.9,355.6 360.5,355.7 361.1,355.6 361.8,355.6 362.4,355.5 363.0,355.4 363.6,355.4 364.2,355.3 364.8,355.3 365.4,355.4 366.1,355.4 366.7,355.4 367.3,355.4 367.9,355.4 368.5,355.3 369.1,355.4 369.7,355.5 370.4,355.4 371.0,355.4 371.6,355.5 372.2,355.5 372.8,355.5 373.4,355.4 374.0,355.4 374.7,355.4 375.3,355.6 375.9,355.6 376.5,355.5 377.1,355.5 377.7,355.6 378.3,355.5 378.9,355.5 379.6,355.4 380.2,355.5 380.8,355.5 381.4,355.4 382.0,355.4 382.6,355.4 383.2,355.4 383.9,355.5 384.5,355.4 385.1,355.4 385.7,355.3 386.3,355.3 386.9,355.3 387.5,355.3 388.2,355.2 388.8,355.2 389.4,355.3 390.0,355.4 390.6,355.3 391.2,355.2 391.8,355.3 392.5,355.3 393.1,355.2 393.7,355.3 394.3,355.2 394.9,355.3 395.5,355.3 396.1,355.3 396.7,355.2 397.4,355.3 398.0,355.3 398.6,355.4 399.2,355.5 399.8,355.5 400.4,355.5 401.0,355.5 401.7,355.5 402.3,355.5 402.9,355.4 403.5,355.4 404.1,355.3 404.7,355.4 405.3,355.3 406.0,355.3 406.6,355.4 407.2,355.4 407.8,355.5 408.4,355.4 409.0,355.4 409.6,355.4 410.2,355.4 410.9,355.4 411.5,355.4 412.1,355.3 412.7,355.2 413.3,355.4 413.9,355.3 414.5,355.3 415.2,355.3 415.8,355.3 416.4,355.3 417.0,355.3 417.6,355.1 418.2,355.1 418.8,355.2 419.5,355.2 420.1,355.2 420.7,355.2 421.3,355.1 421.9,355.1 422.5,355.0 423.1,355.0 423.8,355.1 424.4,355.1 425.0,355.1 425.6,355.0 426.2,355.0 426.8,355.1 427.4,355.1 428.0,355.1 428.7,355.0 429.3,355.0 429.9,355.1 430.5,355.2 431.1,355.1 431.7,355.2 432.3,355.2 433.0,355.2 433.6,355.2 434.2,355.2 434.8,355.3 435.4,355.3 436.0,355.3 436.6,355.5 437.3,355.5 437.9,355.5 438.5,355.5 439.1,355.4 439.7,355.6 440.3,355.6 440.9,355.7 441.6,355.7 442.2,355.9 442.8,355.9 443.4,355.8 444.0,355.9 444.6,355.9 445.2,355.9 445.8,355.8 446.5,355.8 447.1,355.8 447.7,355.8 448.3,355.8 448.9,355.8 449.5,355.8 450.1,355.8 450.8,355.9 451.4,355.8 452.0,355.8 452.6,355.8 453.2,355.8 453.8,355.7 454.4,355.7 455.1,355.7 455.7,355.7 456.3,355.7 456.9,355.6 457.5,355.6 458.1,355.6 458.7,355.6 459.4,355.5 460.0,355.6 460.6,355.6 461.2,355.5 461.8,355.3 462.4,355.4 463.0,355.4 463.6,355.4 464.3,355.3 464.9,355.3 465.5,355.2 466.1,355.3 466.7,355.2 467.3,355.3 467.9,355.3 468.6,355.3 469.2,355.4 469.8,355.4 470.4,355.4 471.0,355.4 471.6,355.4 472.2,355.4 472.9,355.4 473.5,355.4 474.1,355.4 474.7,355.5 475.3,355.4 475.9,355.5 476.5,355.4 477.1,355.5 477.8,355.4 478.4,355.5 479.0,355.5 479.6,355.4 480.2,355.4 480.8,355.5 481.4,355.4 482.1,355.5 482.7,355.4 483.3,355.5 483.9,355.5 484.5,355.5 485.1,355.5 485.7,355.6 486.4,355.6 487.0,355.6 487.6,355.6 488.2,355.6 488.8,355.4 489.4,355.3 490.0,355.4 490.7,355.6 491.3,355.6 491.9,355.5 492.5,355.6 493.1,355.5 493.7,355.5 494.3,355.5 494.9,355.5 495.6,355.6 496.2,355.5 496.8,355.4 497.4,355.4 498.0,355.3 498.6,355.4 499.2,355.4 499.9,355.4 500.5,355.3 501.1,355.3 501.7,355.4 502.3,355.3 502.9,355.4 503.5,355.4 504.2,355.3 504.8,355.2 505.4,355.2 506.0,355.1 506.6,355.1 507.2,355.2 507.8,355.3 508.4,355.3 509.1,355.2 509.7,355.1 510.3,355.2 510.9,355.2 511.5,355.2 512.1,355.2 512.7,355.2 513.4,355.2 514.0,355.1 514.6,355.1 515.2,355.2 515.8,355.2 516.4,355.2 517.0,355.2" fill="none" stroke="#0b930b" stroke-width="1.0" stroke-linejoin="round"/><polygon points="42.0,345.2 42.6,345.1 43.2,345.1 43.8,345.1 44.5,345.1 45.1,345.0 45.7,344.9 46.3,345.0 46.9,345.0 47.5,344.9 48.1,344.8 48.8,344.8 49.4,344.9 50.0,344.9 50.6,344.9 51.2,344.9 51.8,344.9 52.4,344.7 53.0,344.7 53.7,344.7 54.3,344.7 54.9,344.6 55.5,344.6 56.1,344.6 56.7,344.6 57.3,344.7 58.0,344.7 58.6,345.0 59.2,345.0 59.8,345.0 60.4,344.9 61.0,345.1 61.6,345.1 62.3,345.1 62.9,345.1 63.5,345.1 64.1,345.1 64.7,345.2 65.3,345.0 65.9,345.0 66.5,345.1 67.2,345.0 67.8,345.1 68.4,345.1 69.0,345.0 69.6,345.0 70.2,345.0 70.8,344.9 71.5,345.0 72.1,345.0 72.7,344.9 73.3,345.0 73.9,345.0 74.5,345.0 75.1,345.0 75.8,344.9 76.4,344.8 77.0,344.8 77.6,344.7 78.2,344.7 78.8,344.7 79.4,344.7 80.1,344.7 80.7,344.5 81.3,344.5 81.9,344.6 82.5,344.6 83.1,344.6 83.7,344.6 84.3,344.7 85.0,344.8 85.6,344.8 86.2,345.0 86.8,344.9 87.4,344.9 88.0,344.9 88.6,344.9 89.3,344.8 89.9,344.9 90.5,344.9 91.1,344.8 91.7,344.8 92.3,344.7 92.9,344.6 93.6,344.6 94.2,344.6 94.8,344.6 95.4,344.8 96.0,344.7 96.6,344.6 97.2,344.6 97.9,344.6 98.5,344.7 99.1,344.7 99.7,344.8 100.3,344.8 100.9,344.7 101.5,344.6 102.1,344.5 102.8,344.3 103.4,344.3 104.0,344.3 104.6,344.1 105.2,344.0 105.8,344.1 106.4,344.0 107.1,344.1 107.7,344.2 108.3,344.1 108.9,344.0 109.5,344.0 110.1,344.0 110.7,344.1 111.4,344.1 112.0,344.2 112.6,344.2 113.2,344.1 113.8,344.0 114.4,343.9 115.0,343.9 115.7,343.9 116.3,344.0 116.9,343.8 117.5,343.7 118.1,343.7 118.7,343.7 119.3,343.6 119.9,343.5 120.6,343.6 121.2,343.5 121.8,343.6 122.4,343.6 123.0,343.5 123.6,343.5 124.2,343.5 124.9,343.4 125.5,343.5 126.1,343.3 126.7,343.3 127.3,343.5 127.9,343.5 128.5,343.5 129.2,343.5 129.8,343.5 130.4,343.4 131.0,343.4 131.6,343.4 132.2,343.4 132.8,343.4 133.4,343.5 134.1,343.6 134.7,343.4 135.3,343.3 135.9,343.4 136.5,343.5 137.1,343.6 137.7,343.6 138.4,343.6 139.0,343.6 139.6,343.7 140.2,343.7 140.8,343.6 141.4,343.6 142.0,343.7 142.7,343.8 143.3,343.8 143.9,343.8 144.5,343.8 145.1,343.9 145.7,343.6 146.3,343.5 147.0,343.5 147.6,343.4 148.2,343.4 148.8,343.4 149.4,343.3 150.0,343.3 150.6,343.3 151.2,343.4 151.9,343.4 152.5,343.2 153.1,343.1 153.7,343.1 154.3,343.0 154.9,343.0 155.5,343.0 156.2,342.9 156.8,342.9 157.4,343.0 158.0,343.1 158.6,343.0 159.2,343.0 159.8,343.1 160.5,343.1 161.1,343.0 161.7,342.7 162.3,342.7 162.9,342.7 163.5,342.7 164.1,342.6 164.8,342.7 165.4,342.6 166.0,342.6 166.6,342.5 167.2,342.4 167.8,342.3 168.4,342.4 169.0,342.4 169.7,342.2 170.3,342.1 170.9,342.0 171.5,341.9 172.1,341.9 172.7,341.8 173.3,342.0 174.0,341.9 174.6,341.7 175.2,341.6 175.8,341.6 176.4,341.5 177.0,341.5 177.6,341.6 178.3,341.5 178.9,341.4 179.5,341.3 180.1,341.4 180.7,341.5 181.3,341.5 181.9,341.3 182.5,341.3 183.2,341.3 183.8,341.4 184.4,341.4 185.0,341.5 185.6,341.5 186.2,341.6 186.8,341.6 187.5,341.7 188.1,341.6 188.7,341.8 189.3,341.7 189.9,341.7 190.5,341.8 191.1,341.8 191.8,342.0 192.4,341.9 193.0,341.9 193.6,341.9 194.2,341.9 194.8,342.0 195.4,342.0 196.1,341.9 196.7,341.9 197.3,341.9 197.9,341.9 198.5,341.9 199.1,341.9 199.7,341.7 200.3,332.4 201.0,305.1 201.6,299.6 202.2,299.3 202.8,299.1 203.4,299.0 204.0,298.8 204.6,299.1 205.3,298.9 205.9,298.7 206.5,298.5 207.1,298.6 207.7,298.7 208.3,298.8 208.9,298.7 209.6,298.7 210.2,298.9 210.8,298.8 211.4,298.8 212.0,298.5 212.6,298.6 213.2,298.6 213.8,298.1 214.5,298.1 215.1,298.1 215.7,298.2 216.3,297.8 216.9,298.0 217.5,298.3 218.1,298.3 218.8,298.6 219.4,298.5 220.0,298.8 220.6,298.5 221.2,299.1 221.8,299.3 222.4,299.4 223.1,299.6 223.7,299.4 224.3,299.7 224.9,299.6 225.5,299.9 226.1,299.7 226.7,299.4 227.4,299.2 228.0,299.1 228.6,299.4 229.2,299.3 229.8,299.1 230.4,299.0 231.0,299.2 231.6,302.2 232.3,305.0 232.9,305.6 233.5,305.9 234.1,305.9 234.7,306.0 235.3,306.1 235.9,306.1 236.6,305.9 237.2,305.8 237.8,305.8 238.4,305.9 239.0,305.8 239.6,305.9 240.2,305.8 240.9,305.7 241.5,305.7 242.1,305.7 242.7,305.7 243.3,305.6 243.9,305.7 244.5,305.6 245.2,305.6 245.8,305.6 246.4,305.7 247.0,305.7 247.6,305.7 248.2,305.7 248.8,305.7 249.4,305.8 250.1,305.9 250.7,305.8 251.3,305.9 251.9,305.9 252.5,305.9 253.1,305.9 253.7,305.9 254.4,306.0 255.0,306.0 255.6,306.1 256.2,306.0 256.8,306.0 257.4,305.9 258.0,305.9 258.7,305.9 259.3,305.9 259.9,305.9 260.5,306.1 261.1,306.1 261.7,306.1 262.3,306.1 262.9,306.2 263.6,305.9 264.2,304.3 264.8,302.8 265.4,301.3 266.0,301.3 266.6,301.3 267.2,301.2 267.9,301.3 268.5,301.3 269.1,301.3 269.7,301.3 270.3,301.2 270.9,301.2 271.5,301.3 272.2,302.0 272.8,302.7 273.4,303.4 274.0,303.8 274.6,303.9 275.2,304.1 275.8,304.3 276.5,304.5 277.1,304.6 277.7,304.8 278.3,304.8 278.9,304.8 279.5,304.6 280.1,304.7 280.7,304.7 281.4,304.6 282.0,304.6 282.6,304.5 283.2,304.5 283.8,304.5 284.4,304.5 285.0,304.4 285.7,304.5 286.3,304.5 286.9,304.5 287.5,304.6 288.1,304.5 288.7,304.5 289.3,304.6 290.0,306.9 290.6,309.1 291.2,309.0 291.8,309.2 292.4,309.2 293.0,309.1 293.6,309.0 294.3,309.0 294.9,309.1 295.5,309.0 296.1,308.9 296.7,308.8 297.3,308.7 297.9,308.6 298.5,308.5 299.2,308.5 299.8,308.5 300.4,308.5 301.0,308.4 301.6,308.6 302.2,308.5 302.8,308.5 303.5,308.4 304.1,308.4 304.7,308.3 305.3,308.3 305.9,308.2 306.5,308.1 307.1,308.1 307.8,308.0 308.4,308.0 309.0,308.0 309.6,307.9 310.2,307.9 310.8,307.8 311.4,307.7 312.1,307.7 312.7,307.6 313.3,307.7 313.9,307.7 314.5,307.7 315.1,307.7 315.7,307.9 316.3,308.0 317.0,308.0 317.6,308.1 318.2,308.1 318.8,308.1 319.4,308.2 320.0,308.2 320.6,308.2 321.3,308.3 321.9,308.2 322.5,308.2 323.1,308.2 323.7,308.2 324.3,308.2 324.9,308.2 325.6,308.3 326.2,306.6 326.8,304.9 327.4,303.3 328.0,301.8 328.6,301.8 329.2,301.8 329.8,301.8 330.5,301.7 331.1,301.6 331.7,301.5 332.3,301.4 332.9,301.2 333.5,301.1 334.1,301.0 334.8,300.9 335.4,300.7 336.0,300.7 336.6,300.5 337.2,300.4 337.8,300.3 338.4,300.2 339.1,300.2 339.7,299.9 340.3,299.8 340.9,299.6 341.5,299.4 342.1,299.1 342.7,298.8 343.4,298.4 344.0,312.4 344.6,329.7 345.2,335.0 345.8,337.5 346.4,338.1 347.0,338.6 347.6,338.6 348.3,338.5 348.9,338.4 349.5,338.4 350.1,338.4 350.7,338.4 351.3,338.4 351.9,338.4 352.6,338.4 353.2,338.4 353.8,338.4 354.4,338.3 355.0,338.3 355.6,338.3 356.2,338.3 356.9,338.2 357.5,338.1 358.1,338.1 358.7,338.2 359.3,338.2 359.9,338.1 360.5,338.1 361.1,338.0 361.8,338.1 362.4,338.2 363.0,338.2 363.6,338.2 364.2,338.2 364.8,338.3 365.4,338.3 366.1,338.3 366.7,338.2 367.3,338.2 367.9,338.2 368.5,338.2 369.1,338.1 369.7,338.2 370.4,338.3 371.0,338.3 371.6,338.3 372.2,338.4 372.8,338.4 373.4,338.4 374.0,338.4 374.7,338.4 375.3,338.4 375.9,338.5 376.5,338.7 377.1,338.5 377.7,338.6 378.3,338.5 378.9,338.6 379.6,338.6 380.2,338.7 380.8,338.8 381.4,338.7 382.0,338.6 382.6,338.5 383.2,338.6 383.9,338.5 384.5,338.5 385.1,338.5 385.7,338.6 386.3,338.5 386.9,338.5 387.5,338.4 388.2,338.4 388.8,338.4 389.4,338.4 390.0,338.3 390.6,338.4 391.2,338.3 391.8,338.4 392.5,338.4 393.1,338.4 393.7,338.4 394.3,338.5 394.9,338.4 395.5,338.1 396.1,338.1 396.7,338.0 397.4,338.0 398.0,338.1 398.6,338.0 399.2,338.0 399.8,337.9 400.4,337.8 401.0,337.8 401.7,337.9 402.3,337.9 402.9,338.0 403.5,338.0 404.1,338.0 404.7,338.0 405.3,338.1 406.0,338.1 406.6,338.1 407.2,338.1 407.8,338.3 408.4,338.2 409.0,338.3 409.6,338.1 410.2,338.2 410.9,338.1 411.5,338.1 412.1,338.1 412.7,338.0 413.3,338.0 413.9,338.1 414.5,338.2 415.2,338.2 415.8,338.2 416.4,338.2 417.0,338.2 417.6,338.3 418.2,338.3 418.8,338.3 419.5,338.4 420.1,338.5 420.7,338.5 421.3,338.4 421.9,338.3 422.5,338.3 423.1,338.3 423.8,338.3 424.4,338.3 425.0,338.3 425.6,338.3 426.2,338.4 426.8,338.2 427.4,338.2 428.0,338.3 428.7,338.2 429.3,338.2 429.9,338.3 430.5,338.3 431.1,338.4 431.7,338.4 432.3,338.4 433.0,338.5 433.6,338.5 434.2,338.5 434.8,338.5 435.4,338.5 436.0,338.4 436.6,338.5 437.3,338.5 437.9,338.6 438.5,338.5 439.1,338.5 439.7,338.5 440.3,338.5 440.9,338.6 441.6,338.6 442.2,338.5 442.8,338.4 443.4,338.4 444.0,338.3 444.6,338.4 445.2,338.4 445.8,338.4 446.5,338.4 447.1,338.2 447.7,338.3 448.3,338.2 448.9,338.3 449.5,338.3 450.1,338.3 450.8,338.3 451.4,338.4 452.0,338.3 452.6,338.2 453.2,338.2 453.8,338.2 454.4,338.2 455.1,338.1 455.7,338.1 456.3,338.3 456.9,338.1 457.5,338.0 458.1,338.0 458.7,338.1 459.4,338.2 460.0,338.1 460.6,338.1 461.2,338.3 461.8,338.3 462.4,338.3 463.0,338.3 463.6,338.2 464.3,338.2 464.9,338.2 465.5,338.2 466.1,338.2 466.7,338.3 467.3,338.3 467.9,338.2 468.6,338.1 469.2,338.2 469.8,338.2 470.4,338.1 471.0,338.2 471.6,338.3 472.2,338.3 472.9,338.4 473.5,338.3 474.1,338.5 474.7,338.3 475.3,338.2 475.9,338.3 476.5,338.4 477.1,338.3 477.8,338.3 478.4,338.2 479.0,338.2 479.6,338.2 480.2,338.1 480.8,338.2 481.4,338.2 482.1,338.1 482.7,338.1 483.3,338.0 483.9,338.0 484.5,338.0 485.1,338.1 485.7,338.1 486.4,338.0 487.0,338.0 487.6,338.0 488.2,337.9 488.8,337.9 489.4,337.9 490.0,338.0 490.7,337.9 491.3,337.9 491.9,337.9 492.5,338.0 493.1,338.0 493.7,338.0 494.3,338.0 494.9,338.1 495.6,338.0 496.2,338.1 496.8,338.0 497.4,338.1 498.0,338.1 498.6,338.1 499.2,338.1 499.9,338.0 500.5,338.0 501.1,338.1 501.7,338.0 502.3,338.1 502.9,338.1 503.5,338.1 504.2,338.1 504.8,338.1 505.4,338.2 506.0,338.2 506.6,338.2 507.2,338.3 507.8,338.2 508.4,338.1 509.1,338.1 509.7,338.0 510.3,338.1 510.9,338.0 511.5,337.9 512.1,337.9 512.7,338.0 513.4,337.9 514.0,337.8 514.6,337.9 515.2,338.0 515.8,338.0 516.4,337.9 517.0,337.9 517.0,343.2 516.4,343.2 515.8,343.3 515.2,343.3 514.6,343.2 514.0,343.2 513.4,343.2 512.7,343.3 512.1,343.2 511.5,343.3 510.9,343.3 510.3,343.4 509.7,343.3 509.1,343.4 508.4,343.5 507.8,343.5 507.2,343.6 506.6,343.6 506.0,343.6 505.4,343.5 504.8,343.5 504.2,343.5 503.5,343.4 502.9,343.4 502.3,343.4 501.7,343.4 501.1,343.4 500.5,343.4 499.9,343.4 499.2,343.4 498.6,343.4 498.0,343.4 497.4,343.4 496.8,343.3 496.2,343.4 495.6,343.4 494.9,343.4 494.3,343.3 493.7,343.3 493.1,343.3 492.5,343.3 491.9,343.2 491.3,343.2 490.7,343.3 490.0,343.3 489.4,343.3 488.8,343.3 488.2,343.3 487.6,343.4 487.0,343.4 486.4,343.4 485.7,343.4 485.1,343.4 484.5,343.3 483.9,343.3 483.3,343.4 482.7,343.5 482.1,343.4 481.4,343.5 480.8,343.5 480.2,343.4 479.6,343.5 479.0,343.5 478.4,343.5 477.8,343.7 477.1,343.6 476.5,343.7 475.9,343.6 475.3,343.6 474.7,343.6 474.1,343.8 473.5,343.6 472.9,343.7 472.2,343.6 471.6,343.6 471.0,343.5 470.4,343.5 469.8,343.6 469.2,343.5 468.6,343.4 467.9,343.5 467.3,343.7 466.7,343.6 466.1,343.5 465.5,343.6 464.9,343.6 464.3,343.5 463.6,343.5 463.0,343.6 462.4,343.6 461.8,343.7 461.2,343.6 460.6,343.5 460.0,343.5 459.4,343.5 458.7,343.4 458.1,343.4 457.5,343.4 456.9,343.4 456.3,343.6 455.7,343.5 455.1,343.4 454.4,343.5 453.8,343.6 453.2,343.6 452.6,343.6 452.0,343.7 451.4,343.7 450.8,343.6 450.1,343.6 449.5,343.6 448.9,343.6 448.3,343.5 447.7,343.6 447.1,343.6 446.5,343.7 445.8,343.7 445.2,343.7 444.6,343.8 444.0,343.6 443.4,343.7 442.8,343.8 442.2,343.8 441.6,343.9 440.9,343.9 440.3,343.9 439.7,343.8 439.1,343.8 438.5,343.9 437.9,343.9 437.3,343.8 436.6,343.8 436.0,343.8 435.4,343.8 434.8,343.8 434.2,343.8 433.6,343.8 433.0,343.8 432.3,343.7 431.7,343.7 431.1,343.7 430.5,343.7 429.9,343.7 429.3,343.6 428.7,343.6 428.0,343.6 427.4,343.6 426.8,343.5 426.2,343.7 425.6,343.7 425.0,343.7 424.4,343.6 423.8,343.6 423.1,343.6 422.5,343.7 421.9,343.7 421.3,343.7 420.7,343.8 420.1,343.8 419.5,343.7 418.8,343.6 418.2,343.6 417.6,343.6 417.0,343.5 416.4,343.5 415.8,343.5 415.2,343.5 414.5,343.5 413.9,343.4 413.3,343.3 412.7,343.4 412.1,343.4 411.5,343.4 410.9,343.4 410.2,343.5 409.6,343.5 409.0,343.6 408.4,343.6 407.8,343.6 407.2,343.4 406.6,343.4 406.0,343.5 405.3,343.4 404.7,343.3 404.1,343.3 403.5,343.3 402.9,343.3 402.3,343.2 401.7,343.2 401.0,343.1 400.4,343.2 399.8,343.2 399.2,343.3 398.6,343.3 398.0,343.4 397.4,343.4 396.7,343.4 396.1,343.5 395.5,343.5 394.9,343.7 394.3,343.8 393.7,343.8 393.1,343.7 392.5,343.8 391.8,343.7 391.2,343.7 390.6,343.7 390.0,343.7 389.4,343.8 388.8,343.7 388.2,343.8 387.5,343.7 386.9,343.8 386.3,343.9 385.7,343.9 385.1,343.9 384.5,343.9 383.9,343.9 383.2,343.9 382.6,343.8 382.0,344.0 381.4,344.0 380.8,344.1 380.2,344.0 379.6,343.9 378.9,343.9 378.3,343.9 377.7,343.9 377.1,343.9 376.5,344.0 375.9,343.8 375.3,343.7 374.7,343.7 374.0,343.7 373.4,343.7 372.8,343.8 372.2,343.7 371.6,343.7 371.0,343.6 370.4,343.6 369.7,343.5 369.1,343.5 368.5,343.6 367.9,343.5 367.3,343.5 366.7,343.5 366.1,343.6 365.4,343.7 364.8,343.6 364.2,343.5 363.6,343.6 363.0,343.5 362.4,343.5 361.8,343.4 361.1,343.4 360.5,343.4 359.9,343.4 359.3,343.5 358.7,343.5 358.1,343.4 357.5,343.4 356.9,343.5 356.2,343.6 355.6,343.7 355.0,343.6 354.4,343.6 353.8,343.7 353.2,343.7 352.6,343.7 351.9,343.8 351.3,343.8 350.7,343.8 350.1,343.8 349.5,343.8 348.9,343.8 348.3,343.9 347.6,343.9 347.0,344.0 346.4,343.4 345.8,342.9 345.2,340.3 344.6,335.1 344.0,317.8 343.4,303.8 342.7,304.1 342.1,304.4 341.5,304.7 340.9,305.0 340.3,305.1 339.7,305.2 339.1,305.5 338.4,305.5 337.8,305.6 337.2,305.7 336.6,305.8 336.0,306.0 335.4,306.1 334.8,306.2 334.1,306.3 333.5,306.4 332.9,306.6 332.3,306.7 331.7,306.9 331.1,307.0 330.5,307.0 329.8,307.1 329.2,307.1 328.6,307.1 328.0,307.1 327.4,308.7 326.8,310.3 326.2,311.9 325.6,313.6 324.9,313.5 324.3,313.5 323.7,313.5 323.1,313.5 322.5,313.5 321.9,313.5 321.3,313.6 320.6,313.5 320.0,313.5 319.4,313.5 318.8,313.4 318.2,313.4 317.6,313.5 317.0,313.4 316.3,313.4 315.7,313.2 315.1,313.1 314.5,313.1 313.9,313.0 313.3,313.0 312.7,313.0 312.1,313.0 311.4,313.0 310.8,313.1 310.2,313.3 309.6,313.3 309.0,313.3 308.4,313.4 307.8,313.3 307.1,313.4 306.5,313.4 305.9,313.6 305.3,313.6 304.7,313.7 304.1,313.7 303.5,313.7 302.8,313.9 302.2,313.9 301.6,313.9 301.0,313.7 300.4,313.8 299.8,313.8 299.2,313.8 298.5,313.8 297.9,313.9 297.3,314.0 296.7,314.1 296.1,314.3 295.5,314.4 294.9,314.4 294.3,314.4 293.6,314.3 293.0,314.4 292.4,314.5 291.8,314.5 291.2,314.4 290.6,314.4 290.0,312.2 289.3,309.9 288.7,309.9 288.1,309.9 287.5,309.9 286.9,309.8 286.3,309.9 285.7,309.8 285.0,309.8 284.4,309.8 283.8,309.8 283.2,309.8 282.6,309.8 282.0,309.9 281.4,309.9 280.7,310.0 280.1,310.0 279.5,310.0 278.9,310.1 278.3,310.1 277.7,310.2 277.1,310.0 276.5,309.8 275.8,309.6 275.2,309.4 274.6,309.3 274.0,309.1 273.4,308.8 272.8,308.1 272.2,307.4 271.5,306.6 270.9,306.6 270.3,306.5 269.7,306.6 269.1,306.6 268.5,306.6 267.9,306.6 267.2,306.6 266.6,306.6 266.0,306.6 265.4,306.6 264.8,308.1 264.2,309.6 263.6,311.2 262.9,311.5 262.3,311.5 261.7,311.4 261.1,311.4 260.5,311.4 259.9,311.3 259.3,311.2 258.7,311.2 258.0,311.3 257.4,311.2 256.8,311.3 256.2,311.4 255.6,311.4 255.0,311.3 254.4,311.3 253.7,311.3 253.1,311.2 252.5,311.2 251.9,311.2 251.3,311.2 250.7,311.2 250.1,311.2 249.4,311.1 248.8,311.0 248.2,311.0 247.6,311.0 247.0,311.1 246.4,311.1 245.8,311.0 245.2,311.0 244.5,310.9 243.9,311.0 243.3,310.9 242.7,311.0 242.1,311.0 241.5,311.0 240.9,311.1 240.2,311.1 239.6,311.2 239.0,311.2 238.4,311.2 237.8,311.2 237.2,311.2 236.6,311.2 235.9,311.4 235.3,311.4 234.7,311.3 234.1,311.3 233.5,311.2 232.9,310.9 232.3,310.4 231.6,312.9 231.0,315.2 230.4,315.0 229.8,315.1 229.2,315.3 228.6,315.4 228.0,315.1 227.4,315.2 226.7,315.4 226.1,315.7 225.5,315.9 224.9,315.6 224.3,315.7 223.7,315.4 223.1,315.6 222.4,315.4 221.8,315.3 221.2,315.1 220.6,314.5 220.0,314.8 219.4,314.5 218.8,314.6 218.1,314.3 217.5,314.3 216.9,314.0 216.3,313.7 215.7,314.1 215.1,314.1 214.5,314.1 213.8,314.1 213.2,314.6 212.6,314.6 212.0,314.5 211.4,314.8 210.8,314.7 210.2,314.8 209.6,314.7 208.9,314.7 208.3,314.8 207.7,314.7 207.1,314.6 206.5,314.5 205.9,314.7 205.3,314.9 204.6,315.0 204.0,314.8 203.4,315.0 202.8,315.0 202.2,315.3 201.6,315.6 201.0,318.4 200.3,337.7 199.7,347.0 199.1,347.2 198.5,347.2 197.9,347.2 197.3,347.2 196.7,347.2 196.1,347.3 195.4,347.3 194.8,347.3 194.2,347.3 193.6,347.2 193.0,347.2 192.4,347.2 191.8,347.3 191.1,347.1 190.5,347.1 189.9,347.1 189.3,347.1 188.7,347.1 188.1,347.0 187.5,347.0 186.8,347.0 186.2,346.9 185.6,346.9 185.0,346.8 184.4,346.8 183.8,346.7 183.2,346.6 182.5,346.6 181.9,346.7 181.3,346.8 180.7,346.9 180.1,346.8 179.5,346.6 178.9,346.7 178.3,346.8 177.6,346.9 177.0,346.8 176.4,346.9 175.8,347.0 175.2,346.9 174.6,347.1 174.0,347.2 173.3,347.3 172.7,347.2 172.1,347.2 171.5,347.3 170.9,347.3 170.3,347.4 169.7,347.5 169.0,347.7 168.4,347.8 167.8,347.7 167.2,347.8 166.6,347.9 166.0,347.9 165.4,348.0 164.8,348.0 164.1,348.0 163.5,348.0 162.9,348.0 162.3,348.1 161.7,348.1 161.1,348.3 160.5,348.4 159.8,348.4 159.2,348.4 158.6,348.3 158.0,348.4 157.4,348.4 156.8,348.2 156.2,348.3 155.5,348.3 154.9,348.3 154.3,348.3 153.7,348.5 153.1,348.4 152.5,348.6 151.9,348.7 151.2,348.7 150.6,348.6 150.0,348.6 149.4,348.7 148.8,348.7 148.2,348.7 147.6,348.7 147.0,348.8 146.3,348.8 145.7,349.0 145.1,349.2 144.5,349.2 143.9,349.2 143.3,349.1 142.7,349.1 142.0,349.0 141.4,349.0 140.8,348.9 140.2,349.0 139.6,349.0 139.0,348.9 138.4,348.9 137.7,348.9 137.1,348.9 136.5,348.9 135.9,348.7 135.3,348.7 134.7,348.7 134.1,348.9 133.4,348.8 132.8,348.8 132.2,348.7 131.6,348.7 131.0,348.7 130.4,348.7 129.8,348.9 129.2,348.9 128.5,348.9 127.9,348.8 127.3,348.8 126.7,348.6 126.1,348.6 125.5,348.8 124.9,348.8 124.2,348.8 123.6,348.8 123.0,348.8 122.4,348.9 121.8,349.0 121.2,348.8 120.6,348.9 119.9,348.9 119.3,348.9 118.7,349.0 118.1,349.1 117.5,349.1 116.9,349.1 116.3,349.3 115.7,349.3 115.0,349.2 114.4,349.3 113.8,349.4 113.2,349.4 112.6,349.5 112.0,349.5 111.4,349.5 110.7,349.4 110.1,349.3 109.5,349.3 108.9,349.4 108.3,349.4 107.7,349.5 107.1,349.4 106.4,349.3 105.8,349.4 105.2,349.4 104.6,349.5 104.0,349.6 103.4,349.6 102.8,349.7 102.1,349.9 101.5,350.0 100.9,350.0 100.3,350.1 99.7,350.1 99.1,350.1 98.5,350.1 97.9,350.0 97.2,349.9 96.6,350.0 96.0,350.1 95.4,350.1 94.8,349.9 94.2,349.9 93.6,349.9 92.9,349.9 92.3,350.0 91.7,350.1 91.1,350.2 90.5,350.2 89.9,350.2 89.3,350.1 88.6,350.2 88.0,350.2 87.4,350.2 86.8,350.2 86.2,350.4 85.6,350.2 85.0,350.1 84.3,350.1 83.7,349.9 83.1,350.0 82.5,349.9 81.9,349.9 81.3,349.9 80.7,349.9 80.1,350.0 79.4,350.0 78.8,350.1 78.2,350.0 77.6,350.1 77.0,350.1 76.4,350.1 75.8,350.3 75.1,350.4 74.5,350.4 73.9,350.3 73.3,350.3 72.7,350.2 72.1,350.3 71.5,350.4 70.8,350.3 70.2,350.3 69.6,350.3 69.0,350.3 68.4,350.4 67.8,350.4 67.2,350.3 66.5,350.4 65.9,350.3 65.3,350.4 64.7,350.5 64.1,350.5 63.5,350.4 62.9,350.5 62.3,350.5 61.6,350.5 61.0,350.4 60.4,350.3 59.8,350.3 59.2,350.3 58.6,350.3 58.0,350.1 57.3,350.1 56.7,350.0 56.1,349.9 55.5,349.9 54.9,350.0 54.3,350.0 53.7,350.0 53.0,350.0 52.4,350.0 51.8,350.2 51.2,350.2 50.6,350.2 50.0,350.2 49.4,350.2 48.8,350.1 48.1,350.2 47.5,350.3 46.9,350.4 46.3,350.3 45.7,350.3 45.1,350.3 44.5,350.4 43.8,350.4 43.2,350.4 42.6,350.5 42.0,350.5" fill="#d147d1"/><path d="M42.9 343.7V350.4M46.3 344.9V350.2M48.3 343.7V350.4M50.9 345.0V350.5M54.4 343.6V351.0M56.7 343.9V351.2M59.6 344.5V351.0M61.6 344.9V351.6M64.6 344.6V351.6M67.1 344.7V350.8M70.9 344.6V351.0M72.5 343.5V351.4M76.3 344.4V351.5M77.9 343.5V351.2M80.8 344.0V350.3M84.1 343.5V349.9M86.7 344.0V350.5M88.7 343.7V350.8M91.7 343.8V350.3M94.2 343.8V350.9M97.1 343.4V350.2M99.9 343.9V350.6M102.8 343.2V350.1M105.8 343.2V350.8M107.5 343.6V350.0M111.1 343.8V350.3M114.1 343.7V350.7M116.0 342.8V350.3M119.2 343.4V349.9M121.6 343.3V350.1M124.1 342.1V349.3M127.1 342.5V348.9M129.2 343.2V349.0M132.7 342.5V348.7M135.2 342.8V348.6M137.6 343.7V350.1M139.9 342.4V350.3M143.9 344.0V350.3M146.2 342.2V349.0M148.1 342.9V348.6M151.8 342.7V349.7M153.5 342.5V349.1M156.7 342.3V349.0M159.0 341.8V348.8M162.7 342.4V348.8M165.1 341.2V349.0M167.8 341.6V348.3M170.1 341.0V347.9M172.7 341.8V347.7M175.1 341.5V346.8M178.9 341.1V347.1M180.6 340.3V347.3M183.9 340.9V346.9M186.1 340.5V347.9M188.6 340.8V348.2M191.3 341.7V347.6M194.3 341.3V348.3M196.8 341.9V347.8M200.4 327.5V335.2M202.8 298.8V314.6M205.0 295.5V315.9M207.4 297.0V318.4M210.7 296.5V318.3M213.9 296.5V318.1M215.8 292.3V317.3M219.0 276.1V317.1M221.2 236.8V324.7M224.9 288.2V326.3M226.6 297.5V319.0M229.3 282.6V315.3M232.5 304.9V310.6M234.8 304.9V312.6M238.3 305.2V311.7M240.8 305.1V311.0M243.4 304.9V311.1M246.5 304.7V311.2M248.5 304.3V311.6M250.7 305.8V311.1M253.7 304.6V311.9M256.4 305.5V311.7M259.0 305.1V311.1M262.0 305.6V311.9M264.2 303.7V310.3M266.8 300.8V306.9M270.2 300.2V306.9M272.4 301.7V308.0M276.0 285.0V311.0M277.8 304.9V311.4M280.4 304.8V310.3M283.8 304.3V310.8M286.8 304.3V311.0M289.5 299.6V311.3M292.3 308.7V315.4M294.4 308.2V314.3M296.9 307.5V315.2M299.3 307.0V313.7M303.2 307.6V315.2M305.4 307.0V313.7M308.6 307.4V313.5M311.2 306.7V313.6M313.6 306.4V313.4M316.5 307.1V313.4M318.4 307.6V313.5M322.0 307.0V314.9M324.7 307.1V313.6M326.9 303.3V309.9M329.5 300.6V307.4M332.3 300.6V307.3M335.1 300.6V306.0M337.3 300.6V306.6M341.0 299.4V305.5M342.9 290.7V305.1M345.2 334.9V340.4M348.6 337.5V343.7M350.7 338.2V344.5M354.6 338.2V345.1M357.2 336.9V343.3M359.7 338.1V344.5M361.4 336.9V343.9M365.2 337.5V344.6M367.0 338.0V343.9M370.3 338.1V344.8M372.4 337.7V344.5M375.8 338.3V344.1M378.5 337.8V344.2M380.7 337.9V344.9M383.3 338.8V344.2M386.8 338.3V344.1M389.6 337.4V345.1M391.3 338.3V343.8M395.1 337.3V344.6M397.2 337.0V343.4M399.6 336.8V343.3M402.5 336.7V344.2M404.6 337.6V343.7M407.9 336.9V344.1M410.8 338.3V343.6M413.3 338.1V344.6M415.4 337.4V344.5M419.0 338.4V343.9M421.4 337.7V344.1M423.7 338.0V343.8M427.3 337.3V344.6M429.7 337.8V344.4M431.6 338.1V344.0M434.8 337.6V344.5M438.0 337.2V345.0M440.5 338.4V344.1M442.9 338.5V344.2M446.1 338.3V344.2M448.4 336.9V344.3M450.7 337.3V343.5M453.3 338.4V343.9M457.1 338.0V343.6M458.9 337.0V343.4M462.0 338.3V344.0M464.3 337.6V343.7M467.1 338.2V344.5M469.8 338.0V343.5M472.1 337.8V344.8M474.8 337.7V344.8M477.6 337.1V345.0M481.1 337.6V343.5M483.2 336.7V343.3M486.2 337.4V344.7M489.1 337.4V343.2M491.6 337.6V343.2M494.9 337.7V343.5M497.4 336.7V344.2M500.2 337.3V344.5M502.2 338.0V343.3M505.8 338.2V343.9M508.4 337.3V343.9M510.8 337.3V344.7M513.6 337.2V344.0M515.5 337.2V343.9" stroke="#cc33cc" stroke-width="1.50" stroke-linecap="round" fill="none"/><polyline points="42.9,343.7 46.3,350.2 48.3,343.7 50.9,350.5 54.4,343.6 56.7,351.2 59.6,344.5 61.6,351.6 64.6,344.6 67.1,350.8 70.9,344.6 72.5,351.4 76.3,344.4 77.9,351.2 80.8,344.0 84.1,349.9 86.7,344.0 88.7,350.8 91.7,343.8 94.2,350.9 97.1,343.4 99.9,350.6 102.8,343.2 105.8,350.8 107.5,343.6 111.1,350.3 114.1,343.7 116.0,350.3 119.2,343.4 121.6,350.1 124.1,342.1 127.1,348.9 129.2,343.2 132.7,348.7 135.2,342.8 137.6,350.1 139.9,342.4 143.9,350.3 146.2,342.2 148.1,348.6 151.8,342.7 153.5,349.1 156.7,342.3 159.0,348.8 162.7,342.4 165.1,349.0 167.8,341.6 170.1,347.9 172.7,341.8 175.1,346.8 178.9,341.1 180.6,347.3 183.9,340.9 186.1,347.9 188.6,340.8 191.3,347.6 194.3,341.3 196.8,347.8 200.4,327.5 202.8,314.6 205.0,295.5 207.4,318.4 210.7,296.5 213.9,318.1 215.8,292.3 219.0,317.1 221.2,236.8 224.9,326.3 226.6,297.5 229.3,315.3 232.5,304.9 234.8,312.6 238.3,305.2 240.8,311.0 243.4,304.9 246.5,311.2 248.5,304.3 250.7,311.1 253.7,304.6 256.4,311.7 259.0,305.1 262.0,311.9 264.2,303.7 266.8,306.9 270.2,300.2 272.4,308.0 276.0,285.0 277.8,311.4 280.4,304.8 283.8,310.8 286.8,304.3 289.5,311.3 292.3,308.7 294.4,314.3 296.9,307.5 299.3,313.7 303.2,307.6 305.4,313.7 308.6,307.4 311.2,313.6 313.6,306.4 316.5,313.4 318.4,307.6 322.0,314.9 324.7,307.1 326.9,309.9 329.5,300.6 332.3,307.3 335.1,300.6 337.3,306.6 341.0,299.4 342.9,305.1 345.2,334.9 348.6,343.7 350.7,338.2 354.6,345.1 357.2,336.9 359.7,344.5 361.4,336.9 365.2,344.6 367.0,338.0 370.3,344.8 372.4,337.7 375.8,344.1 378.5,337.8 380.7,344.9 383.3,338.8 386.8,344.1 389.6,337.4 391.3,343.8 395.1,337.3 397.2,343.4 399.6,336.8 402.5,344.2 404.6,337.6 407.9,344.1 410.8,338.3 413.3,344.6 415.4,337.4 419.0,343.9 421.4,337.7 423.7,343.8 427.3,337.3 429.7,344.4 431.6,338.1 434.8,344.5 438.0,337.2 440.5,344.1 442.9,338.5 446.1,344.2 448.4,336.9 450.7,343.5 453.3,338.4 457.1,343.6 458.9,337.0 462.0,344.0 464.3,337.6 467.1,344.5 469.8,338.0 472.1,344.8 474.8,337.7 477.6,345.0 481.1,337.6 483.2,343.3 486.2,337.4 489.1,343.2 491.6,337.6 494.9,343.5 497.4,336.7 500.2,344.5 502.2,338.0 505.8,343.9 508.4,337.3 510.8,344.7 513.6,337.2 515.5,343.9" fill="none" stroke="#cc33cc" stroke-width="0.80" stroke-linejoin="round"/><polyline points="42.0,347.8 42.6,347.8 43.2,347.8 43.8,347.7 44.5,347.7 45.1,347.7 45.7,347.6 46.3,347.7 46.9,347.7 47.5,347.6 48.1,347.5 48.8,347.4 49.4,347.5 50.0,347.6 50.6,347.5 51.2,347.5 51.8,347.5 52.4,347.4 53.0,347.3 53.7,347.4 54.3,347.3 54.9,347.3 55.5,347.3 56.1,347.2 56.7,347.3 57.3,347.4 58.0,347.4 58.6,347.6 59.2,347.6 59.8,347.6 60.4,347.6 61.0,347.7 61.6,347.8 62.3,347.8 62.9,347.8 63.5,347.7 64.1,347.8 64.7,347.9 65.3,347.7 65.9,347.7 66.5,347.7 67.2,347.7 67.8,347.7 68.4,347.8 69.0,347.7 69.6,347.6 70.2,347.6 70.8,347.6 71.5,347.7 72.1,347.7 72.7,347.6 73.3,347.6 73.9,347.6 74.5,347.7 75.1,347.7 75.8,347.6 76.4,347.4 77.0,347.4 77.6,347.4 78.2,347.4 78.8,347.4 79.4,347.4 80.1,347.3 80.7,347.2 81.3,347.2 81.9,347.3 82.5,347.3 83.1,347.3 83.7,347.2 84.3,347.4 85.0,347.4 85.6,347.5 86.2,347.7 86.8,347.6 87.4,347.6 88.0,347.5 88.6,347.5 89.3,347.5 89.9,347.5 90.5,347.5 91.1,347.5 91.7,347.5 92.3,347.3 92.9,347.2 93.6,347.3 94.2,347.2 94.8,347.3 95.4,347.4 96.0,347.4 96.6,347.3 97.2,347.3 97.9,347.3 98.5,347.4 99.1,347.4 99.7,347.5 100.3,347.4 100.9,347.4 101.5,347.3 102.1,347.2 102.8,347.0 103.4,347.0 104.0,346.9 104.6,346.8 105.2,346.7 105.8,346.8 106.4,346.7 107.1,346.8 107.7,346.9 108.3,346.8 108.9,346.7 109.5,346.6 110.1,346.7 110.7,346.7 111.4,346.8 112.0,346.9 112.6,346.8 113.2,346.8 113.8,346.7 114.4,346.6 115.0,346.6 115.7,346.6 116.3,346.7 116.9,346.5 117.5,346.4 118.1,346.4 118.7,346.3 119.3,346.3 119.9,346.2 120.6,346.2 121.2,346.2 121.8,346.3 122.4,346.2 123.0,346.2 123.6,346.1 124.2,346.2 124.9,346.1 125.5,346.1 126.1,346.0 126.7,346.0 127.3,346.2 127.9,346.2 128.5,346.2 129.2,346.2 129.8,346.2 130.4,346.1 131.0,346.1 131.6,346.1 132.2,346.1 132.8,346.1 133.4,346.1 134.1,346.2 134.7,346.1 135.3,346.0 135.9,346.1 136.5,346.2 137.1,346.2 137.7,346.2 138.4,346.3 139.0,346.3 139.6,346.3 140.2,346.3 140.8,346.2 141.4,346.3 142.0,346.3 142.7,346.5 143.3,346.4 143.9,346.5 144.5,346.5 145.1,346.5 145.7,346.3 146.3,346.2 147.0,346.1 147.6,346.0 148.2,346.0 148.8,346.1 149.4,346.0 150.0,346.0 150.6,346.0 151.2,346.0 151.9,346.0 152.5,345.9 153.1,345.7 153.7,345.8 154.3,345.6 154.9,345.6 155.5,345.6 156.2,345.6 156.8,345.6 157.4,345.7 158.0,345.7 158.6,345.6 159.2,345.7 159.8,345.7 160.5,345.7 161.1,345.6 161.7,345.4 162.3,345.4 162.9,345.4 163.5,345.4 164.1,345.3 164.8,345.3 165.4,345.3 166.0,345.3 166.6,345.2 167.2,345.1 167.8,345.0 168.4,345.1 169.0,345.1 169.7,344.8 170.3,344.7 170.9,344.6 171.5,344.6 172.1,344.6 172.7,344.5 173.3,344.6 174.0,344.6 174.6,344.4 175.2,344.3 175.8,344.3 176.4,344.2 177.0,344.2 177.6,344.2 178.3,344.2 178.9,344.1 179.5,344.0 180.1,344.1 180.7,344.2 181.3,344.1 181.9,344.0 182.5,344.0 183.2,344.0 183.8,344.1 184.4,344.1 185.0,344.2 185.6,344.2 186.2,344.3 186.8,344.3 187.5,344.3 188.1,344.3 188.7,344.4 189.3,344.4 189.9,344.4 190.5,344.5 191.1,344.5 191.8,344.6 192.4,344.5 193.0,344.6 193.6,344.6 194.2,344.6 194.8,344.6 195.4,344.6 196.1,344.6 196.7,344.5 197.3,344.6 197.9,344.5 198.5,344.5 199.1,344.5 199.7,344.4 200.3,335.0 201.0,311.8 201.6,307.6 202.2,307.3 202.8,307.1 203.4,307.0 204.0,306.8 204.6,307.0 205.3,306.9 205.9,306.7 206.5,306.5 207.1,306.6 207.7,306.7 208.3,306.8 208.9,306.7 209.6,306.7 210.2,306.9 210.8,306.8 211.4,306.8 212.0,306.5 212.6,306.6 213.2,306.6 213.8,306.1 214.5,306.1 215.1,306.1 215.7,306.2 216.3,305.7 216.9,306.0 217.5,306.3 218.1,306.3 218.8,306.6 219.4,306.5 220.0,306.8 220.6,306.5 221.2,307.1 221.8,307.3 222.4,307.4 223.1,307.6 223.7,307.4 224.3,307.7 224.9,307.6 225.5,307.9 226.1,307.7 226.7,307.4 227.4,307.2 228.0,307.1 228.6,307.4 229.2,307.3 229.8,307.1 230.4,307.0 231.0,307.2 231.6,307.5 232.3,307.7 232.9,308.2 233.5,308.6 234.1,308.6 234.7,308.6 235.3,308.7 235.9,308.7 236.6,308.5 237.2,308.5 237.8,308.5 238.4,308.5 239.0,308.5 239.6,308.6 240.2,308.5 240.9,308.4 241.5,308.4 242.1,308.3 242.7,308.3 243.3,308.3 243.9,308.3 244.5,308.2 245.2,308.3 245.8,308.3 246.4,308.4 247.0,308.4 247.6,308.4 248.2,308.3 248.8,308.4 249.4,308.4 250.1,308.5 250.7,308.5 251.3,308.5 251.9,308.6 252.5,308.5 253.1,308.5 253.7,308.6 254.4,308.6 255.0,308.6 255.6,308.8 256.2,308.7 256.8,308.6 257.4,308.6 258.0,308.6 258.7,308.5 259.3,308.6 259.9,308.6 260.5,308.8 261.1,308.8 261.7,308.7 262.3,308.8 262.9,308.8 263.6,308.5 264.2,307.0 264.8,305.5 265.4,304.0 266.0,304.0 266.6,303.9 267.2,303.9 267.9,303.9 268.5,303.9 269.1,303.9 269.7,304.0 270.3,303.9 270.9,303.9 271.5,303.9 272.2,304.7 272.8,305.4 273.4,306.1 274.0,306.5 274.6,306.6 275.2,306.7 275.8,307.0 276.5,307.1 277.1,307.3 277.7,307.5 278.3,307.5 278.9,307.4 279.5,307.3 280.1,307.3 280.7,307.3 281.4,307.3 282.0,307.2 282.6,307.2 283.2,307.2 283.8,307.1 284.4,307.1 285.0,307.1 285.7,307.2 286.3,307.2 286.9,307.2 287.5,307.2 288.1,307.2 288.7,307.2 289.3,307.3 290.0,309.5 290.6,311.8 291.2,311.7 291.8,311.9 292.4,311.8 293.0,311.7 293.6,311.7 294.3,311.7 294.9,311.7 295.5,311.7 296.1,311.6 296.7,311.4 297.3,311.3 297.9,311.3 298.5,311.2 299.2,311.1 299.8,311.1 300.4,311.1 301.0,311.1 301.6,311.2 302.2,311.2 302.8,311.2 303.5,311.1 304.1,311.1 304.7,311.0 305.3,311.0 305.9,310.9 306.5,310.7 307.1,310.7 307.8,310.7 308.4,310.7 309.0,310.6 309.6,310.6 310.2,310.6 310.8,310.4 311.4,310.4 312.1,310.3 312.7,310.3 313.3,310.3 313.9,310.3 314.5,310.4 315.1,310.4 315.7,310.5 316.3,310.7 317.0,310.7 317.6,310.8 318.2,310.8 318.8,310.7 319.4,310.8 320.0,310.9 320.6,310.8 321.3,310.9 321.9,310.8 322.5,310.9 323.1,310.8 323.7,310.8 324.3,310.9 324.9,310.8 325.6,311.0 326.2,309.3 326.8,307.6 327.4,306.0 328.0,304.5 328.6,304.4 329.2,304.4 329.8,304.4 330.5,304.4 331.1,304.3 331.7,304.2 332.3,304.0 332.9,303.9 333.5,303.8 334.1,303.7 334.8,303.5 335.4,303.4 336.0,303.3 336.6,303.2 337.2,303.0 337.8,303.0 338.4,302.9 339.1,302.8 339.7,302.6 340.3,302.5 340.9,302.3 341.5,302.0 342.1,301.8 342.7,301.4 343.4,301.1 344.0,315.1 344.6,332.4 345.2,337.7 345.8,340.2 346.4,340.7 347.0,341.3 347.6,341.2 348.3,341.2 348.9,341.1 349.5,341.1 350.1,341.1 350.7,341.1 351.3,341.1 351.9,341.1 352.6,341.1 353.2,341.1 353.8,341.0 354.4,341.0 355.0,341.0 355.6,341.0 356.2,341.0 356.9,340.8 357.5,340.7 358.1,340.8 358.7,340.9 359.3,340.9 359.9,340.8 360.5,340.7 361.1,340.7 361.8,340.7 362.4,340.8 363.0,340.8 363.6,340.9 364.2,340.9 364.8,341.0 365.4,341.0 366.1,340.9 366.7,340.8 367.3,340.9 367.9,340.9 368.5,340.9 369.1,340.8 369.7,340.9 370.4,341.0 371.0,341.0 371.6,341.0 372.2,341.1 372.8,341.1 373.4,341.1 374.0,341.1 374.7,341.0 375.3,341.0 375.9,341.2 376.5,341.3 377.1,341.2 377.7,341.2 378.3,341.2 378.9,341.3 379.6,341.3 380.2,341.3 380.8,341.4 381.4,341.3 382.0,341.3 382.6,341.2 383.2,341.3 383.9,341.2 384.5,341.2 385.1,341.2 385.7,341.2 386.3,341.2 386.9,341.1 387.5,341.1 388.2,341.1 388.8,341.1 389.4,341.1 390.0,341.0 390.6,341.1 391.2,341.0 391.8,341.0 392.5,341.1 393.1,341.1 393.7,341.1 394.3,341.2 394.9,341.0 395.5,340.8 396.1,340.8 396.7,340.7 397.4,340.7 398.0,340.7 398.6,340.7 399.2,340.6 399.8,340.5 400.4,340.5 401.0,340.5 401.7,340.6 402.3,340.6 402.9,340.6 403.5,340.6 404.1,340.7 404.7,340.7 405.3,340.7 406.0,340.8 406.6,340.8 407.2,340.8 407.8,340.9 408.4,340.9 409.0,341.0 409.6,340.8 410.2,340.9 410.9,340.8 411.5,340.8 412.1,340.8 412.7,340.7 413.3,340.7 413.9,340.7 414.5,340.8 415.2,340.9 415.8,340.9 416.4,340.8 417.0,340.9 417.6,340.9 418.2,340.9 418.8,341.0 419.5,341.1 420.1,341.2 420.7,341.1 421.3,341.1 421.9,341.0 422.5,341.0 423.1,341.0 423.8,340.9 424.4,340.9 425.0,341.0 425.6,341.0 426.2,341.0 426.8,340.9 427.4,340.9 428.0,340.9 428.7,340.9 429.3,340.9 429.9,341.0 430.5,341.0 431.1,341.0 431.7,341.1 432.3,341.1 433.0,341.1 433.6,341.1 434.2,341.2 434.8,341.1 435.4,341.1 436.0,341.1 436.6,341.2 437.3,341.1 437.9,341.2 438.5,341.2 439.1,341.2 439.7,341.2 440.3,341.2 440.9,341.3 441.6,341.3 442.2,341.2 442.8,341.1 443.4,341.1 444.0,341.0 444.6,341.1 445.2,341.0 445.8,341.0 446.5,341.0 447.1,340.9 447.7,340.9 448.3,340.9 448.9,340.9 449.5,341.0 450.1,340.9 450.8,340.9 451.4,341.0 452.0,341.0 452.6,340.9 453.2,340.9 453.8,340.9 454.4,340.9 455.1,340.8 455.7,340.8 456.3,340.9 456.9,340.8 457.5,340.7 458.1,340.7 458.7,340.7 459.4,340.8 460.0,340.8 460.6,340.8 461.2,340.9 461.8,341.0 462.4,340.9 463.0,341.0 463.6,340.9 464.3,340.9 464.9,340.9 465.5,340.9 466.1,340.9 466.7,341.0 467.3,341.0 467.9,340.8 468.6,340.8 469.2,340.9 469.8,340.9 470.4,340.8 471.0,340.8 471.6,340.9 472.2,341.0 472.9,341.0 473.5,341.0 474.1,341.1 474.7,340.9 475.3,340.9 475.9,341.0 476.5,341.0 477.1,340.9 477.8,341.0 478.4,340.9 479.0,340.9 479.6,340.9 480.2,340.7 480.8,340.8 481.4,340.8 482.1,340.7 482.7,340.8 483.3,340.7 483.9,340.7 484.5,340.6 485.1,340.8 485.7,340.7 486.4,340.7 487.0,340.7 487.6,340.7 488.2,340.6 488.8,340.6 489.4,340.6 490.0,340.6 490.7,340.6 491.3,340.6 491.9,340.6 492.5,340.7 493.1,340.6 493.7,340.7 494.3,340.7 494.9,340.8 495.6,340.7 496.2,340.8 496.8,340.7 497.4,340.7 498.0,340.7 498.6,340.8 499.2,340.8 499.9,340.7 500.5,340.7 501.1,340.7 501.7,340.7 502.3,340.8 502.9,340.8 503.5,340.8 504.2,340.8 504.8,340.8 505.4,340.9 506.0,340.9 506.6,340.9 507.2,340.9 507.8,340.9 508.4,340.8 509.1,340.7 509.7,340.7 510.3,340.7 510.9,340.6 511.5,340.6 512.1,340.5 512.7,340.6 513.4,340.6 514.0,340.5 514.6,340.6 515.2,340.7 515.8,340.7 516.4,340.6 517.0,340.6" fill="none" stroke="#cc33cc" stroke-width="1.0" stroke-linejoin="round"/><line x1="42.00" y1="347.90" x2="516.31" y2="347.90" stroke="#000" stroke-width="2.2" stroke-dasharray="2.2 1.8" stroke-dashoffset="0.7"/>
<rect x="42.00" y="227.50" width="491.00" height="162.00" fill="none" stroke="#404040" stroke-width="1.3"/>
<path d="M91.10 389.50v-4.90M91.10 227.50v4.90M140.20 389.50v-4.90M140.20 227.50v4.90M189.30 389.50v-4.90M189.30 227.50v4.90M238.40 389.50v-4.90M238.40 227.50v4.90M287.50 389.50v-4.90M287.50 227.50v4.90M336.60 389.50v-4.90M336.60 227.50v4.90M385.70 389.50v-4.90M385.70 227.50v4.90M434.80 389.50v-4.90M434.80 227.50v4.90M483.90 389.50v-4.90M483.90 227.50v4.90M42.00 349.00h4.90M533.00 349.00h-4.90M42.00 308.50h4.90M533.00 308.50h-4.90M42.00 268.00h4.90M533.00 268.00h-4.90" stroke="#404040" stroke-width="1.3" fill="none"/>
<text class="g" x="42.00" y="406.50" font-size="12" text-anchor="middle" fill="#262626">0</text>
<text class="g" x="91.10" y="406.50" font-size="12" text-anchor="middle" fill="#262626">20</text>
<text class="g" x="140.20" y="406.50" font-size="12" text-anchor="middle" fill="#262626">40</text>
<text class="g" x="189.30" y="406.50" font-size="12" text-anchor="middle" fill="#262626">60</text>
<text class="g" x="238.40" y="406.50" font-size="12" text-anchor="middle" fill="#262626">80</text>
<text class="g" x="287.50" y="406.50" font-size="12" text-anchor="middle" fill="#262626">100</text>
<text class="g" x="336.60" y="406.50" font-size="12" text-anchor="middle" fill="#262626">120</text>
<text class="g" x="385.70" y="406.50" font-size="12" text-anchor="middle" fill="#262626">140</text>
<text class="g" x="434.80" y="406.50" font-size="12" text-anchor="middle" fill="#262626">160</text>
<text class="g" x="483.90" y="406.50" font-size="12" text-anchor="middle" fill="#262626">180</text>
<text class="g" x="533.00" y="406.50" font-size="12" text-anchor="middle" fill="#262626">200</text>
<text class="g" x="37.60" y="394.50" font-size="12" text-anchor="end" fill="#262626">1.5</text>
<text class="g" x="37.60" y="354.00" font-size="12" text-anchor="end" fill="#262626">2</text>
<text class="g" x="37.60" y="313.50" font-size="12" text-anchor="end" fill="#262626">2.5</text>
<text class="g" x="37.60" y="273.00" font-size="12" text-anchor="end" fill="#262626">3</text>
<text class="g" x="37.60" y="232.50" font-size="12" text-anchor="end" fill="#262626">3.5</text>
<text class="g" transform="translate(15.3 308.50) rotate(-90)" font-size="13.7" text-anchor="middle" fill="#262626">Distance / m</text>
<text x="288.30" y="221.00" font-size="13.5" font-weight="bold" text-anchor="middle" fill="#000">NLOS scenario for typical case (Type III) blocked by human in the middle</text>
<text class="g" x="287.50" y="424.6" font-size="13.5" text-anchor="middle" fill="#262626">Time / s</text>
<rect x="441.3" y="235.10" width="80.5" height="62.5" fill="#fff" stroke="#404040" stroke-width="1.3"/>
<line x1="445.5" y1="244.30" x2="486" y2="244.30" stroke="#0000ff" stroke-width="2.2"/>
<text class="k" x="489" y="248.50" font-size="11.2" fill="#000">AltDS</text>
<line x1="445.5" y1="259.05" x2="486" y2="259.05" stroke="#0b930b" stroke-width="2.2"/>
<text class="k" x="489" y="263.25" font-size="11.2" fill="#000">SDS</text>
<line x1="445.5" y1="273.80" x2="486" y2="273.80" stroke="#cc33cc" stroke-width="2.2"/>
<text class="k" x="489" y="278.00" font-size="11.2" fill="#000">SS</text>
<line x1="445.5" y1="288.55" x2="486" y2="288.55" stroke="#000" stroke-width="2.2" stroke-dasharray="2.2 1.8" stroke-dashoffset="0.7"/>
<text class="k" x="489" y="292.75" font-size="11.2" fill="#000">Ref.</text>
<text class="s" x="104.3" y="93.4" font-size="16.1" fill="#000">LOS</text>
<text class="s" x="251.2" y="45.4" font-size="16.1" fill="#000">NLOS</text>
<text class="s" x="386.5" y="93.4" font-size="16.1" fill="#000">LOS</text>
<text class="s" x="104.3" y="323.2" font-size="16.1" fill="#000">LOS</text>
<text class="s" x="251.2" y="266.2" font-size="16.1" fill="#000">NLOS</text>
<text class="s" x="386.5" y="323.2" font-size="16.1" fill="#000">LOS</text>
</svg></body></html>
